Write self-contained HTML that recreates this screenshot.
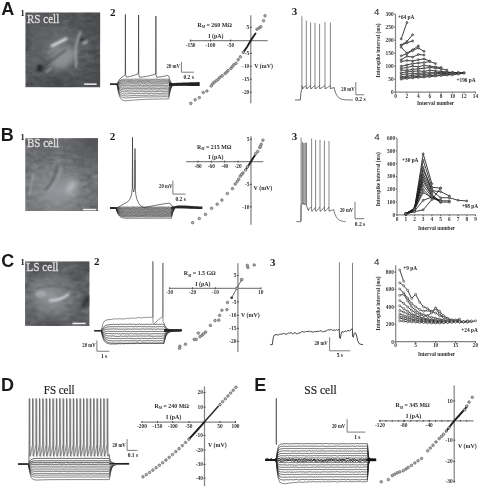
<!DOCTYPE html>
<html><head><meta charset="utf-8"><title>Figure</title>
<style>html,body{margin:0;padding:0;background:#fff;}body{width:480px;height:488px;overflow:hidden;}svg{display:block;filter:blur(0.3px);}</style>
</head><body>
<svg width="480" height="488" viewBox="0 0 480 488">
<defs>
<filter id="blur1" x="-20%" y="-20%" width="140%" height="140%"><feGaussianBlur stdDeviation="0.9"/></filter>
<filter id="blur2" x="-30%" y="-30%" width="160%" height="160%"><feGaussianBlur stdDeviation="2"/></filter>
<filter id="grain0" x="0" y="0" width="100%" height="100%" filterUnits="objectBoundingBox" color-interpolation-filters="sRGB"><feTurbulence type="fractalNoise" baseFrequency="0.13 0.22" numOctaves="4" seed="3"/><feColorMatrix type="matrix" values="0.33 0.33 0.33 0 0  0.33 0.33 0.33 0 0  0.33 0.33 0.33 0 0  0 0 0 0 1"/></filter>
<radialGradient id="rg0_0" cx="60" cy="50" r="30" gradientUnits="userSpaceOnUse"><stop offset="0" stop-color="#858585" stop-opacity="0.9"/><stop offset="1" stop-color="#858585" stop-opacity="0"/></radialGradient>
<radialGradient id="rg0_1" cx="40" cy="30" r="20" gradientUnits="userSpaceOnUse"><stop offset="0" stop-color="#6c6c6c" stop-opacity="0.6"/><stop offset="1" stop-color="#6c6c6c" stop-opacity="0"/></radialGradient>
<radialGradient id="rg0_2" cx="62" cy="96" r="26" gradientUnits="userSpaceOnUse"><stop offset="0" stop-color="#3c3c3c" stop-opacity="0.7"/><stop offset="1" stop-color="#3c3c3c" stop-opacity="0"/></radialGradient>
<radialGradient id="rg0_3" cx="102" cy="24" r="24" gradientUnits="userSpaceOnUse"><stop offset="0" stop-color="#474747" stop-opacity="0.7"/><stop offset="1" stop-color="#474747" stop-opacity="0"/></radialGradient>
<radialGradient id="rg0_4" cx="102" cy="78" r="22" gradientUnits="userSpaceOnUse"><stop offset="0" stop-color="#444" stop-opacity="0.6"/><stop offset="1" stop-color="#444" stop-opacity="0"/></radialGradient>
<radialGradient id="rg0_5" cx="32" cy="60" r="14" gradientUnits="userSpaceOnUse"><stop offset="0" stop-color="#777" stop-opacity="0.5"/><stop offset="1" stop-color="#777" stop-opacity="0"/></radialGradient>
<clipPath id="clip0"><rect x="25.5" y="12.5" width="74.6" height="74.7"/></clipPath>
<filter id="grain1" x="0" y="0" width="100%" height="100%" filterUnits="objectBoundingBox" color-interpolation-filters="sRGB"><feTurbulence type="fractalNoise" baseFrequency="0.13 0.22" numOctaves="4" seed="11"/><feColorMatrix type="matrix" values="0.33 0.33 0.33 0 0  0.33 0.33 0.33 0 0  0.33 0.33 0.33 0 0  0 0 0 0 1"/></filter>
<radialGradient id="rg1_0" cx="56" cy="192" r="36" gradientUnits="userSpaceOnUse"><stop offset="0" stop-color="#a4a4a4" stop-opacity="0.9"/><stop offset="1" stop-color="#a4a4a4" stop-opacity="0"/></radialGradient>
<radialGradient id="rg1_1" cx="70" cy="188" r="14" gradientUnits="userSpaceOnUse"><stop offset="0" stop-color="#b8b8b8" stop-opacity="0.6"/><stop offset="1" stop-color="#b8b8b8" stop-opacity="0"/></radialGradient>
<radialGradient id="rg1_2" cx="94" cy="140" r="36" gradientUnits="userSpaceOnUse"><stop offset="0" stop-color="#525252" stop-opacity="0.85"/><stop offset="1" stop-color="#525252" stop-opacity="0"/></radialGradient>
<radialGradient id="rg1_3" cx="40" cy="140" r="24" gradientUnits="userSpaceOnUse"><stop offset="0" stop-color="#5e5e5e" stop-opacity="0.6"/><stop offset="1" stop-color="#5e5e5e" stop-opacity="0"/></radialGradient>
<radialGradient id="rg1_4" cx="99" cy="212" r="16" gradientUnits="userSpaceOnUse"><stop offset="0" stop-color="#5c5c5c" stop-opacity="0.5"/><stop offset="1" stop-color="#5c5c5c" stop-opacity="0"/></radialGradient>
<clipPath id="clip1"><rect x="25.3" y="138.2" width="72.7" height="72.8"/></clipPath>
<filter id="grain2" x="0" y="0" width="100%" height="100%" filterUnits="objectBoundingBox" color-interpolation-filters="sRGB"><feTurbulence type="fractalNoise" baseFrequency="0.13 0.22" numOctaves="4" seed="21"/><feColorMatrix type="matrix" values="0.33 0.33 0.33 0 0  0.33 0.33 0.33 0 0  0.33 0.33 0.33 0 0  0 0 0 0 1"/></filter>
<radialGradient id="rg2_0" cx="52" cy="298" r="30" gradientUnits="userSpaceOnUse"><stop offset="0" stop-color="#a6a6a6" stop-opacity="0.9"/><stop offset="1" stop-color="#a6a6a6" stop-opacity="0"/></radialGradient>
<radialGradient id="rg2_1" cx="40" cy="290" r="14" gradientUnits="userSpaceOnUse"><stop offset="0" stop-color="#a0a0a0" stop-opacity="0.5"/><stop offset="1" stop-color="#a0a0a0" stop-opacity="0"/></radialGradient>
<radialGradient id="rg2_2" cx="42" cy="262" r="18" gradientUnits="userSpaceOnUse"><stop offset="0" stop-color="#4c4c4c" stop-opacity="0.5"/><stop offset="1" stop-color="#4c4c4c" stop-opacity="0"/></radialGradient>
<radialGradient id="rg2_3" cx="82" cy="262" r="20" gradientUnits="userSpaceOnUse"><stop offset="0" stop-color="#4c4c4c" stop-opacity="0.6"/><stop offset="1" stop-color="#4c4c4c" stop-opacity="0"/></radialGradient>
<radialGradient id="rg2_4" cx="50" cy="330" r="20" gradientUnits="userSpaceOnUse"><stop offset="0" stop-color="#444" stop-opacity="0.7"/><stop offset="1" stop-color="#444" stop-opacity="0"/></radialGradient>
<radialGradient id="rg2_5" cx="87" cy="301" r="8" gradientUnits="userSpaceOnUse"><stop offset="0" stop-color="#3a3a3a" stop-opacity="0.7"/><stop offset="1" stop-color="#3a3a3a" stop-opacity="0"/></radialGradient>
<clipPath id="clip2"><rect x="25.1" y="261.5" width="64.3" height="64.4"/></clipPath>
</defs>
<rect width="480" height="488" fill="#fff"/>
<text x="1.2" y="15.3" font-family="Liberation Sans, sans-serif" font-size="18" font-weight="bold" fill="#1a1a1a" text-anchor="start" >A</text>
<text x="0.8" y="140.7" font-family="Liberation Sans, sans-serif" font-size="18" font-weight="bold" fill="#1a1a1a" text-anchor="start" >B</text>
<text x="1.2" y="266.8" font-family="Liberation Sans, sans-serif" font-size="18" font-weight="bold" fill="#1a1a1a" text-anchor="start" >C</text>
<text x="1" y="390.5" font-family="Liberation Sans, sans-serif" font-size="18" font-weight="bold" fill="#1a1a1a" text-anchor="start" >D</text>
<text x="254.2" y="390.9" font-family="Liberation Sans, sans-serif" font-size="18" font-weight="bold" fill="#1a1a1a" text-anchor="start" >E</text>
<text x="20.4" y="15.6" font-family="Liberation Serif, serif" font-size="8.4" font-weight="bold" fill="#1a1a1a" text-anchor="start" >1</text>
<text x="109.9" y="15.5" font-family="Liberation Serif, serif" font-size="11" font-weight="bold" fill="#1a1a1a" text-anchor="start" >2</text>
<text x="291.7" y="15.4" font-family="Liberation Serif, serif" font-size="11" font-weight="bold" fill="#1a1a1a" text-anchor="start" >3</text>
<text x="374" y="15.1" font-family="Liberation Sans, sans-serif" font-size="9.8" font-weight="normal" fill="#1a1a1a" text-anchor="start" >4</text>
<text x="20.4" y="140.1" font-family="Liberation Serif, serif" font-size="8.4" font-weight="bold" fill="#1a1a1a" text-anchor="start" >1</text>
<text x="109.8" y="140.1" font-family="Liberation Serif, serif" font-size="11" font-weight="bold" fill="#1a1a1a" text-anchor="start" >2</text>
<text x="291.7" y="140.1" font-family="Liberation Serif, serif" font-size="11" font-weight="bold" fill="#1a1a1a" text-anchor="start" >3</text>
<text x="374.2" y="140.3" font-family="Liberation Sans, sans-serif" font-size="9.8" font-weight="normal" fill="#1a1a1a" text-anchor="start" >4</text>
<text x="20.4" y="265.1" font-family="Liberation Serif, serif" font-size="8.4" font-weight="bold" fill="#1a1a1a" text-anchor="start" >1</text>
<text x="93.9" y="265" font-family="Liberation Serif, serif" font-size="11" font-weight="bold" fill="#1a1a1a" text-anchor="start" >2</text>
<text x="269.9" y="266.3" font-family="Liberation Serif, serif" font-size="11" font-weight="bold" fill="#1a1a1a" text-anchor="start" >3</text>
<text x="374" y="264.6" font-family="Liberation Sans, sans-serif" font-size="9.8" font-weight="normal" fill="#1a1a1a" text-anchor="start" >4</text>
<g>
<rect x="25.5" y="12.5" width="74.6" height="74.7" fill="#595959"/>
<rect x="25.5" y="12.5" width="74.6" height="74.7" filter="url(#grain0)" opacity="0.45" style="mix-blend-mode:overlay"/>
<rect x="25.5" y="12.5" width="74.6" height="74.7" fill="url(#rg0_0)"/>
<rect x="25.5" y="12.5" width="74.6" height="74.7" fill="url(#rg0_1)"/>
<rect x="25.5" y="12.5" width="74.6" height="74.7" fill="url(#rg0_2)"/>
<rect x="25.5" y="12.5" width="74.6" height="74.7" fill="url(#rg0_3)"/>
<rect x="25.5" y="12.5" width="74.6" height="74.7" fill="url(#rg0_4)"/>
<rect x="25.5" y="12.5" width="74.6" height="74.7" fill="url(#rg0_5)"/>
<g clip-path="url(#clip0)"><g filter="url(#blur1)">
<ellipse cx="63" cy="58" rx="13" ry="9" transform="rotate(-35 63 58)" fill="#a0a0a0" opacity="0.8" filter="url(#blur2)"/>
<path d="M41,69 C48,63 56,57 66,50" stroke="#3c3c3c" stroke-width="2.4" fill="none" opacity="0.55"/>
<path d="M52,45.8 L66,38.8" stroke="#f2f2f2" stroke-width="2.6" stroke-linecap="round"/>
<path d="M80.5,32 C77,39 75,46 75.6,55 C76.2,60 76.5,63 75.8,67" stroke="#b8b8b8" stroke-width="1.7" fill="none" stroke-linecap="round"/>
<path d="M83.5,43.5 L87,41.4" stroke="#d8d8d8" stroke-width="1.8" stroke-linecap="round"/>
<ellipse cx="39.8" cy="68" rx="2.8" ry="3.6" fill="#2a2a2a"/>
<ellipse cx="82" cy="39.6" rx="2.6" ry="1.9" fill="#303030"/>
<path d="M46,72 L51,68.5" stroke="#a8a8a8" stroke-width="1.6" stroke-linecap="round"/>
<path d="M48,53 L58,47" stroke="#999" stroke-width="1.6" stroke-linecap="round"/>
</g></g>
<rect x="25.5" y="12.5" width="74.6" height="74.7" fill="#eef1f8" style="mix-blend-mode:multiply"/>
<rect x="84.2" y="83.4" width="12.4" height="1.5" fill="#f0f0f0"/>
<text x="27" y="22.6" font-family="Liberation Serif, serif" font-size="11.8" font-weight="normal" fill="#dcdcdc" text-anchor="start" textLength="32.2" lengthAdjust="spacingAndGlyphs" stroke="#dcdcdc" stroke-width="0.35">RS cell</text>
</g>
<g>
<rect x="25.3" y="138.2" width="72.7" height="72.8" fill="#777777"/>
<rect x="25.3" y="138.2" width="72.7" height="72.8" filter="url(#grain1)" opacity="0.4" style="mix-blend-mode:overlay"/>
<rect x="25.3" y="138.2" width="72.7" height="72.8" fill="url(#rg1_0)"/>
<rect x="25.3" y="138.2" width="72.7" height="72.8" fill="url(#rg1_1)"/>
<rect x="25.3" y="138.2" width="72.7" height="72.8" fill="url(#rg1_2)"/>
<rect x="25.3" y="138.2" width="72.7" height="72.8" fill="url(#rg1_3)"/>
<rect x="25.3" y="138.2" width="72.7" height="72.8" fill="url(#rg1_4)"/>
<g clip-path="url(#clip1)"><g filter="url(#blur1)">
<path d="M33.5,174 C31.5,181 30.6,188 29.8,196" stroke="#b0b0b0" stroke-width="1.4" fill="none"/>
<path d="M58,163 C57,170 55,177 51,183 C49,186 47,188 45,190" stroke="#5a5a5a" stroke-width="2.2" fill="none" opacity="0.75"/>
<path d="M61,167 C60,174 58,180 54,186 C52,189 50,191 48,193" stroke="#a8a8a8" stroke-width="2.6" fill="none" opacity="0.6"/>
<path d="M75,181 C72,186 70,189 67.5,192.5" stroke="#d0d0d0" stroke-width="4" fill="none" opacity="0.85" filter="url(#blur2)"/>
</g></g>
<rect x="25.3" y="138.2" width="72.7" height="72.8" fill="#eef1f8" style="mix-blend-mode:multiply"/>
<rect x="82.9" y="208.8" width="13.4" height="1.5" fill="#f0f0f0"/>
<text x="26.9" y="146.8" font-family="Liberation Serif, serif" font-size="11.8" font-weight="normal" fill="#dcdcdc" text-anchor="start" textLength="32.2" lengthAdjust="spacingAndGlyphs" stroke="#dcdcdc" stroke-width="0.35">BS cell</text>
</g>
<g>
<rect x="25.1" y="261.5" width="64.3" height="64.4" fill="#646464"/>
<rect x="25.1" y="261.5" width="64.3" height="64.4" filter="url(#grain2)" opacity="0.45" style="mix-blend-mode:overlay"/>
<rect x="25.1" y="261.5" width="64.3" height="64.4" fill="url(#rg2_0)"/>
<rect x="25.1" y="261.5" width="64.3" height="64.4" fill="url(#rg2_1)"/>
<rect x="25.1" y="261.5" width="64.3" height="64.4" fill="url(#rg2_2)"/>
<rect x="25.1" y="261.5" width="64.3" height="64.4" fill="url(#rg2_3)"/>
<rect x="25.1" y="261.5" width="64.3" height="64.4" fill="url(#rg2_4)"/>
<rect x="25.1" y="261.5" width="64.3" height="64.4" fill="url(#rg2_5)"/>
<g clip-path="url(#clip2)"><g filter="url(#blur1)">
<path d="M36,289.5 C45,285 58,285 70,289" stroke="#555" stroke-width="1.6" fill="none" opacity="0.6"/>
<path d="M49.5,300.5 C56,301 63,298.5 68.5,294.3" stroke="#f5f5f5" stroke-width="1.7" fill="none" stroke-linecap="round"/>
<ellipse cx="41" cy="294" rx="6" ry="3.4" fill="#b8b8b8" opacity="0.8"/>
<path d="M83,307 L88.5,296" stroke="#363636" stroke-width="2.4" />
<path d="M63,270 L78,265" stroke="#7a7a7a" stroke-width="2.2" />
</g></g>
<rect x="25.1" y="261.5" width="64.3" height="64.4" fill="#eef1f8" style="mix-blend-mode:multiply"/>
<rect x="72.5" y="322.7" width="13.1" height="1.5" fill="#f0f0f0"/>
<text x="26.3" y="271.2" font-family="Liberation Serif, serif" font-size="11.8" font-weight="normal" fill="#dcdcdc" text-anchor="start" textLength="32.2" lengthAdjust="spacingAndGlyphs" stroke="#dcdcdc" stroke-width="0.35">LS cell</text>
</g>
<path d="M110,84.4 L110.7,84.4 L111.4,84.4 L112.1,84.4 L112.8,84.4 L113.5,84.4 L114.2,84.4 L114.9,84.4 L115.6,84.4 L116.3,84.4 L117,84.4 L117.7,83.17 L118.4,81.9 L119.1,81.28 L119.8,80.43 L120.5,80.21 L121.2,79.84 L121.9,79.5 L122.6,79.55 L123.3,79.24 L124,79.34 L124.7,79.13 L125.4,79.11 L126.1,79.23 L126.8,79.39 L127.5,79.06 L128.2,79.1 L128.9,79.27 L129.6,79.41 L130.3,79.24 L131,79.16 L131.7,79.41 L132.4,79 L133.1,79.36 L133.8,79.11 L134.5,79.04 L135.2,79.03 L135.9,79.12 L136.6,79.34 L137.3,79.06 L138,79.24 L138.7,79.26 L139.4,79.14 L140.1,79.22 L140.8,79.01 L141.5,79.01 L142.2,79.07 L142.9,79.28 L143.6,79.17 L144.3,79.12 L145,79.24 L145.7,79.18 L146.4,79.11 L147.1,79.33 L147.8,79.29 L148.5,79.09 L149.2,79.23 L149.9,79.21 L150.6,79.37 L151.3,79.3 L152,79.11 L152.7,79.41 L153.4,79.03 L154.1,79.16 L154.8,79.31 L155.5,79.05 L156.2,79.2 L156.9,79 L157.6,79.27 L158.3,79.32 L159,79.23 L159.7,79.37 L160.4,79.12 L161.1,79.29 L161.8,79.24 L162.5,79.24 L163.2,79.18 L163.9,79.35 L164.6,79.4 L165.3,79.19 L166,79.27 L166.7,79.01 L167.4,79.29 L168.1,79.26 L168.8,79.42 L169.5,80.91 L170.2,82.1 L170.9,82.94 L171.6,83.52 L172.3,83.93 L173,84.21 L173.7,84.4 L174.4,84.53 L175.1,84.62 L175.8,84.68 L176.5,84.72 L177.2,84.74 L177.9,84.76 L178.6,84.76 L179.3,84.76 L180,84.76 L180.7,84.76 L181.4,84.75 L182.1,84.75 L182.8,84.74 L183.5,84.73 L184.2,84.72 L184.9,84.71 L185.6,84.71 L186.3,84.7 L187,84.69 L187.7,84.68 L188.4,84.67 L189.1,84.67 L189.8,84.66 L190.5,84.65 L191.2,84.64 L191.9,84.64 L192.6,84.63 L193.3,84.63 L194,84.62 L194.7,84.61 L195.4,84.61 L196.1,84.6 L196.8,84.6 L197.5,84.59 L198.2,84.59 L198.9,84.58" fill="none" stroke="#2b2b2b" stroke-width="0.62" stroke-linejoin="round" />
<path d="M110,84.4 L110.7,84.4 L111.4,84.4 L112.1,84.4 L112.8,84.4 L113.5,84.4 L114.2,84.4 L114.9,84.4 L115.6,84.4 L116.3,84.4 L117,84.4 L117.7,83.66 L118.4,82.5 L119.1,81.9 L119.8,81.56 L120.5,80.96 L121.2,80.92 L121.9,80.64 L122.6,80.5 L123.3,80.4 L124,80.65 L124.7,80.33 L125.4,80.36 L126.1,80.4 L126.8,80.6 L127.5,80.24 L128.2,80.39 L128.9,80.43 L129.6,80.58 L130.3,80.55 L131,80.56 L131.7,80.31 L132.4,80.36 L133.1,80.34 L133.8,80.57 L134.5,80.6 L135.2,80.25 L135.9,80.26 L136.6,80.28 L137.3,80.28 L138,80.39 L138.7,80.44 L139.4,80.3 L140.1,80.18 L140.8,80.36 L141.5,80.34 L142.2,80.43 L142.9,80.6 L143.6,80.48 L144.3,80.41 L145,80.45 L145.7,80.48 L146.4,80.2 L147.1,80.58 L147.8,80.52 L148.5,80.56 L149.2,80.53 L149.9,80.35 L150.6,80.36 L151.3,80.23 L152,80.46 L152.7,80.21 L153.4,80.21 L154.1,80.27 L154.8,80.25 L155.5,80.33 L156.2,80.2 L156.9,80.18 L157.6,80.25 L158.3,80.22 L159,80.34 L159.7,80.19 L160.4,80.56 L161.1,80.45 L161.8,80.25 L162.5,80.29 L163.2,80.33 L163.9,80.34 L164.6,80.23 L165.3,80.55 L166,80.62 L166.7,80.39 L167.4,80.39 L168.1,80.22 L168.8,80.22 L169.5,81.75 L170.2,82.7 L170.9,83.36 L171.6,83.82 L172.3,84.14 L173,84.36 L173.7,84.51 L174.4,84.61 L175.1,84.67 L175.8,84.72 L176.5,84.75 L177.2,84.76 L177.9,84.77 L178.6,84.77 L179.3,84.77 L180,84.77 L180.7,84.76 L181.4,84.75 L182.1,84.75 L182.8,84.74 L183.5,84.73 L184.2,84.72 L184.9,84.71 L185.6,84.71 L186.3,84.7 L187,84.69 L187.7,84.68 L188.4,84.67 L189.1,84.67 L189.8,84.66 L190.5,84.65 L191.2,84.64 L191.9,84.64 L192.6,84.63 L193.3,84.63 L194,84.62 L194.7,84.61 L195.4,84.61 L196.1,84.6 L196.8,84.6 L197.5,84.59 L198.2,84.59 L198.9,84.58" fill="none" stroke="#2b2b2b" stroke-width="0.62" stroke-linejoin="round" />
<path d="M110,84.4 L110.7,84.4 L111.4,84.4 L112.1,84.4 L112.8,84.4 L113.5,84.4 L114.2,84.4 L114.9,84.4 L115.6,84.4 L116.3,84.4 L117,84.4 L117.7,83.71 L118.4,83.03 L119.1,82.83 L119.8,82.21 L120.5,81.93 L121.2,82.18 L121.9,81.88 L122.6,81.63 L123.3,81.75 L124,81.49 L124.7,81.68 L125.4,81.86 L126.1,81.79 L126.8,81.71 L127.5,81.51 L128.2,81.55 L128.9,81.46 L129.6,81.73 L130.3,81.62 L131,81.73 L131.7,81.53 L132.4,81.48 L133.1,81.74 L133.8,81.81 L134.5,81.76 L135.2,81.74 L135.9,81.74 L136.6,81.71 L137.3,81.48 L138,81.61 L138.7,81.54 L139.4,81.39 L140.1,81.39 L140.8,81.5 L141.5,81.49 L142.2,81.68 L142.9,81.8 L143.6,81.58 L144.3,81.79 L145,81.81 L145.7,81.8 L146.4,81.54 L147.1,81.48 L147.8,81.48 L148.5,81.47 L149.2,81.47 L149.9,81.65 L150.6,81.78 L151.3,81.75 L152,81.59 L152.7,81.67 L153.4,81.73 L154.1,81.42 L154.8,81.67 L155.5,81.78 L156.2,81.72 L156.9,81.71 L157.6,81.59 L158.3,81.46 L159,81.73 L159.7,81.53 L160.4,81.73 L161.1,81.81 L161.8,81.55 L162.5,81.56 L163.2,81.8 L163.9,81.7 L164.6,81.45 L165.3,81.44 L166,81.45 L166.7,81.78 L167.4,81.73 L168.1,81.44 L168.8,81.74 L169.5,82.6 L170.2,83.3 L170.9,83.78 L171.6,84.11 L172.3,84.34 L173,84.5 L173.7,84.61 L174.4,84.68 L175.1,84.73 L175.8,84.76 L176.5,84.77 L177.2,84.78 L177.9,84.78 L178.6,84.78 L179.3,84.78 L180,84.77 L180.7,84.76 L181.4,84.76 L182.1,84.75 L182.8,84.74 L183.5,84.73 L184.2,84.72 L184.9,84.71 L185.6,84.71 L186.3,84.7 L187,84.69 L187.7,84.68 L188.4,84.67 L189.1,84.67 L189.8,84.66 L190.5,84.65 L191.2,84.64 L191.9,84.64 L192.6,84.63 L193.3,84.63 L194,84.62 L194.7,84.61 L195.4,84.61 L196.1,84.6 L196.8,84.6 L197.5,84.59 L198.2,84.59 L198.9,84.58" fill="none" stroke="#2b2b2b" stroke-width="0.62" stroke-linejoin="round" />
<path d="M110,84.4 L110.7,84.4 L111.4,84.4 L112.1,84.4 L112.8,84.4 L113.5,84.4 L114.2,84.4 L114.9,84.4 L115.6,84.4 L116.3,84.4 L117,84.4 L117.7,84.26 L118.4,83.75 L119.1,83.35 L119.8,83.26 L120.5,82.94 L121.2,82.8 L121.9,83.16 L122.6,82.97 L123.3,82.89 L124,83.04 L124.7,82.81 L125.4,82.99 L126.1,82.96 L126.8,82.69 L127.5,82.7 L128.2,82.72 L128.9,82.69 L129.6,82.84 L130.3,82.7 L131,82.77 L131.7,82.64 L132.4,82.98 L133.1,82.74 L133.8,82.78 L134.5,82.84 L135.2,82.98 L135.9,82.77 L136.6,82.98 L137.3,82.8 L138,82.81 L138.7,82.81 L139.4,82.59 L140.1,82.77 L140.8,82.66 L141.5,82.58 L142.2,82.93 L142.9,82.66 L143.6,82.79 L144.3,82.9 L145,82.82 L145.7,82.72 L146.4,82.81 L147.1,82.82 L147.8,82.93 L148.5,82.63 L149.2,82.83 L149.9,82.69 L150.6,82.7 L151.3,82.92 L152,82.8 L152.7,82.83 L153.4,82.91 L154.1,82.98 L154.8,82.78 L155.5,82.85 L156.2,82.8 L156.9,82.81 L157.6,82.88 L158.3,82.78 L159,82.81 L159.7,82.79 L160.4,82.99 L161.1,82.89 L161.8,82.97 L162.5,82.99 L163.2,82.69 L163.9,82.83 L164.6,83 L165.3,82.95 L166,82.64 L166.7,82.63 L167.4,82.77 L168.1,82.61 L168.8,82.69 L169.5,83.44 L170.2,83.89 L170.9,84.2 L171.6,84.41 L172.3,84.55 L173,84.65 L173.7,84.71 L174.4,84.75 L175.1,84.78 L175.8,84.79 L176.5,84.8 L177.2,84.8 L177.9,84.8 L178.6,84.79 L179.3,84.78 L180,84.78 L180.7,84.77 L181.4,84.76 L182.1,84.75 L182.8,84.74 L183.5,84.73 L184.2,84.72 L184.9,84.71 L185.6,84.71 L186.3,84.7 L187,84.69 L187.7,84.68 L188.4,84.67 L189.1,84.67 L189.8,84.66 L190.5,84.65 L191.2,84.64 L191.9,84.64 L192.6,84.63 L193.3,84.63 L194,84.62 L194.7,84.61 L195.4,84.61 L196.1,84.6 L196.8,84.6 L197.5,84.59 L198.2,84.59 L198.9,84.58" fill="none" stroke="#2b2b2b" stroke-width="0.62" stroke-linejoin="round" />
<path d="M110,84.4 L110.7,84.4 L111.4,84.4 L112.1,84.4 L112.8,84.4 L113.5,84.4 L114.2,84.4 L114.9,84.4 L115.6,84.4 L116.3,84.4 L117,84.4 L117.7,84.12 L118.4,84.29 L119.1,84.28 L119.8,84.28 L120.5,83.92 L121.2,84.15 L121.9,84.11 L122.6,83.87 L123.3,84.19 L124,84.22 L124.7,83.89 L125.4,84.21 L126.1,83.96 L126.8,84 L127.5,84.22 L128.2,84.15 L128.9,83.85 L129.6,83.97 L130.3,84.01 L131,83.93 L131.7,83.87 L132.4,83.92 L133.1,84.1 L133.8,83.79 L134.5,84.02 L135.2,83.97 L135.9,83.79 L136.6,83.93 L137.3,84.05 L138,84.01 L138.7,83.81 L139.4,84.21 L140.1,84.13 L140.8,84.21 L141.5,83.83 L142.2,83.9 L142.9,83.8 L143.6,84.12 L144.3,83.9 L145,83.84 L145.7,83.97 L146.4,84.18 L147.1,84.14 L147.8,83.89 L148.5,83.85 L149.2,84.18 L149.9,84.03 L150.6,84.09 L151.3,83.82 L152,83.81 L152.7,84.08 L153.4,83.97 L154.1,83.81 L154.8,84.19 L155.5,84.06 L156.2,84.13 L156.9,83.82 L157.6,84.16 L158.3,83.81 L159,84.16 L159.7,83.98 L160.4,83.93 L161.1,84.02 L161.8,84.19 L162.5,83.9 L163.2,83.84 L163.9,84.01 L164.6,83.88 L165.3,83.83 L166,83.85 L166.7,83.8 L167.4,83.87 L168.1,83.92 L168.8,83.91 L169.5,84.29 L170.2,84.49 L170.9,84.62 L171.6,84.71 L172.3,84.76 L173,84.8 L173.7,84.82 L174.4,84.83 L175.1,84.83 L175.8,84.83 L176.5,84.82 L177.2,84.82 L177.9,84.81 L178.6,84.8 L179.3,84.79 L180,84.78 L180.7,84.77 L181.4,84.76 L182.1,84.75 L182.8,84.74 L183.5,84.73 L184.2,84.72 L184.9,84.71 L185.6,84.71 L186.3,84.7 L187,84.69 L187.7,84.68 L188.4,84.67 L189.1,84.67 L189.8,84.66 L190.5,84.65 L191.2,84.64 L191.9,84.64 L192.6,84.63 L193.3,84.63 L194,84.62 L194.7,84.61 L195.4,84.61 L196.1,84.6 L196.8,84.6 L197.5,84.59 L198.2,84.59 L198.9,84.58" fill="none" stroke="#2b2b2b" stroke-width="0.62" stroke-linejoin="round" />
<path d="M110,84.4 L110.7,84.4 L111.4,84.4 L112.1,84.4 L112.8,84.4 L113.5,84.4 L114.2,84.4 L114.9,84.4 L115.6,84.4 L116.3,84.4 L117,84.4 L117.7,84.78 L118.4,84.85 L119.1,85.13 L119.8,85.12 L120.5,85.29 L121.2,85.2 L121.9,85.35 L122.6,85.28 L123.3,85.61 L124,85.55 L124.7,85.4 L125.4,85.53 L126.1,85.73 L126.8,85.37 L127.5,85.69 L128.2,85.51 L128.9,85.54 L129.6,85.69 L130.3,85.5 L131,85.54 L131.7,85.62 L132.4,85.75 L133.1,85.47 L133.8,85.68 L134.5,85.63 L135.2,85.59 L135.9,85.49 L136.6,85.47 L137.3,85.34 L138,85.37 L138.7,85.34 L139.4,85.63 L140.1,85.42 L140.8,85.38 L141.5,85.34 L142.2,85.68 L142.9,85.69 L143.6,85.6 L144.3,85.43 L145,85.41 L145.7,85.43 L146.4,85.51 L147.1,85.37 L147.8,85.5 L148.5,85.42 L149.2,85.72 L149.9,85.73 L150.6,85.54 L151.3,85.41 L152,85.73 L152.7,85.44 L153.4,85.46 L154.1,85.3 L154.8,85.47 L155.5,85.51 L156.2,85.52 L156.9,85.39 L157.6,85.52 L158.3,85.3 L159,85.41 L159.7,85.34 L160.4,85.47 L161.1,85.32 L161.8,85.31 L162.5,85.43 L163.2,85.4 L163.9,85.56 L164.6,85.53 L165.3,85.63 L166,85.59 L166.7,85.61 L167.4,85.68 L168.1,85.47 L168.8,85.44 L169.5,85.36 L170.2,85.24 L170.9,85.15 L171.6,85.08 L172.3,85.03 L173,84.98 L173.7,84.95 L174.4,84.92 L175.1,84.89 L175.8,84.87 L176.5,84.86 L177.2,84.84 L177.9,84.82 L178.6,84.81 L179.3,84.8 L180,84.79 L180.7,84.77 L181.4,84.76 L182.1,84.75 L182.8,84.74 L183.5,84.73 L184.2,84.72 L184.9,84.72 L185.6,84.71 L186.3,84.7 L187,84.69 L187.7,84.68 L188.4,84.67 L189.1,84.67 L189.8,84.66 L190.5,84.65 L191.2,84.64 L191.9,84.64 L192.6,84.63 L193.3,84.63 L194,84.62 L194.7,84.61 L195.4,84.61 L196.1,84.6 L196.8,84.6 L197.5,84.59 L198.2,84.59 L198.9,84.58" fill="none" stroke="#2b2b2b" stroke-width="0.62" stroke-linejoin="round" />
<path d="M110,84.4 L110.7,84.4 L111.4,84.4 L112.1,84.4 L112.8,84.4 L113.5,84.4 L114.2,84.4 L114.9,84.4 L115.6,84.4 L116.3,84.4 L117,84.4 L117.7,85.23 L118.4,85.5 L119.1,86.19 L119.8,86.47 L120.5,86.42 L121.2,86.91 L121.9,87.04 L122.6,86.99 L123.3,87.08 L124,87.15 L124.7,86.87 L125.4,87.05 L126.1,87.05 L126.8,87.2 L127.5,87.18 L128.2,87.19 L128.9,87.08 L129.6,87.22 L130.3,87.12 L131,87.12 L131.7,86.91 L132.4,86.82 L133.1,86.86 L133.8,86.96 L134.5,86.85 L135.2,87.16 L135.9,87.04 L136.6,87.07 L137.3,87.06 L138,87.09 L138.7,87 L139.4,86.78 L140.1,87.13 L140.8,87.11 L141.5,87 L142.2,87.01 L142.9,87.06 L143.6,86.8 L144.3,87.09 L145,86.88 L145.7,86.8 L146.4,86.88 L147.1,87.09 L147.8,86.85 L148.5,87.09 L149.2,87.19 L149.9,86.98 L150.6,86.93 L151.3,86.97 L152,87.06 L152.7,87.09 L153.4,87.03 L154.1,87.04 L154.8,86.79 L155.5,86.82 L156.2,86.87 L156.9,87.08 L157.6,86.89 L158.3,87 L159,86.76 L159.7,86.78 L160.4,86.87 L161.1,87.05 L161.8,87.06 L162.5,87.05 L163.2,86.88 L163.9,86.98 L164.6,86.95 L165.3,86.95 L166,86.8 L166.7,87.14 L167.4,86.84 L168.1,87.18 L168.8,87.16 L169.5,86.38 L170.2,85.96 L170.9,85.66 L171.6,85.44 L172.3,85.28 L173,85.16 L173.7,85.07 L174.4,85.01 L175.1,84.96 L175.8,84.92 L176.5,84.89 L177.2,84.86 L177.9,84.84 L178.6,84.82 L179.3,84.81 L180,84.79 L180.7,84.78 L181.4,84.77 L182.1,84.76 L182.8,84.74 L183.5,84.73 L184.2,84.73 L184.9,84.72 L185.6,84.71 L186.3,84.7 L187,84.69 L187.7,84.68 L188.4,84.67 L189.1,84.67 L189.8,84.66 L190.5,84.65 L191.2,84.64 L191.9,84.64 L192.6,84.63 L193.3,84.63 L194,84.62 L194.7,84.61 L195.4,84.61 L196.1,84.6 L196.8,84.6 L197.5,84.59 L198.2,84.59 L198.9,84.58" fill="none" stroke="#2b2b2b" stroke-width="0.62" stroke-linejoin="round" />
<path d="M110,84.4 L110.7,84.4 L111.4,84.4 L112.1,84.4 L112.8,84.4 L113.5,84.4 L114.2,84.4 L114.9,84.4 L115.6,84.4 L116.3,84.4 L117,84.4 L117.7,85.16 L118.4,86.35 L119.1,87.2 L119.8,87.75 L120.5,87.85 L121.2,88 L121.9,88.13 L122.6,88.56 L123.3,88.3 L124,88.51 L124.7,88.34 L125.4,88.53 L126.1,88.73 L126.8,88.37 L127.5,88.67 L128.2,88.53 L128.9,88.69 L129.6,88.6 L130.3,88.39 L131,88.68 L131.7,88.49 L132.4,88.28 L133.1,88.26 L133.8,88.47 L134.5,88.45 L135.2,88.38 L135.9,88.3 L136.6,88.39 L137.3,88.37 L138,88.6 L138.7,88.22 L139.4,88.55 L140.1,88.58 L140.8,88.26 L141.5,88.61 L142.2,88.52 L142.9,88.6 L143.6,88.33 L144.3,88.36 L145,88.37 L145.7,88.63 L146.4,88.45 L147.1,88.34 L147.8,88.37 L148.5,88.3 L149.2,88.2 L149.9,88.22 L150.6,88.54 L151.3,88.3 L152,88.59 L152.7,88.28 L153.4,88.29 L154.1,88.39 L154.8,88.25 L155.5,88.33 L156.2,88.59 L156.9,88.55 L157.6,88.52 L158.3,88.44 L159,88.57 L159.7,88.58 L160.4,88.4 L161.1,88.48 L161.8,88.18 L162.5,88.48 L163.2,88.36 L163.9,88.49 L164.6,88.44 L165.3,88.28 L166,88.18 L166.7,88.56 L167.4,88.21 L168.1,88.36 L168.8,88.31 L169.5,87.37 L170.2,86.66 L170.9,86.15 L171.6,85.78 L172.3,85.52 L173,85.33 L173.7,85.19 L174.4,85.09 L175.1,85.02 L175.8,84.96 L176.5,84.92 L177.2,84.88 L177.9,84.85 L178.6,84.83 L179.3,84.81 L180,84.8 L180.7,84.78 L181.4,84.77 L182.1,84.76 L182.8,84.75 L183.5,84.74 L184.2,84.73 L184.9,84.72 L185.6,84.71 L186.3,84.7 L187,84.69 L187.7,84.68 L188.4,84.67 L189.1,84.67 L189.8,84.66 L190.5,84.65 L191.2,84.64 L191.9,84.64 L192.6,84.63 L193.3,84.63 L194,84.62 L194.7,84.61 L195.4,84.61 L196.1,84.6 L196.8,84.6 L197.5,84.59 L198.2,84.59 L198.9,84.58" fill="none" stroke="#2b2b2b" stroke-width="0.62" stroke-linejoin="round" />
<path d="M110,84.4 L110.7,84.4 L111.4,84.4 L112.1,84.4 L112.8,84.4 L113.5,84.4 L114.2,84.4 L114.9,84.4 L115.6,84.4 L116.3,84.4 L117,84.4 L117.7,85.68 L118.4,87.27 L119.1,88.35 L119.8,88.71 L120.5,89.34 L121.2,89.5 L121.9,89.83 L122.6,89.9 L123.3,89.89 L124,89.95 L124.7,90.01 L125.4,90.33 L126.1,90.16 L126.8,90.04 L127.5,90.34 L128.2,90.37 L128.9,90.12 L129.6,89.98 L130.3,89.99 L131,89.93 L131.7,90.03 L132.4,89.91 L133.1,89.97 L133.8,89.97 L134.5,90.09 L135.2,90.22 L135.9,90.16 L136.6,90 L137.3,89.99 L138,90.03 L138.7,89.96 L139.4,89.94 L140.1,89.81 L140.8,89.9 L141.5,90.2 L142.2,89.82 L142.9,89.98 L143.6,90.03 L144.3,90.13 L145,89.84 L145.7,89.86 L146.4,89.85 L147.1,89.91 L147.8,89.93 L148.5,90.15 L149.2,90.1 L149.9,90.11 L150.6,89.73 L151.3,89.73 L152,90.03 L152.7,90.11 L153.4,89.92 L154.1,89.97 L154.8,89.71 L155.5,89.88 L156.2,90.11 L156.9,90.07 L157.6,90.08 L158.3,90.13 L159,89.81 L159.7,89.75 L160.4,89.77 L161.1,89.93 L161.8,90 L162.5,90.11 L163.2,90.01 L163.9,89.98 L164.6,90.03 L165.3,89.89 L166,89.93 L166.7,89.71 L167.4,90.03 L168.1,89.79 L168.8,90.09 L169.5,88.02 L170.2,86.71 L170.9,85.79 L171.6,85.15 L172.3,84.71 L173,84.41 L173.7,84.2 L174.4,84.06 L175.1,83.97 L175.8,83.91 L176.5,83.87 L177.2,83.85 L177.9,83.84 L178.6,83.84 L179.3,83.84 L180,83.85 L180.7,83.86 L181.4,83.87 L182.1,83.88 L182.8,83.89 L183.5,83.9 L184.2,83.92 L184.9,83.93 L185.6,83.94 L186.3,83.95 L187,83.97 L187.7,83.98 L188.4,83.99 L189.1,84 L189.8,84.01 L190.5,84.02 L191.2,84.03 L191.9,84.04 L192.6,84.05 L193.3,84.06 L194,84.07 L194.7,84.08 L195.4,84.09 L196.1,84.1 L196.8,84.11 L197.5,84.11 L198.2,84.12 L198.9,84.13" fill="none" stroke="#2b2b2b" stroke-width="0.62" stroke-linejoin="round" />
<path d="M110,84.4 L110.7,84.4 L111.4,84.4 L112.1,84.4 L112.8,84.4 L113.5,84.4 L114.2,84.4 L114.9,84.4 L115.6,84.4 L116.3,84.4 L117,84.4 L117.7,86.27 L118.4,87.97 L119.1,89.17 L119.8,90.1 L120.5,90.88 L121.2,91.32 L121.9,91.33 L122.6,91.5 L123.3,91.82 L124,91.92 L124.7,91.87 L125.4,91.82 L126.1,92 L126.8,91.73 L127.5,91.85 L128.2,91.91 L128.9,92.11 L129.6,91.96 L130.3,92.05 L131,91.85 L131.7,91.73 L132.4,91.72 L133.1,92.02 L133.8,91.89 L134.5,91.7 L135.2,91.56 L135.9,91.76 L136.6,91.82 L137.3,91.7 L138,91.61 L138.7,91.78 L139.4,91.89 L140.1,91.57 L140.8,91.48 L141.5,91.6 L142.2,91.63 L142.9,91.74 L143.6,91.52 L144.3,91.77 L145,91.74 L145.7,91.63 L146.4,91.5 L147.1,91.83 L147.8,91.53 L148.5,91.75 L149.2,91.49 L149.9,91.48 L150.6,91.71 L151.3,91.5 L152,91.79 L152.7,91.59 L153.4,91.45 L154.1,91.46 L154.8,91.54 L155.5,91.65 L156.2,91.77 L156.9,91.42 L157.6,91.52 L158.3,91.44 L159,91.77 L159.7,91.41 L160.4,91.36 L161.1,91.37 L161.8,91.51 L162.5,91.73 L163.2,91.72 L163.9,91.66 L164.6,91.77 L165.3,91.74 L166,91.47 L166.7,91.41 L167.4,91.74 L168.1,91.66 L168.8,91.34 L169.5,89.18 L170.2,87.52 L170.9,86.36 L171.6,85.56 L172.3,85 L173,84.61 L173.7,84.34 L174.4,84.16 L175.1,84.04 L175.8,83.96 L176.5,83.9 L177.2,83.87 L177.9,83.86 L178.6,83.85 L179.3,83.85 L180,83.85 L180.7,83.86 L181.4,83.87 L182.1,83.88 L182.8,83.89 L183.5,83.91 L184.2,83.92 L184.9,83.93 L185.6,83.94 L186.3,83.95 L187,83.97 L187.7,83.98 L188.4,83.99 L189.1,84 L189.8,84.01 L190.5,84.02 L191.2,84.03 L191.9,84.04 L192.6,84.05 L193.3,84.06 L194,84.07 L194.7,84.08 L195.4,84.09 L196.1,84.1 L196.8,84.11 L197.5,84.11 L198.2,84.12 L198.9,84.13" fill="none" stroke="#2b2b2b" stroke-width="0.62" stroke-linejoin="round" />
<path d="M110,84.4 L110.7,84.4 L111.4,84.4 L112.1,84.4 L112.8,84.4 L113.5,84.4 L114.2,84.4 L114.9,84.4 L115.6,84.4 L116.3,84.4 L117,84.4 L117.7,86.76 L118.4,88.97 L119.1,90.58 L119.8,91.67 L120.5,92.36 L121.2,92.79 L121.9,93.26 L122.6,93.51 L123.3,93.92 L124,93.64 L124.7,94.06 L125.4,93.74 L126.1,93.81 L126.8,94.01 L127.5,93.99 L128.2,93.8 L128.9,93.61 L129.6,93.77 L130.3,93.7 L131,93.92 L131.7,93.57 L132.4,93.62 L133.1,93.83 L133.8,93.43 L134.5,93.57 L135.2,93.73 L135.9,93.69 L136.6,93.35 L137.3,93.33 L138,93.33 L138.7,93.69 L139.4,93.39 L140.1,93.59 L140.8,93.64 L141.5,93.38 L142.2,93.34 L142.9,93.63 L143.6,93.47 L144.3,93.31 L145,93.5 L145.7,93.31 L146.4,93.29 L147.1,93.16 L147.8,93.48 L148.5,93.55 L149.2,93.42 L149.9,93.55 L150.6,93.14 L151.3,93.22 L152,93.32 L152.7,93.53 L153.4,93.52 L154.1,93.27 L154.8,93.21 L155.5,93.28 L156.2,93.31 L156.9,93.49 L157.6,93.16 L158.3,93.43 L159,93.4 L159.7,93.44 L160.4,93.41 L161.1,93.34 L161.8,93.21 L162.5,93.21 L163.2,93.22 L163.9,93.4 L164.6,93.09 L165.3,93.14 L166,93.39 L166.7,93.16 L167.4,93.08 L168.1,93.07 L168.8,93.29 L169.5,90.39 L170.2,88.38 L170.9,86.97 L171.6,85.98 L172.3,85.29 L173,84.82 L173.7,84.49 L174.4,84.26 L175.1,84.11 L175.8,84.01 L176.5,83.94 L177.2,83.9 L177.9,83.87 L178.6,83.86 L179.3,83.86 L180,83.86 L180.7,83.87 L181.4,83.87 L182.1,83.88 L182.8,83.89 L183.5,83.91 L184.2,83.92 L184.9,83.93 L185.6,83.94 L186.3,83.95 L187,83.97 L187.7,83.98 L188.4,83.99 L189.1,84 L189.8,84.01 L190.5,84.02 L191.2,84.03 L191.9,84.04 L192.6,84.05 L193.3,84.06 L194,84.07 L194.7,84.08 L195.4,84.09 L196.1,84.1 L196.8,84.11 L197.5,84.11 L198.2,84.12 L198.9,84.13" fill="none" stroke="#2b2b2b" stroke-width="0.62" stroke-linejoin="round" />
<path d="M110,84.4 L110.7,84.4 L111.4,84.4 L112.1,84.4 L112.8,84.4 L113.5,84.4 L114.2,84.4 L114.9,84.4 L115.6,84.4 L116.3,84.4 L117,84.4 L117.7,87.14 L118.4,90.29 L119.1,92.22 L119.8,93.62 L120.5,94.22 L121.2,94.75 L121.9,95.16 L122.6,95.6 L123.3,95.86 L124,95.84 L124.7,95.8 L125.4,95.89 L126.1,95.98 L126.8,95.98 L127.5,95.99 L128.2,96 L128.9,95.89 L129.6,95.61 L130.3,95.89 L131,95.61 L131.7,95.7 L132.4,95.58 L133.1,95.71 L133.8,95.44 L134.5,95.43 L135.2,95.4 L135.9,95.33 L136.6,95.63 L137.3,95.47 L138,95.33 L138.7,95.34 L139.4,95.59 L140.1,95.35 L140.8,95.21 L141.5,95.45 L142.2,95.37 L142.9,95.5 L143.6,95.09 L144.3,95.24 L145,95.38 L145.7,95.38 L146.4,95.4 L147.1,95.01 L147.8,95.11 L148.5,95.02 L149.2,95.04 L149.9,95.38 L150.6,95.2 L151.3,95.34 L152,95.09 L152.7,95.3 L153.4,95.11 L154.1,95.02 L154.8,95.24 L155.5,95.31 L156.2,94.94 L156.9,95.15 L157.6,95.16 L158.3,94.97 L159,95.04 L159.7,94.93 L160.4,94.96 L161.1,94.98 L161.8,95.12 L162.5,95.14 L163.2,94.94 L163.9,94.86 L164.6,94.99 L165.3,95.15 L166,94.93 L166.7,94.98 L167.4,94.93 L168.1,95.19 L168.8,95.08 L169.5,91.65 L170.2,89.26 L170.9,87.59 L171.6,86.42 L172.3,85.61 L173,85.04 L173.7,84.64 L174.4,84.37 L175.1,84.19 L175.8,84.06 L176.5,83.98 L177.2,83.93 L177.9,83.89 L178.6,83.88 L179.3,83.87 L180,83.87 L180.7,83.87 L181.4,83.88 L182.1,83.89 L182.8,83.9 L183.5,83.91 L184.2,83.92 L184.9,83.93 L185.6,83.94 L186.3,83.95 L187,83.97 L187.7,83.98 L188.4,83.99 L189.1,84 L189.8,84.01 L190.5,84.02 L191.2,84.03 L191.9,84.04 L192.6,84.05 L193.3,84.06 L194,84.07 L194.7,84.08 L195.4,84.09 L196.1,84.1 L196.8,84.11 L197.5,84.11 L198.2,84.12 L198.9,84.13" fill="none" stroke="#2b2b2b" stroke-width="0.62" stroke-linejoin="round" />
<path d="M110,84.4 L110.7,84.4 L111.4,84.4 L112.1,84.4 L112.8,84.4 L113.5,84.4 L114.2,84.4 L114.9,84.4 L115.6,84.4 L116.3,84.4 L117,84.4 L117.7,87.54 L118.4,90.96 L119.1,93.42 L119.8,95.07 L120.5,96.18 L121.2,96.65 L121.9,97.15 L122.6,97.69 L123.3,97.74 L124,97.79 L124.7,97.85 L125.4,98.14 L126.1,97.84 L126.8,97.92 L127.5,97.79 L128.2,97.77 L128.9,97.92 L129.6,97.93 L130.3,97.6 L131,97.48 L131.7,97.66 L132.4,97.39 L133.1,97.25 L133.8,97.61 L134.5,97.36 L135.2,97.49 L135.9,97.27 L136.6,97.45 L137.3,97.23 L138,97.07 L138.7,96.98 L139.4,97.18 L140.1,97.2 L140.8,97.29 L141.5,96.91 L142.2,97.12 L142.9,96.99 L143.6,97.03 L144.3,96.85 L145,96.9 L145.7,96.99 L146.4,97.15 L147.1,96.77 L147.8,96.93 L148.5,97.05 L149.2,97.11 L149.9,96.76 L150.6,96.72 L151.3,97.07 L152,97.08 L152.7,96.85 L153.4,96.65 L154.1,97.03 L154.8,96.78 L155.5,97 L156.2,96.87 L156.9,96.96 L157.6,96.66 L158.3,96.93 L159,96.67 L159.7,96.75 L160.4,96.94 L161.1,96.93 L161.8,96.64 L162.5,96.65 L163.2,96.73 L163.9,96.77 L164.6,96.71 L165.3,96.59 L166,96.65 L166.7,96.85 L167.4,96.93 L168.1,96.55 L168.8,96.77 L169.5,92.84 L170.2,90.1 L170.9,88.18 L171.6,86.84 L172.3,85.9 L173,85.24 L173.7,84.79 L174.4,84.48 L175.1,84.26 L175.8,84.11 L176.5,84.02 L177.2,83.95 L177.9,83.91 L178.6,83.89 L179.3,83.88 L180,83.87 L180.7,83.87 L181.4,83.88 L182.1,83.89 L182.8,83.9 L183.5,83.91 L184.2,83.92 L184.9,83.93 L185.6,83.94 L186.3,83.96 L187,83.97 L187.7,83.98 L188.4,83.99 L189.1,84 L189.8,84.01 L190.5,84.02 L191.2,84.03 L191.9,84.04 L192.6,84.05 L193.3,84.06 L194,84.07 L194.7,84.08 L195.4,84.09 L196.1,84.1 L196.8,84.11 L197.5,84.11 L198.2,84.12 L198.9,84.13" fill="none" stroke="#2b2b2b" stroke-width="0.62" stroke-linejoin="round" />
<path d="M110,84.4 L110.5,84.4 L111,84.4 L111.5,84.4 L112,84.4 L112.5,84.4 L113,84.4 L113.5,84.4 L114,84.4 L114.5,84.4 L115,84.4 L115.5,84.4 L116,84.4 L116.5,84.4 L117,84.4 L117.5,86.75 L118,89.97 L118.5,92.49 L119,94.46 L119.5,96 L120,97.19 L120.5,98.11 L121,98.82 L121.5,99.36 L122,99.76 L122.5,100.07 L123,100.29 L123.5,100.45 L124,100.56 L124.5,100.64 L125,100.68 L125.5,100.7 L126,100.7 L126.5,100.68 L127,100.66 L127.5,100.63 L128,100.59 L128.5,100.55 L129,100.51 L129.5,100.46 L130,100.41 L130.5,100.37 L131,100.32 L131.5,100.27 L132,100.23 L132.5,100.18 L133,100.13 L133.5,100.09 L134,100.05 L134.5,100.01 L135,99.97 L135.5,99.93 L136,99.89 L136.5,99.85 L137,99.82 L137.5,99.78 L138,99.75 L138.5,99.72 L139,99.69 L139.5,99.66 L140,99.63 L140.5,99.6 L141,99.57 L141.5,99.55 L142,99.52 L142.5,99.5 L143,99.47 L143.5,99.45 L144,99.43 L144.5,99.41 L145,99.39 L145.5,99.37 L146,99.35 L146.5,99.33 L147,99.31 L147.5,99.3 L148,99.28 L148.5,99.27 L149,99.25 L149.5,99.24 L150,99.22 L150.5,99.21 L151,99.19 L151.5,99.18 L152,99.17 L152.5,99.16 L153,99.15 L153.5,99.13 L154,99.12 L154.5,99.11 L155,99.1 L155.5,99.09 L156,99.08 L156.5,99.08 L157,99.07 L157.5,99.06 L158,99.05 L158.5,99.04 L159,99.04 L159.5,99.03 L160,99.02 L160.5,99.01 L161,99.01 L161.5,99 L162,99 L162.5,98.99 L163,98.98 L163.5,98.98 L164,98.97 L164.5,98.97 L165,98.96 L165.5,98.96 L166,98.95 L166.5,98.95 L167,98.95 L167.5,98.94 L168,98.94 L168.5,98.93 L169,97.44 L169.5,94.3 L170,91.86 L170.5,89.97 L171,88.5 L171.5,87.37 L172,86.49 L172.5,85.81 L173,85.29 L173.5,84.89 L174,84.58 L174.5,84.34 L175,84.16 L175.5,84.02 L176,83.92 L176.5,83.85 L177,83.79 L177.5,83.75 L178,83.72 L178.5,83.71 L179,83.7 L179.5,83.69 L180,83.69 L180.5,83.69 L181,83.7 L181.5,83.7 L182,83.71 L182.5,83.72 L183,83.73 L183.5,83.74 L184,83.75 L184.5,83.77 L185,83.78 L185.5,83.79 L186,83.8 L186.5,83.81 L187,83.82 L187.5,83.83 L188,83.84 L188.5,83.86 L189,83.87 L189.5,83.88 L190,83.89 L190.5,83.9 L191,83.91 L191.5,83.92 L192,83.93 L192.5,83.94 L193,83.94 L193.5,83.95 L194,83.96 L194.5,83.97 L195,83.98 L195.5,83.99 L196,84 L196.5,84 L197,84.01 L197.5,84.02 L198,84.03 L198.5,84.03 L199,84.04 L199.5,84.05" fill="none" stroke="#2b2b2b" stroke-width="0.6" stroke-linejoin="round" />
<path d="M110,84.4 L117.2,84.4 L118,82.2 L119,80 L120.5,78.3 L122,77.2 L123.5,76.3 L124.6,75.2 L125.25,73.8 L125.4,14.4 L125.55,74.5 L126.2,77 L127.73,76.88 L129.25,76.63 L130.78,76.29 L132.3,75.88 L133.83,75.4 L135.35,74.85 L136.88,74.25 L138.4,73.6 L138.6,15 L138.75,74.8 L139.4,77.2 L141.44,77.09 L143.47,76.85 L145.51,76.53 L147.55,76.14 L149.59,75.69 L151.62,75.18 L153.66,74.62 L155.7,74 L155.9,16 L156.05,75.2 L156.7,77.2 L158.52,77.1 L160.33,76.89 L162.15,76.61 L163.97,76.26 L165.78,75.86 L167.6,75.4 L168.8,76.2 L169.8,79.5 L171,82.5 L173,84 L180,84.5 L199.5,84.4" fill="none" stroke="#2b2b2b" stroke-width="0.65" stroke-linejoin="round" />
<path d="M169,82.6 C170.5,83.2 171.5,83.5 173,83.2 C178,82.6 188,82.4 199.6,82.0 L199.6,86.0 C188,85.8 178,85.6 173,85.4 C171.5,85.3 170.5,85.6 169,86.4 Z" fill="#222"/>
<path d="M110,84.4 L117.5,84.4" fill="none" stroke="#2b2b2b" stroke-width="1.1" stroke-linejoin="round" />
<path d="M181.4,61.8 V72.2 H193.9" fill="none" stroke="#444" stroke-width="0.7"/>
<text x="179.9" y="68.2" font-family="Liberation Serif, serif" font-size="5.5" font-weight="bold" fill="#262626" text-anchor="end" textLength="13.3" lengthAdjust="spacingAndGlyphs">20 mV</text>
<text x="188.6" y="78.6" font-family="Liberation Serif, serif" font-size="5.5" font-weight="bold" fill="#262626" text-anchor="middle" >0.2 s</text>
<path d="M189.7,40.5 H267.7 M250.8,15.2 V103.2" stroke="#858585" stroke-width="1.25" fill="none"/>
<text x="190.6" y="46.7" font-family="Liberation Serif, serif" font-size="5.4" font-weight="bold" fill="#333" text-anchor="middle" >-150</text>
<text x="210.5" y="46.7" font-family="Liberation Serif, serif" font-size="5.4" font-weight="bold" fill="#333" text-anchor="middle" >-100</text>
<text x="230.6" y="46.7" font-family="Liberation Serif, serif" font-size="5.4" font-weight="bold" fill="#333" text-anchor="middle" >-50</text>
<text x="249.3" y="29.2" font-family="Liberation Serif, serif" font-size="5.4" font-weight="bold" fill="#333" text-anchor="end" >5</text>
<text x="249.3" y="55.2" font-family="Liberation Serif, serif" font-size="5.4" font-weight="bold" fill="#333" text-anchor="end" >-5</text>
<text x="249.3" y="68.1" font-family="Liberation Serif, serif" font-size="5.4" font-weight="bold" fill="#333" text-anchor="end" >-10</text>
<text x="249.3" y="81" font-family="Liberation Serif, serif" font-size="5.4" font-weight="bold" fill="#333" text-anchor="end" >-15</text>
<text x="249.3" y="94" font-family="Liberation Serif, serif" font-size="5.4" font-weight="bold" fill="#333" text-anchor="end" >-20</text>
<path d="M190.6,39.5 V41.5 M210.5,39.5 V41.5 M230.6,39.5 V41.5 M249.8,27.4 H251.8 M249.8,53.4 H251.8 M249.8,66.3 H251.8 M249.8,79.2 H251.8 M249.8,92.2 H251.8" stroke="#444" stroke-width="0.9" fill="none"/>
<text x="197.5" y="26.8" font-family="Liberation Serif, serif" font-size="5.9" font-weight="bold" fill="#2a2a2a">R<tspan font-size="3.66" font-style="italic" dy="1.3">M</tspan><tspan dy="-1.3"> = 260 M&#937;</tspan></text>
<text x="208.3" y="37.9" font-family="Liberation Serif, serif" font-size="5.9" font-weight="bold" fill="#2a2a2a" text-anchor="start" >I (pA)</text>
<text x="254.2" y="67.7" font-family="Liberation Serif, serif" font-size="5.9" font-weight="bold" fill="#2a2a2a" text-anchor="start" >V (mV)</text>
<path d="M243.3,52.4 L247,47 L250.8,40.5 L253.5,36.2 L255.5,33.5" fill="none" stroke="#1e1e1e" stroke-width="1.9" stroke-linejoin="round" stroke-linecap="round"/>
<g fill="#b0b0b0" stroke="#505050" stroke-width="0.6"><circle cx="190.8" cy="103.4" r="1.3"/><circle cx="195.2" cy="99.8" r="1.3"/><circle cx="199.3" cy="97.6" r="1.3"/><circle cx="203.2" cy="92.5" r="1.3"/><circle cx="206.9" cy="91" r="1.3"/><circle cx="211.2" cy="85.9" r="1.3"/><circle cx="212.7" cy="83.7" r="1.3"/><circle cx="214.2" cy="82.3" r="1.3"/><circle cx="216.3" cy="80.8" r="1.3"/><circle cx="218.2" cy="79.3" r="1.3"/><circle cx="220" cy="77.2" r="1.3"/><circle cx="222.2" cy="75.7" r="1.3"/><circle cx="225.1" cy="73.5" r="1.3"/><circle cx="226.6" cy="72.2" r="1.3"/><circle cx="228" cy="70.6" r="1.3"/><circle cx="230.9" cy="68.4" r="1.3"/><circle cx="232.4" cy="66.5" r="1.3"/><circle cx="233.8" cy="64.8" r="1.3"/><circle cx="236" cy="63.3" r="1.3"/><circle cx="238.2" cy="59.7" r="1.3"/><circle cx="240.4" cy="56.8" r="1.3"/><circle cx="243.3" cy="52.4" r="1.3"/><circle cx="257" cy="29.2" r="1.3"/><circle cx="259.2" cy="27.9" r="1.3"/><circle cx="260.8" cy="26.7" r="1.3"/><circle cx="263.5" cy="20.7" r="1.3"/><circle cx="265" cy="15.8" r="1.3"/></g>
<path d="M295,100 L300.3,100 L300.8,94.1 L301.3,90.94 L301.8,89.25 L302.3,88.34 L302.8,87.86 L301.85,85.5 L301.98,88.5 L302.4,89 L302.7,88.2 L303.2,88.02 L303.7,87.74 L304.2,87.38 L304.7,86.93 L305.2,86.4 L305.7,85.77 L306.25,85.5 L306.38,88.5 L306.8,89 L307.1,88.2 L307.6,88.01 L308.1,87.72 L308.6,87.34 L309.1,86.87 L309.6,86.3 L310.1,85.64 L310.55,85.5 L310.68,88.5 L311.1,89 L311.4,88.2 L311.9,88.02 L312.4,87.74 L312.9,87.38 L313.4,86.93 L313.9,86.4 L314.4,85.77 L314.95,85.5 L315.08,88.5 L315.5,89 L315.8,88.2 L316.3,88.03 L316.8,87.78 L317.3,87.45 L317.8,87.05 L318.3,86.57 L318.8,86 L319.55,85.5 L319.68,88.5 L320.1,89 L320.4,88.2 L320.9,88.07 L321.4,87.88 L321.9,87.65 L322.4,87.36 L322.9,87.03 L323.4,86.64 L323.9,86.2 L324.4,85.71 L324.95,85.5 L325.08,88.5 L325.5,89 L325.8,88.2 L326.3,88.07 L326.8,87.88 L327.3,87.65 L327.8,87.36 L328.3,87.03 L328.8,86.64 L329.3,86.2 L329.8,85.71 L330.35,85.5 L330.48,88.5 L330.9,89 L331.2,88.2 L331.7,88.12 L332.2,88.05 L332.7,87.97 L333.2,87.9 L333.7,87.83 L334,87.3 L334.5,89.38 L335,91.11 L335.5,92.57 L336,93.78 L336.5,94.8 L337,95.65 L337.5,96.36 L338,96.96 L338.5,97.45 L339,97.87 L339.5,98.22 L340,98.51 L340.5,98.75 L341,98.96 L341.5,99.13 L342,99.27 L342.5,99.39 L343,99.49 L343.5,99.57 L344,99.64 L344.5,99.7 L345,99.75 L345.5,99.79 L346,99.83 L346.5,99.85 L347,99.88 L347.5,99.9 L348,99.91 L348.5,99.93 L349,99.94 L349.5,99.95 L350,99.96 L350.5,99.96 L351,99.97 L351.5,99.98 L352,99.98 L352.5,99.98 L353,99.99" fill="none" stroke="#2e2e2e" stroke-width="0.72" stroke-linejoin="round" />
<path d="M301.9,85.5 V16.3 M306.3,85.5 V20.6 M310.6,85.5 V22.5 M315,85.5 V22.8 M319.6,85.5 V23.8 M325,85.5 V21.9 M330.4,85.5 V22.5" stroke="#5e5e5e" stroke-width="0.75" fill="none"/>
<path d="M355.8,82.1 V94.75 H364.2" fill="none" stroke="#444" stroke-width="0.7"/>
<text x="354.6" y="90.9" font-family="Liberation Serif, serif" font-size="5.5" font-weight="bold" fill="#262626" text-anchor="end" textLength="13.3" lengthAdjust="spacingAndGlyphs">20 mV</text>
<text x="360.4" y="101.3" font-family="Liberation Serif, serif" font-size="5.5" font-weight="bold" fill="#262626" text-anchor="middle" >0.2 s</text>
<path d="M395.5,14.2 V92.2 M395.5,92.2 H476" stroke="#858585" stroke-width="1.2" fill="none"/>
<text x="395.5" y="97.8" font-family="Liberation Serif, serif" font-size="5.3" font-weight="bold" fill="#333" text-anchor="middle" >0</text>
<text x="406.92" y="97.8" font-family="Liberation Serif, serif" font-size="5.3" font-weight="bold" fill="#333" text-anchor="middle" >2</text>
<text x="418.34" y="97.8" font-family="Liberation Serif, serif" font-size="5.3" font-weight="bold" fill="#333" text-anchor="middle" >4</text>
<text x="429.76" y="97.8" font-family="Liberation Serif, serif" font-size="5.3" font-weight="bold" fill="#333" text-anchor="middle" >6</text>
<text x="441.18" y="97.8" font-family="Liberation Serif, serif" font-size="5.3" font-weight="bold" fill="#333" text-anchor="middle" >8</text>
<text x="452.6" y="97.8" font-family="Liberation Serif, serif" font-size="5.3" font-weight="bold" fill="#333" text-anchor="middle" >10</text>
<text x="464.02" y="97.8" font-family="Liberation Serif, serif" font-size="5.3" font-weight="bold" fill="#333" text-anchor="middle" >12</text>
<text x="475.44" y="97.8" font-family="Liberation Serif, serif" font-size="5.3" font-weight="bold" fill="#333" text-anchor="middle" >14</text>
<text x="393.7" y="94" font-family="Liberation Serif, serif" font-size="5.4" font-weight="bold" fill="#333" text-anchor="end" >0</text>
<text x="393.7" y="81" font-family="Liberation Serif, serif" font-size="5.4" font-weight="bold" fill="#333" text-anchor="end" >50</text>
<text x="393.7" y="68" font-family="Liberation Serif, serif" font-size="5.4" font-weight="bold" fill="#333" text-anchor="end" >100</text>
<text x="393.7" y="55" font-family="Liberation Serif, serif" font-size="5.4" font-weight="bold" fill="#333" text-anchor="end" >150</text>
<text x="393.7" y="42" font-family="Liberation Serif, serif" font-size="5.4" font-weight="bold" fill="#333" text-anchor="end" >200</text>
<text x="393.7" y="29" font-family="Liberation Serif, serif" font-size="5.4" font-weight="bold" fill="#333" text-anchor="end" >250</text>
<text x="393.7" y="16" font-family="Liberation Serif, serif" font-size="5.4" font-weight="bold" fill="#333" text-anchor="end" >300</text>
<path d="M395.5,92.2 V93.5 M406.92,92.2 V93.5 M418.34,92.2 V93.5 M429.76,92.2 V93.5 M441.18,92.2 V93.5 M452.6,92.2 V93.5 M464.02,92.2 V93.5 M475.44,92.2 V93.5 M394.2,92.2 H395.5 M394.2,79.2 H395.5 M394.2,66.2 H395.5 M394.2,53.2 H395.5 M394.2,40.2 H395.5 M394.2,27.2 H395.5 M394.2,14.2 H395.5" stroke="#444" stroke-width="0.8" fill="none"/>
<path d="M401.21,38.9 L406.92,22.52" fill="none" stroke="#1c1c1c" stroke-width="0.85" stroke-linejoin="round" />
<path d="M401.21,45.14 L406.92,41.5 L412.63,34.74" fill="none" stroke="#1c1c1c" stroke-width="0.85" stroke-linejoin="round" />
<path d="M401.21,45.14 L406.92,42.8 L412.63,40.98" fill="none" stroke="#1c1c1c" stroke-width="0.85" stroke-linejoin="round" />
<path d="M401.21,47.22 L406.92,53.2 L412.63,49.82 L418.34,45.92" fill="none" stroke="#1c1c1c" stroke-width="0.85" stroke-linejoin="round" />
<path d="M401.21,55.8 L406.92,53.72 L412.63,50.6 L418.34,48 L424.05,51.38" fill="none" stroke="#1c1c1c" stroke-width="0.85" stroke-linejoin="round" />
<path d="M401.21,59.7 L406.92,56.32 L412.63,57.1 L418.34,54.5 L424.05,55.02" fill="none" stroke="#1c1c1c" stroke-width="0.85" stroke-linejoin="round" />
<path d="M401.21,61.52 L406.92,60.48 L412.63,61 L418.34,59.7 L424.05,58.92 L429.76,61" fill="none" stroke="#1c1c1c" stroke-width="0.85" stroke-linejoin="round" />
<path d="M401.21,66.2 L406.92,64.9 L412.63,63.6 L418.34,63.08 L424.05,62.56 L429.76,61.52 L435.47,63.6" fill="none" stroke="#1c1c1c" stroke-width="0.85" stroke-linejoin="round" />
<path d="M401.21,68.28 L406.92,67.5 L412.63,66.2 L418.34,66.72 L424.05,65.42 L429.76,66.2 L435.47,66.98 L441.18,67.5" fill="none" stroke="#1c1c1c" stroke-width="0.85" stroke-linejoin="round" />
<path d="M401.21,70.1 L406.92,70.36 L412.63,69.32 L418.34,68.8 L424.05,68.28 L429.76,67.5 L435.47,68.02 L441.18,68.8 L446.89,70.1" fill="none" stroke="#1c1c1c" stroke-width="0.85" stroke-linejoin="round" />
<path d="M401.21,72.7 L406.92,71.92 L412.63,71.4 L418.34,70.88 L424.05,71.4 L429.76,70.36 L435.47,70.88 L441.18,71.4 L446.89,71.92 L452.6,72.44" fill="none" stroke="#1c1c1c" stroke-width="0.85" stroke-linejoin="round" />
<path d="M401.21,74.52 L406.92,74 L412.63,73.48 L418.34,73.22 L424.05,72.96 L429.76,72.7 L435.47,72.7 L441.18,72.44 L446.89,72.7 L452.6,72.44 L458.31,72.7" fill="none" stroke="#1c1c1c" stroke-width="0.85" stroke-linejoin="round" />
<path d="M401.21,76.6 L406.92,76.08 L412.63,75.3 L418.34,74.78 L424.05,74.52 L429.76,74 L435.47,73.74 L441.18,73.48 L446.89,73.48 L452.6,72.96 L458.31,72.44 L464.02,72.7" fill="none" stroke="#1c1c1c" stroke-width="0.85" stroke-linejoin="round" />
<path d="M401.21,77.9 L406.92,77.38 L412.63,76.86 L418.34,76.34 L424.05,76.08 L429.76,75.56 L435.47,75.3 L441.18,74.78 L446.89,74.52 L452.6,74 L458.31,73.48 L464.02,72.96" fill="none" stroke="#1c1c1c" stroke-width="0.85" stroke-linejoin="round" />
<path d="M401.21,79.2 L406.92,78.42 L412.63,77.9 L418.34,77.38 L424.05,77.12 L429.76,76.6 L435.47,76.08 L441.18,75.56 L446.89,75.04 L452.6,74.78 L458.31,74 L464.02,73.22" fill="none" stroke="#1c1c1c" stroke-width="0.85" stroke-linejoin="round" />
<g fill="#8a8a8a" stroke="#222" stroke-width="0.45"><circle cx="401.21" cy="38.9" r="1.05"/><circle cx="406.92" cy="22.52" r="1.05"/><circle cx="401.21" cy="45.14" r="1.05"/><circle cx="406.92" cy="41.5" r="1.05"/><circle cx="412.63" cy="34.74" r="1.05"/><circle cx="401.21" cy="45.14" r="1.05"/><circle cx="406.92" cy="42.8" r="1.05"/><circle cx="412.63" cy="40.98" r="1.05"/><circle cx="401.21" cy="47.22" r="1.05"/><circle cx="406.92" cy="53.2" r="1.05"/><circle cx="412.63" cy="49.82" r="1.05"/><circle cx="418.34" cy="45.92" r="1.05"/><circle cx="401.21" cy="55.8" r="1.05"/><circle cx="406.92" cy="53.72" r="1.05"/><circle cx="412.63" cy="50.6" r="1.05"/><circle cx="418.34" cy="48" r="1.05"/><circle cx="424.05" cy="51.38" r="1.05"/><circle cx="401.21" cy="59.7" r="1.05"/><circle cx="406.92" cy="56.32" r="1.05"/><circle cx="412.63" cy="57.1" r="1.05"/><circle cx="418.34" cy="54.5" r="1.05"/><circle cx="424.05" cy="55.02" r="1.05"/><circle cx="401.21" cy="61.52" r="1.05"/><circle cx="406.92" cy="60.48" r="1.05"/><circle cx="412.63" cy="61" r="1.05"/><circle cx="418.34" cy="59.7" r="1.05"/><circle cx="424.05" cy="58.92" r="1.05"/><circle cx="429.76" cy="61" r="1.05"/><circle cx="401.21" cy="66.2" r="1.05"/><circle cx="406.92" cy="64.9" r="1.05"/><circle cx="412.63" cy="63.6" r="1.05"/><circle cx="418.34" cy="63.08" r="1.05"/><circle cx="424.05" cy="62.56" r="1.05"/><circle cx="429.76" cy="61.52" r="1.05"/><circle cx="435.47" cy="63.6" r="1.05"/><circle cx="401.21" cy="68.28" r="1.05"/><circle cx="406.92" cy="67.5" r="1.05"/><circle cx="412.63" cy="66.2" r="1.05"/><circle cx="418.34" cy="66.72" r="1.05"/><circle cx="424.05" cy="65.42" r="1.05"/><circle cx="429.76" cy="66.2" r="1.05"/><circle cx="435.47" cy="66.98" r="1.05"/><circle cx="441.18" cy="67.5" r="1.05"/><circle cx="401.21" cy="70.1" r="1.05"/><circle cx="406.92" cy="70.36" r="1.05"/><circle cx="412.63" cy="69.32" r="1.05"/><circle cx="418.34" cy="68.8" r="1.05"/><circle cx="424.05" cy="68.28" r="1.05"/><circle cx="429.76" cy="67.5" r="1.05"/><circle cx="435.47" cy="68.02" r="1.05"/><circle cx="441.18" cy="68.8" r="1.05"/><circle cx="446.89" cy="70.1" r="1.05"/><circle cx="401.21" cy="72.7" r="1.05"/><circle cx="406.92" cy="71.92" r="1.05"/><circle cx="412.63" cy="71.4" r="1.05"/><circle cx="418.34" cy="70.88" r="1.05"/><circle cx="424.05" cy="71.4" r="1.05"/><circle cx="429.76" cy="70.36" r="1.05"/><circle cx="435.47" cy="70.88" r="1.05"/><circle cx="441.18" cy="71.4" r="1.05"/><circle cx="446.89" cy="71.92" r="1.05"/><circle cx="452.6" cy="72.44" r="1.05"/><circle cx="401.21" cy="74.52" r="1.05"/><circle cx="406.92" cy="74" r="1.05"/><circle cx="412.63" cy="73.48" r="1.05"/><circle cx="418.34" cy="73.22" r="1.05"/><circle cx="424.05" cy="72.96" r="1.05"/><circle cx="429.76" cy="72.7" r="1.05"/><circle cx="435.47" cy="72.7" r="1.05"/><circle cx="441.18" cy="72.44" r="1.05"/><circle cx="446.89" cy="72.7" r="1.05"/><circle cx="452.6" cy="72.44" r="1.05"/><circle cx="458.31" cy="72.7" r="1.05"/><circle cx="401.21" cy="76.6" r="1.05"/><circle cx="406.92" cy="76.08" r="1.05"/><circle cx="412.63" cy="75.3" r="1.05"/><circle cx="418.34" cy="74.78" r="1.05"/><circle cx="424.05" cy="74.52" r="1.05"/><circle cx="429.76" cy="74" r="1.05"/><circle cx="435.47" cy="73.74" r="1.05"/><circle cx="441.18" cy="73.48" r="1.05"/><circle cx="446.89" cy="73.48" r="1.05"/><circle cx="452.6" cy="72.96" r="1.05"/><circle cx="458.31" cy="72.44" r="1.05"/><circle cx="464.02" cy="72.7" r="1.05"/><circle cx="401.21" cy="77.9" r="1.05"/><circle cx="406.92" cy="77.38" r="1.05"/><circle cx="412.63" cy="76.86" r="1.05"/><circle cx="418.34" cy="76.34" r="1.05"/><circle cx="424.05" cy="76.08" r="1.05"/><circle cx="429.76" cy="75.56" r="1.05"/><circle cx="435.47" cy="75.3" r="1.05"/><circle cx="441.18" cy="74.78" r="1.05"/><circle cx="446.89" cy="74.52" r="1.05"/><circle cx="452.6" cy="74" r="1.05"/><circle cx="458.31" cy="73.48" r="1.05"/><circle cx="464.02" cy="72.96" r="1.05"/><circle cx="401.21" cy="79.2" r="1.05"/><circle cx="406.92" cy="78.42" r="1.05"/><circle cx="412.63" cy="77.9" r="1.05"/><circle cx="418.34" cy="77.38" r="1.05"/><circle cx="424.05" cy="77.12" r="1.05"/><circle cx="429.76" cy="76.6" r="1.05"/><circle cx="435.47" cy="76.08" r="1.05"/><circle cx="441.18" cy="75.56" r="1.05"/><circle cx="446.89" cy="75.04" r="1.05"/><circle cx="452.6" cy="74.78" r="1.05"/><circle cx="458.31" cy="74" r="1.05"/><circle cx="464.02" cy="73.22" r="1.05"/></g>
<text x="397.9" y="19" font-family="Liberation Serif, serif" font-size="5.3" font-weight="bold" fill="#222" text-anchor="start" >+64 pA</text>
<text x="456.5" y="82" font-family="Liberation Serif, serif" font-size="5.3" font-weight="bold" fill="#222" text-anchor="start" >+196 pA</text>
<text x="380.4" y="50.4" font-family="Liberation Serif, serif" font-size="5.35" font-weight="bold" fill="#333" text-anchor="middle" transform="rotate(-90 380.4 50.4)">Interspike interval (ms)</text>
<text x="435.6" y="105.2" font-family="Liberation Serif, serif" font-size="5.25" font-weight="bold" fill="#2a2a2a" text-anchor="middle" >Interval number</text>
<path d="M110,208 L110.7,208 L111.4,208 L112.1,208 L112.8,208 L113.5,208 L114.2,208 L114.9,208 L115.6,208 L116.3,207.98 L117,207.45 L117.7,207.6 L118.4,207.19 L119.1,207.29 L119.8,207.21 L120.5,207.19 L121.2,207.03 L121.9,207.05 L122.6,207.1 L123.3,207.03 L124,207.11 L124.7,207.02 L125.4,207.02 L126.1,206.85 L126.8,207.08 L127.5,207.03 L128.2,206.93 L128.9,207.14 L129.6,207.15 L130.3,207.02 L131,206.91 L131.7,207.03 L132.4,206.88 L133.1,206.89 L133.8,207.01 L134.5,206.88 L135.2,207.02 L135.9,207.04 L136.6,206.86 L137.3,207.1 L138,206.87 L138.7,207.14 L139.4,207.15 L140.1,207.05 L140.8,206.87 L141.5,207.05 L142.2,207 L142.9,207.23 L143.6,206.9 L144.3,207.19 L145,207.24 L145.7,207.14 L146.4,207.17 L147.1,206.92 L147.8,207.24 L148.5,207.04 L149.2,207.23 L149.9,207.21 L150.6,206.91 L151.3,207.16 L152,207.22 L152.7,206.87 L153.4,206.99 L154.1,207.15 L154.8,206.91 L155.5,207.21 L156.2,206.96 L156.9,207.17 L157.6,206.91 L158.3,207.05 L159,207.22 L159.7,206.93 L160.4,206.95 L161.1,207.05 L161.8,206.98 L162.5,206.86 L163.2,206.92 L163.9,206.91 L164.6,207.22 L165.3,207.12 L166,207.21 L166.7,206.92 L167.4,207.16 L168.1,206.9 L168.8,207.06 L169.5,207.1 L170.2,206.99 L170.9,207.2 L171.6,207.06 L172.3,207.12 L173,207.17 L173.7,207.22 L174.4,207.25" fill="none" stroke="#2b2b2b" stroke-width="0.6" stroke-linejoin="round" />
<path d="M110,208 L110.7,208 L111.4,208 L112.1,208 L112.8,208 L113.5,208 L114.2,208 L114.9,208 L115.6,208 L116.3,208 L117,207.96 L117.7,208.05 L118.4,207.71 L119.1,208.05 L119.8,207.89 L120.5,207.79 L121.2,207.94 L121.9,207.72 L122.6,208.01 L123.3,207.84 L124,207.75 L124.7,207.91 L125.4,207.79 L126.1,207.68 L126.8,207.9 L127.5,207.63 L128.2,207.94 L128.9,207.71 L129.6,207.86 L130.3,208 L131,207.84 L131.7,207.87 L132.4,207.73 L133.1,207.61 L133.8,207.62 L134.5,207.67 L135.2,207.85 L135.9,207.78 L136.6,207.81 L137.3,207.97 L138,207.66 L138.7,207.7 L139.4,207.87 L140.1,207.62 L140.8,207.61 L141.5,207.75 L142.2,207.65 L142.9,207.75 L143.6,207.7 L144.3,207.84 L145,207.84 L145.7,207.69 L146.4,207.86 L147.1,207.8 L147.8,207.66 L148.5,207.98 L149.2,207.71 L149.9,207.67 L150.6,207.65 L151.3,207.86 L152,207.96 L152.7,207.92 L153.4,207.77 L154.1,207.72 L154.8,207.61 L155.5,207.87 L156.2,207.83 L156.9,207.75 L157.6,207.87 L158.3,207.79 L159,207.98 L159.7,207.9 L160.4,207.71 L161.1,207.97 L161.8,207.63 L162.5,207.82 L163.2,207.77 L163.9,207.7 L164.6,207.63 L165.3,207.92 L166,207.61 L166.7,207.83 L167.4,207.99 L168.1,207.67 L168.8,207.69 L169.5,207.85 L170.2,207.81 L170.9,207.87 L171.6,207.78 L172.3,207.62 L173,207.53 L173.7,207.48 L174.4,207.45" fill="none" stroke="#2b2b2b" stroke-width="0.6" stroke-linejoin="round" />
<path d="M110,208 L110.7,208 L111.4,208 L112.1,208 L112.8,208 L113.5,208 L114.2,208 L114.9,208 L115.6,208 L116.3,208.2 L117,208.09 L117.7,208.24 L118.4,208.31 L119.1,208.27 L119.8,208.64 L120.5,208.63 L121.2,208.62 L121.9,208.35 L122.6,208.7 L123.3,208.66 L124,208.56 L124.7,208.67 L125.4,208.56 L126.1,208.47 L126.8,208.42 L127.5,208.47 L128.2,208.39 L128.9,208.51 L129.6,208.68 L130.3,208.66 L131,208.72 L131.7,208.66 L132.4,208.48 L133.1,208.6 L133.8,208.55 L134.5,208.69 L135.2,208.59 L135.9,208.48 L136.6,208.63 L137.3,208.76 L138,208.46 L138.7,208.73 L139.4,208.38 L140.1,208.48 L140.8,208.47 L141.5,208.67 L142.2,208.75 L142.9,208.67 L143.6,208.5 L144.3,208.72 L145,208.5 L145.7,208.47 L146.4,208.74 L147.1,208.62 L147.8,208.65 L148.5,208.64 L149.2,208.76 L149.9,208.56 L150.6,208.71 L151.3,208.65 L152,208.71 L152.7,208.55 L153.4,208.66 L154.1,208.6 L154.8,208.49 L155.5,208.46 L156.2,208.62 L156.9,208.4 L157.6,208.74 L158.3,208.43 L159,208.38 L159.7,208.41 L160.4,208.74 L161.1,208.51 L161.8,208.43 L162.5,208.38 L163.2,208.39 L163.9,208.65 L164.6,208.62 L165.3,208.65 L166,208.67 L166.7,208.4 L167.4,208.61 L168.1,208.52 L168.8,208.7 L169.5,208.7 L170.2,208.73 L170.9,208.4 L171.6,208.5 L172.3,208.11 L173,207.88 L173.7,207.74 L174.4,207.66" fill="none" stroke="#2b2b2b" stroke-width="0.6" stroke-linejoin="round" />
<path d="M110,208 L110.7,208 L111.4,208 L112.1,208 L112.8,208 L113.5,208 L114.2,208 L114.9,208 L115.6,208 L116.3,208.33 L117,208.68 L117.7,208.93 L118.4,208.76 L119.1,208.93 L119.8,208.98 L120.5,209.01 L121.2,209.39 L121.9,209.4 L122.6,209.36 L123.3,209.45 L124,209.38 L124.7,209.25 L125.4,209.18 L126.1,209.19 L126.8,209.45 L127.5,209.23 L128.2,209.28 L128.9,209.32 L129.6,209.16 L130.3,209.25 L131,209.26 L131.7,209.43 L132.4,209.29 L133.1,209.27 L133.8,209.53 L134.5,209.35 L135.2,209.48 L135.9,209.39 L136.6,209.15 L137.3,209.31 L138,209.32 L138.7,209.45 L139.4,209.28 L140.1,209.42 L140.8,209.35 L141.5,209.22 L142.2,209.48 L142.9,209.17 L143.6,209.46 L144.3,209.2 L145,209.14 L145.7,209.22 L146.4,209.44 L147.1,209.53 L147.8,209.14 L148.5,209.33 L149.2,209.33 L149.9,209.45 L150.6,209.21 L151.3,209.33 L152,209.27 L152.7,209.47 L153.4,209.24 L154.1,209.51 L154.8,209.25 L155.5,209.22 L156.2,209.41 L156.9,209.33 L157.6,209.18 L158.3,209.39 L159,209.16 L159.7,209.45 L160.4,209.41 L161.1,209.45 L161.8,209.38 L162.5,209.27 L163.2,209.29 L163.9,209.29 L164.6,209.49 L165.3,209.17 L166,209.49 L166.7,209.14 L167.4,209.21 L168.1,209.24 L168.8,209.49 L169.5,209.33 L170.2,209.28 L170.9,209.48 L171.6,209.22 L172.3,208.6 L173,208.23 L173.7,208 L174.4,207.86" fill="none" stroke="#2b2b2b" stroke-width="0.6" stroke-linejoin="round" />
<path d="M110,208 L110.7,208 L111.4,208 L112.1,208 L112.8,208 L113.5,208 L114.2,208 L114.9,208 L115.6,208 L116.3,208.17 L117,208.78 L117.7,209.19 L118.4,209.55 L119.1,209.74 L119.8,209.84 L120.5,209.82 L121.2,209.89 L121.9,209.87 L122.6,210.18 L123.3,210.14 L124,210.19 L124.7,209.97 L125.4,210.09 L126.1,210.23 L126.8,210.15 L127.5,209.97 L128.2,210.11 L128.9,210.28 L129.6,210.02 L130.3,210 L131,210.04 L131.7,210.2 L132.4,210.25 L133.1,209.98 L133.8,209.98 L134.5,210.01 L135.2,210.04 L135.9,210.12 L136.6,209.97 L137.3,210.04 L138,209.98 L138.7,210.3 L139.4,210.2 L140.1,209.95 L140.8,210.29 L141.5,209.94 L142.2,210.06 L142.9,210.3 L143.6,210.22 L144.3,210.19 L145,210.07 L145.7,209.98 L146.4,210.15 L147.1,209.94 L147.8,209.98 L148.5,210.05 L149.2,209.91 L149.9,210.06 L150.6,210.21 L151.3,210.17 L152,210.1 L152.7,210.15 L153.4,210.08 L154.1,209.95 L154.8,210.14 L155.5,210.06 L156.2,210.19 L156.9,210.26 L157.6,210.07 L158.3,210.12 L159,210.19 L159.7,210.06 L160.4,209.98 L161.1,210.18 L161.8,210.24 L162.5,210.2 L163.2,210.17 L163.9,210.23 L164.6,210.16 L165.3,210.15 L166,210.07 L166.7,210.02 L167.4,210.14 L168.1,209.93 L168.8,210.06 L169.5,210.2 L170.2,210.18 L170.9,210.14 L171.6,209.94 L172.3,209.1 L173,208.58 L173.7,208.26 L174.4,208.06" fill="none" stroke="#2b2b2b" stroke-width="0.6" stroke-linejoin="round" />
<path d="M110,208 L110.7,208 L111.4,208 L112.1,208 L112.8,208 L113.5,208 L114.2,208 L114.9,208 L115.6,208 L116.3,208.28 L117,209.06 L117.7,209.59 L118.4,210.02 L119.1,210.2 L119.8,210.5 L120.5,210.74 L121.2,210.54 L121.9,210.8 L122.6,210.9 L123.3,210.78 L124,210.85 L124.7,211.06 L125.4,210.69 L126.1,210.9 L126.8,210.75 L127.5,211 L128.2,211.07 L128.9,210.9 L129.6,210.73 L130.3,210.92 L131,210.91 L131.7,210.98 L132.4,210.89 L133.1,210.94 L133.8,211.01 L134.5,210.89 L135.2,210.84 L135.9,211.06 L136.6,210.76 L137.3,210.95 L138,210.83 L138.7,210.98 L139.4,210.72 L140.1,211.06 L140.8,210.81 L141.5,210.69 L142.2,210.78 L142.9,210.83 L143.6,210.67 L144.3,210.83 L145,210.83 L145.7,210.94 L146.4,210.8 L147.1,210.77 L147.8,210.75 L148.5,210.96 L149.2,211.04 L149.9,210.87 L150.6,210.75 L151.3,210.98 L152,210.81 L152.7,210.74 L153.4,210.71 L154.1,210.97 L154.8,210.98 L155.5,210.91 L156.2,210.84 L156.9,210.88 L157.6,210.75 L158.3,211.04 L159,210.8 L159.7,210.91 L160.4,210.98 L161.1,210.98 L161.8,210.84 L162.5,210.77 L163.2,210.87 L163.9,210.7 L164.6,210.99 L165.3,210.79 L166,210.99 L166.7,210.76 L167.4,210.8 L168.1,210.75 L168.8,210.82 L169.5,210.73 L170.2,210.65 L170.9,210.94 L171.6,210.65 L172.3,209.59 L173,208.93 L173.7,208.52 L174.4,208.26" fill="none" stroke="#2b2b2b" stroke-width="0.6" stroke-linejoin="round" />
<path d="M110,208 L110.7,208 L111.4,208 L112.1,208 L112.8,208 L113.5,208 L114.2,208 L114.9,208 L115.6,208 L116.3,208.4 L117,209.28 L117.7,209.95 L118.4,210.49 L119.1,210.81 L119.8,211.14 L120.5,211.32 L121.2,211.33 L121.9,211.64 L122.6,211.68 L123.3,211.4 L124,211.74 L124.7,211.79 L125.4,211.76 L126.1,211.51 L126.8,211.79 L127.5,211.72 L128.2,211.47 L128.9,211.47 L129.6,211.84 L130.3,211.72 L131,211.56 L131.7,211.5 L132.4,211.51 L133.1,211.55 L133.8,211.76 L134.5,211.59 L135.2,211.51 L135.9,211.81 L136.6,211.76 L137.3,211.51 L138,211.8 L138.7,211.68 L139.4,211.75 L140.1,211.7 L140.8,211.79 L141.5,211.75 L142.2,211.77 L142.9,211.51 L143.6,211.71 L144.3,211.64 L145,211.72 L145.7,211.6 L146.4,211.78 L147.1,211.65 L147.8,211.53 L148.5,211.52 L149.2,211.48 L149.9,211.62 L150.6,211.44 L151.3,211.61 L152,211.48 L152.7,211.62 L153.4,211.62 L154.1,211.63 L154.8,211.76 L155.5,211.42 L156.2,211.75 L156.9,211.6 L157.6,211.64 L158.3,211.68 L159,211.75 L159.7,211.56 L160.4,211.58 L161.1,211.8 L161.8,211.44 L162.5,211.67 L163.2,211.67 L163.9,211.42 L164.6,211.66 L165.3,211.69 L166,211.79 L166.7,211.54 L167.4,211.81 L168.1,211.62 L168.8,211.61 L169.5,211.77 L170.2,211.43 L170.9,211.7 L171.6,211.37 L172.3,210.09 L173,209.28 L173.7,208.78 L174.4,208.46" fill="none" stroke="#2b2b2b" stroke-width="0.6" stroke-linejoin="round" />
<path d="M110,208 L110.7,208 L111.4,208 L112.1,208 L112.8,208 L113.5,208 L114.2,208 L114.9,208 L115.6,208 L116.3,208.64 L117,209.61 L117.7,210.6 L118.4,210.97 L119.1,211.43 L119.8,211.74 L120.5,212.05 L121.2,211.98 L121.9,212.18 L122.6,212.25 L123.3,212.35 L124,212.5 L124.7,212.31 L125.4,212.54 L126.1,212.39 L126.8,212.43 L127.5,212.34 L128.2,212.44 L128.9,212.63 L129.6,212.5 L130.3,212.55 L131,212.36 L131.7,212.36 L132.4,212.35 L133.1,212.46 L133.8,212.47 L134.5,212.53 L135.2,212.23 L135.9,212.5 L136.6,212.57 L137.3,212.43 L138,212.23 L138.7,212.32 L139.4,212.21 L140.1,212.28 L140.8,212.57 L141.5,212.44 L142.2,212.46 L142.9,212.51 L143.6,212.56 L144.3,212.44 L145,212.44 L145.7,212.44 L146.4,212.47 L147.1,212.43 L147.8,212.46 L148.5,212.27 L149.2,212.45 L149.9,212.37 L150.6,212.49 L151.3,212.22 L152,212.25 L152.7,212.2 L153.4,212.49 L154.1,212.55 L154.8,212.44 L155.5,212.33 L156.2,212.51 L156.9,212.49 L157.6,212.4 L158.3,212.28 L159,212.3 L159.7,212.34 L160.4,212.3 L161.1,212.35 L161.8,212.43 L162.5,212.55 L163.2,212.2 L163.9,212.4 L164.6,212.19 L165.3,212.22 L166,212.5 L166.7,212.4 L167.4,212.54 L168.1,212.35 L168.8,212.18 L169.5,212.33 L170.2,212.41 L170.9,212.55 L171.6,212.09 L172.3,210.58 L173,209.63 L173.7,209.04 L174.4,208.66" fill="none" stroke="#2b2b2b" stroke-width="0.6" stroke-linejoin="round" />
<path d="M110,208 L110.7,208 L111.4,208 L112.1,208 L112.8,208 L113.5,208 L114.2,208 L114.9,208 L115.6,208 L116.3,208.88 L117,209.95 L117.7,210.85 L118.4,211.39 L119.1,212.09 L119.8,212.26 L120.5,212.49 L121.2,212.61 L121.9,212.73 L122.6,213.1 L123.3,212.93 L124,213.32 L124.7,213 L125.4,213.33 L126.1,213.04 L126.8,213.01 L127.5,213.29 L128.2,213.1 L128.9,213.3 L129.6,213.08 L130.3,213.02 L131,213.31 L131.7,213.28 L132.4,213.34 L133.1,213.28 L133.8,213.02 L134.5,213.24 L135.2,213.27 L135.9,213.17 L136.6,213.35 L137.3,213.08 L138,213.36 L138.7,213.26 L139.4,212.97 L140.1,212.97 L140.8,213.22 L141.5,213.29 L142.2,212.99 L142.9,213.08 L143.6,213.25 L144.3,213.02 L145,213.3 L145.7,213.15 L146.4,212.98 L147.1,213.1 L147.8,213.18 L148.5,213.12 L149.2,213.22 L149.9,213 L150.6,213.26 L151.3,213.09 L152,213.2 L152.7,213.19 L153.4,213.11 L154.1,213.1 L154.8,213.26 L155.5,213.32 L156.2,213.25 L156.9,213.17 L157.6,213.06 L158.3,212.96 L159,213.33 L159.7,213.22 L160.4,213.27 L161.1,213.07 L161.8,213.18 L162.5,213.33 L163.2,213.27 L163.9,213.18 L164.6,213.06 L165.3,213.11 L166,213.29 L166.7,213.08 L167.4,213.21 L168.1,213.17 L168.8,213.29 L169.5,213.26 L170.2,213.05 L170.9,212.93 L171.6,212.81 L172.3,211.08 L173,209.98 L173.7,209.3 L174.4,208.86" fill="none" stroke="#2b2b2b" stroke-width="0.6" stroke-linejoin="round" />
<path d="M110,208 L110.7,208 L111.4,208 L112.1,208 L112.8,208 L113.5,208 L114.2,208 L114.9,208 L115.6,208 L116.3,208.69 L117,210.22 L117.7,211.35 L118.4,212.21 L119.1,212.79 L119.8,212.85 L120.5,213.45 L121.2,213.64 L121.9,213.81 L122.6,213.8 L123.3,213.75 L124,214.03 L124.7,214.05 L125.4,214.02 L126.1,214.13 L126.8,213.91 L127.5,213.81 L128.2,214 L128.9,214.1 L129.6,213.86 L130.3,214.08 L131,214.14 L131.7,213.86 L132.4,214.01 L133.1,214.03 L133.8,213.94 L134.5,213.84 L135.2,213.85 L135.9,214.05 L136.6,214.06 L137.3,213.93 L138,213.77 L138.7,214.06 L139.4,214.04 L140.1,213.82 L140.8,213.96 L141.5,214.09 L142.2,214.08 L142.9,213.93 L143.6,213.91 L144.3,213.96 L145,213.79 L145.7,213.79 L146.4,213.79 L147.1,213.99 L147.8,213.86 L148.5,213.94 L149.2,213.87 L149.9,213.92 L150.6,213.77 L151.3,213.72 L152,214.1 L152.7,213.85 L153.4,213.75 L154.1,213.96 L154.8,214.02 L155.5,213.76 L156.2,213.94 L156.9,213.84 L157.6,213.91 L158.3,213.71 L159,213.71 L159.7,214.09 L160.4,214.04 L161.1,213.89 L161.8,213.92 L162.5,213.8 L163.2,214.01 L163.9,213.87 L164.6,214.07 L165.3,214 L166,214.02 L166.7,214.08 L167.4,213.8 L168.1,213.71 L168.8,213.77 L169.5,213.77 L170.2,213.73 L170.9,213.71 L171.6,213.53 L172.3,211.57 L173,210.33 L173.7,209.56 L174.4,209.07" fill="none" stroke="#2b2b2b" stroke-width="0.6" stroke-linejoin="round" />
<path d="M110,208 L110.7,208 L111.4,208 L112.1,208 L112.8,208 L113.5,208 L114.2,208 L114.9,208 L115.6,208 L116.3,208.91 L117,210.69 L117.7,211.73 L118.4,212.79 L119.1,213.39 L119.8,213.5 L120.5,214.04 L121.2,214.19 L121.9,214.24 L122.6,214.69 L123.3,214.5 L124,214.68 L124.7,214.75 L125.4,214.9 L126.1,214.8 L126.8,214.7 L127.5,214.73 L128.2,214.61 L128.9,214.94 L129.6,214.95 L130.3,214.63 L131,214.56 L131.7,214.64 L132.4,214.68 L133.1,214.89 L133.8,214.89 L134.5,214.86 L135.2,214.54 L135.9,214.83 L136.6,214.8 L137.3,214.77 L138,214.9 L138.7,214.52 L139.4,214.56 L140.1,214.8 L140.8,214.87 L141.5,214.76 L142.2,214.61 L142.9,214.72 L143.6,214.79 L144.3,214.53 L145,214.61 L145.7,214.58 L146.4,214.53 L147.1,214.67 L147.8,214.54 L148.5,214.57 L149.2,214.53 L149.9,214.74 L150.6,214.47 L151.3,214.76 L152,214.55 L152.7,214.48 L153.4,214.84 L154.1,214.55 L154.8,214.84 L155.5,214.81 L156.2,214.82 L156.9,214.52 L157.6,214.64 L158.3,214.5 L159,214.83 L159.7,214.8 L160.4,214.71 L161.1,214.64 L161.8,214.59 L162.5,214.79 L163.2,214.65 L163.9,214.71 L164.6,214.51 L165.3,214.54 L166,214.48 L166.7,214.74 L167.4,214.68 L168.1,214.51 L168.8,214.8 L169.5,214.56 L170.2,214.62 L170.9,214.52 L171.6,214.25 L172.3,212.06 L173,210.69 L173.7,209.82 L174.4,209.27" fill="none" stroke="#2b2b2b" stroke-width="0.6" stroke-linejoin="round" />
<path d="M110,208 L110.7,208 L111.4,208 L112.1,208 L112.8,208 L113.5,208 L114.2,208 L114.9,208 L115.6,208 L116.3,208.9 L117,210.97 L117.7,212.1 L118.4,213 L119.1,213.82 L119.8,214.25 L120.5,214.85 L121.2,214.79 L121.9,215.32 L122.6,215.08 L123.3,215.5 L124,215.48 L124.7,215.34 L125.4,215.47 L126.1,215.42 L126.8,215.42 L127.5,215.4 L128.2,215.47 L128.9,215.72 L129.6,215.72 L130.3,215.69 L131,215.35 L131.7,215.43 L132.4,215.66 L133.1,215.32 L133.8,215.59 L134.5,215.41 L135.2,215.68 L135.9,215.29 L136.6,215.6 L137.3,215.41 L138,215.33 L138.7,215.27 L139.4,215.6 L140.1,215.47 L140.8,215.33 L141.5,215.43 L142.2,215.62 L142.9,215.34 L143.6,215.48 L144.3,215.3 L145,215.32 L145.7,215.55 L146.4,215.53 L147.1,215.32 L147.8,215.27 L148.5,215.27 L149.2,215.48 L149.9,215.43 L150.6,215.34 L151.3,215.31 L152,215.47 L152.7,215.51 L153.4,215.55 L154.1,215.46 L154.8,215.31 L155.5,215.25 L156.2,215.52 L156.9,215.39 L157.6,215.51 L158.3,215.24 L159,215.55 L159.7,215.35 L160.4,215.56 L161.1,215.56 L161.8,215.42 L162.5,215.22 L163.2,215.58 L163.9,215.41 L164.6,215.57 L165.3,215.32 L166,215.29 L166.7,215.55 L167.4,215.36 L168.1,215.28 L168.8,215.36 L169.5,215.45 L170.2,215.22 L170.9,215.42 L171.6,214.97 L172.3,212.56 L173,211.04 L173.7,210.08 L174.4,209.47" fill="none" stroke="#2b2b2b" stroke-width="0.6" stroke-linejoin="round" />
<path d="M110,208 L110.7,208 L111.4,208 L112.1,208 L112.8,208 L113.5,208 L114.2,208 L114.9,208 L115.6,208 L116.3,209.07 L117,211.13 L117.7,212.45 L118.4,213.75 L119.1,214.55 L119.8,215.12 L120.5,215.3 L121.2,215.74 L121.9,215.81 L122.6,216.1 L123.3,215.92 L124,216.32 L124.7,216.4 L125.4,216.25 L126.1,216.28 L126.8,216.3 L127.5,216.31 L128.2,216.1 L128.9,216.48 L129.6,216.18 L130.3,216.16 L131,216.13 L131.7,216.18 L132.4,216.4 L133.1,216.08 L133.8,216.1 L134.5,216.34 L135.2,216.13 L135.9,216.06 L136.6,216.29 L137.3,216.27 L138,216.25 L138.7,216.32 L139.4,216.07 L140.1,216.38 L140.8,216.31 L141.5,216.04 L142.2,216.07 L142.9,216.21 L143.6,216.21 L144.3,216.12 L145,216.06 L145.7,216.17 L146.4,216.06 L147.1,216.24 L147.8,216.34 L148.5,216.06 L149.2,216.23 L149.9,216.29 L150.6,216.06 L151.3,216.32 L152,216.37 L152.7,216.15 L153.4,216.16 L154.1,216.32 L154.8,216.2 L155.5,216.14 L156.2,216.36 L156.9,216.29 L157.6,216.12 L158.3,216.08 L159,216.12 L159.7,216.16 L160.4,216.37 L161.1,216.3 L161.8,216.34 L162.5,216.3 L163.2,216.32 L163.9,216 L164.6,216.18 L165.3,216.36 L166,216.35 L166.7,216.08 L167.4,216.14 L168.1,216.23 L168.8,216.12 L169.5,216.19 L170.2,216 L170.9,216.15 L171.6,215.69 L172.3,213.05 L173,211.39 L173.7,210.34 L174.4,209.67" fill="none" stroke="#2b2b2b" stroke-width="0.6" stroke-linejoin="round" />
<path d="M110,208 L110.7,208 L111.4,208 L112.1,208 L112.8,208 L113.5,208 L114.2,208 L114.9,208 L115.6,208 L116.3,209.2 L117,211.23 L117.7,212.88 L118.4,214.37 L119.1,215.13 L119.8,215.8 L120.5,216.11 L121.2,216.49 L121.9,216.74 L122.6,216.9 L123.3,216.67 L124,216.99 L124.7,216.89 L125.4,217.09 L126.1,216.95 L126.8,217.07 L127.5,217.23 L128.2,217.11 L128.9,216.96 L129.6,217.07 L130.3,217.03 L131,217.24 L131.7,216.96 L132.4,216.97 L133.1,217.1 L133.8,216.88 L134.5,217.07 L135.2,217.21 L135.9,217.02 L136.6,216.92 L137.3,217 L138,217.02 L138.7,216.86 L139.4,216.85 L140.1,216.85 L140.8,216.91 L141.5,216.95 L142.2,216.9 L142.9,216.88 L143.6,216.81 L144.3,216.99 L145,217.11 L145.7,217.01 L146.4,217 L147.1,217.03 L147.8,216.84 L148.5,217.05 L149.2,216.94 L149.9,216.98 L150.6,217 L151.3,216.94 L152,216.88 L152.7,216.85 L153.4,216.84 L154.1,216.95 L154.8,216.9 L155.5,216.98 L156.2,216.75 L156.9,216.89 L157.6,217.09 L158.3,216.84 L159,216.97 L159.7,216.94 L160.4,216.86 L161.1,217.14 L161.8,216.86 L162.5,217.05 L163.2,216.8 L163.9,216.77 L164.6,217.09 L165.3,216.91 L166,216.76 L166.7,216.89 L167.4,216.91 L168.1,217.03 L168.8,216.78 L169.5,216.83 L170.2,217.12 L170.9,217.03 L171.6,216.41 L172.3,213.55 L173,211.74 L173.7,210.6 L174.4,209.87" fill="none" stroke="#2b2b2b" stroke-width="0.6" stroke-linejoin="round" />
<path d="M110,208 L110.5,208 L111,208 L111.5,208 L112,208 L112.5,208 L113,208 L113.5,208 L114,208 L114.5,208 L115,208 L115.5,208 L116,208 L116.5,209.99 L117,211.6 L117.5,212.91 L118,213.97 L118.5,214.82 L119,215.51 L119.5,216.07 L120,216.52 L120.5,216.89 L121,217.19 L121.5,217.42 L122,217.62 L122.5,217.77 L123,217.89 L123.5,217.99 L124,218.07 L124.5,218.14 L125,218.19 L125.5,218.23 L126,218.26 L126.5,218.28 L127,218.3 L127.5,218.32 L128,218.33 L128.5,218.34 L129,218.34 L129.5,218.35 L130,218.35 L130.5,218.35 L131,218.35 L131.5,218.35 L132,218.35 L132.5,218.35 L133,218.35 L133.5,218.35 L134,218.35 L134.5,218.35 L135,218.34 L135.5,218.34 L136,218.34 L136.5,218.34 L137,218.34 L137.5,218.33 L138,218.33 L138.5,218.33 L139,218.33 L139.5,218.33 L140,218.32 L140.5,218.32 L141,218.32 L141.5,218.32 L142,218.32 L142.5,218.32 L143,218.32 L143.5,218.31 L144,218.31 L144.5,218.31 L145,218.31 L145.5,218.31 L146,218.31 L146.5,218.31 L147,218.31 L147.5,218.31 L148,218.3 L148.5,218.3 L149,218.3 L149.5,218.3 L150,218.3 L150.5,218.3 L151,218.3 L151.5,218.3 L152,218.3 L152.5,218.3 L153,218.3 L153.5,218.3 L154,218.3 L154.5,218.29 L155,218.29 L155.5,218.29 L156,218.29 L156.5,218.29 L157,218.29 L157.5,218.29 L158,218.29 L158.5,218.29 L159,218.29 L159.5,218.29 L160,218.29 L160.5,218.29 L161,218.29 L161.5,218.29 L162,218.29 L162.5,218.29 L163,218.29 L163.5,218.29 L164,218.29 L164.5,218.29 L165,218.29 L165.5,218.29 L166,218.29 L166.5,218.29 L167,218.29 L167.5,218.29 L168,218.29 L168.5,218.29 L169,218.29 L169.5,218.29 L170,218.29 L170.5,218.29 L171,218.29 L171.5,218.29 L172,215.09 L172.5,212.81 L173,211.19 L173.5,210.03 L174,209.21 L174.5,208.63 L175,208.21" fill="none" stroke="#2b2b2b" stroke-width="0.6" stroke-linejoin="round" />
<path d="M110,208 L116,208 L118,207.3 L121,205.6 L124,203.9 L127,202.2 L129,200.5 L130.5,198 L131.6,194.5 L132.3,188 L132.5,137.3 L132.8,188 L133.6,192 L134.7,188 L135,148.5 L135.3,189 L135.9,195 L137,199.5 L138.5,203 L140.5,205.8 L143.3,207.3 L146,207.2 L150,206.4 L155,205.4 L160,204.5 L165,203.7 L169,203.1 L170.5,203.8 L172,206 L174,207.6 L180,207.9 L202,208" fill="none" stroke="#2b2b2b" stroke-width="0.65" stroke-linejoin="round" />
<path d="M132.5,150 L132.5,188" fill="none" stroke="#555" stroke-width="0.9" stroke-linejoin="round" />
<path d="M135,160 L135,188" fill="none" stroke="#555" stroke-width="0.8" stroke-linejoin="round" />
<path d="M171,207.2 C174,206.2 177,205.6 181,205.6 C186,205.7 190,206.0 195,206.3 C198,206.4 200,206.5 202.4,206.6 L202.4,208.9 C199,208.9 196,208.8 191,208.7 C186,208.6 181,208.3 177,208.3 C175,208.4 173,208.7 171,209.2 Z" fill="#262626"/>
<path d="M110,208 L116.5,208" fill="none" stroke="#2b2b2b" stroke-width="0.7" stroke-linejoin="round" />
<path d="M172.9,180.6 V194.1 H185.6" fill="none" stroke="#444" stroke-width="0.7"/>
<text x="172.4" y="187.9" font-family="Liberation Serif, serif" font-size="5.5" font-weight="bold" fill="#262626" text-anchor="end" textLength="13.3" lengthAdjust="spacingAndGlyphs">20 mV</text>
<text x="180.6" y="201.1" font-family="Liberation Serif, serif" font-size="5.5" font-weight="bold" fill="#262626" text-anchor="middle" >0.2 s</text>
<path d="M186,161.6 H263.3 M251,136.3 V224.7" stroke="#858585" stroke-width="1.25" fill="none"/>
<text x="198" y="167.8" font-family="Liberation Serif, serif" font-size="5.4" font-weight="bold" fill="#333" text-anchor="middle" >-80</text>
<text x="211.3" y="167.8" font-family="Liberation Serif, serif" font-size="5.4" font-weight="bold" fill="#333" text-anchor="middle" >-60</text>
<text x="224.7" y="167.8" font-family="Liberation Serif, serif" font-size="5.4" font-weight="bold" fill="#333" text-anchor="middle" >-40</text>
<text x="238" y="167.8" font-family="Liberation Serif, serif" font-size="5.4" font-weight="bold" fill="#333" text-anchor="middle" >-20</text>
<text x="249.5" y="141" font-family="Liberation Serif, serif" font-size="5.4" font-weight="bold" fill="#333" text-anchor="end" >5</text>
<text x="249.5" y="186.1" font-family="Liberation Serif, serif" font-size="5.4" font-weight="bold" fill="#333" text-anchor="end" >-5</text>
<text x="249.5" y="208.6" font-family="Liberation Serif, serif" font-size="5.4" font-weight="bold" fill="#333" text-anchor="end" >-10</text>
<path d="M198,160.6 V162.6 M211.3,160.6 V162.6 M224.7,160.6 V162.6 M238,160.6 V162.6 M250,139.2 H252 M250,184.3 H252 M250,206.8 H252" stroke="#444" stroke-width="0.9" fill="none"/>
<text x="197" y="148.7" font-family="Liberation Serif, serif" font-size="5.9" font-weight="bold" fill="#2a2a2a">R<tspan font-size="3.66" font-style="italic" dy="1.3">M</tspan><tspan dy="-1.3"> = 215 M&#937;</tspan></text>
<text x="208.3" y="158.9" font-family="Liberation Serif, serif" font-size="5.9" font-weight="bold" fill="#2a2a2a" text-anchor="start" >I (pA)</text>
<text x="253.6" y="189.8" font-family="Liberation Serif, serif" font-size="5.9" font-weight="bold" fill="#2a2a2a" text-anchor="start" >V (mV)</text>
<path d="M246.5,168.5 L249,164.8 L251,161.6 L253,158.2 L254.8,155.5" fill="none" stroke="#1e1e1e" stroke-width="1.9" stroke-linejoin="round" stroke-linecap="round"/>
<g fill="#b0b0b0" stroke="#505050" stroke-width="0.6"><circle cx="192.6" cy="222.6" r="1.3"/><circle cx="199.3" cy="218.5" r="1.3"/><circle cx="205.5" cy="214.4" r="1.3"/><circle cx="211.6" cy="208.3" r="1.3"/><circle cx="217.2" cy="204.2" r="1.3"/><circle cx="221.9" cy="200.1" r="1.3"/><circle cx="227.4" cy="193.5" r="1.3"/><circle cx="232.5" cy="188.6" r="1.3"/><circle cx="235.2" cy="184.1" r="1.3"/><circle cx="237.2" cy="181.5" r="1.3"/><circle cx="238.7" cy="179.2" r="1.3"/><circle cx="240.3" cy="176.1" r="1.3"/><circle cx="241.6" cy="174.5" r="1.3"/><circle cx="243" cy="173" r="1.3"/><circle cx="245.5" cy="170" r="1.3"/><circle cx="247.5" cy="166.9" r="1.3"/><circle cx="255.7" cy="153.6" r="1.3"/><circle cx="257.7" cy="151.5" r="1.3"/><circle cx="259.8" cy="147.4" r="1.3"/><circle cx="261.2" cy="144.3" r="1.3"/><circle cx="262.9" cy="140.2" r="1.3"/><circle cx="260.5" cy="146.5" r="1.3"/></g>
<rect x="301.3" y="143" width="5.4" height="61" fill="#a0a0a0" opacity="0.35"/>
<path d="M296.3,221.7 L300.8,221.7 L301.1,205 L302.2,203.5 L302.4,204 L303.6,203.8 L303.8,204.3 L305,204.2 L305.2,204.6 L306.3,204.8 L306.5,205.5 L307.6,209 L308.5,210.6 L308.8,208.78 L309.3,208.48 L309.8,208.15 L310.3,207.79 L310.8,207.42 L311.55,207.1 L311.68,210.9 L312.1,211.4 L312.4,210.6 L312.9,210.34 L313.4,209.92 L313.9,209.35 L314.4,208.61 L314.9,207.71 L315.55,207.1 L315.68,210.9 L316.1,211.4 L316.4,210.6 L316.9,210.38 L317.4,210.04 L317.9,209.58 L318.4,209 L318.9,208.29 L319.4,207.47 L319.95,207.1 L320.08,210.9 L320.5,211.4 L320.8,210.6 L321.3,210.38 L321.8,210.04 L322.3,209.58 L322.8,209 L323.3,208.29 L323.8,207.47 L324.35,207.1 L324.48,210.9 L324.9,211.4 L325.2,210.6 L325.7,210.4 L326.2,210.09 L326.7,209.67 L327.2,209.15 L327.7,208.51 L328.2,207.77 L328.95,207.1 L329.08,210.9 L329.5,211.4 L329.8,210.6 L330.3,210.52 L330.8,210.43 L331.3,210.35 L331.8,210.27 L332.3,210.18 L332.8,210.1 L333.3,210.02 L333.7,209.6 L334.2,211.58 L334.7,213.23 L335.2,214.62 L335.7,215.78 L336.2,216.75 L336.7,217.56 L337.2,218.23 L337.7,218.8 L338.2,219.27 L338.7,219.67 L339.2,220 L339.7,220.28 L340.2,220.51 L340.7,220.71 L341.2,220.87 L341.7,221.01 L342.2,221.12 L342.7,221.21 L343.2,221.29 L343.7,221.36 L344.2,221.42 L344.7,221.46 L345.2,221.5 L345.7,221.53" fill="none" stroke="#333" stroke-width="0.68" stroke-linejoin="round" />
<path d="M311.6,207.1 V138.5 M315.6,207.1 V139.8 M320,207.1 V139.8 M324.4,207.1 V140.6 M329,207.1 V141 M301.1,221 V137.5 M302.4,204 V141.9 M303.8,204 V143 M305.2,204 V142.5 M306.5,205 V142.8" stroke="#5e5e5e" stroke-width="0.75" fill="none"/>
<path d="M355.0,201.7 V218.7 H364.2" fill="none" stroke="#444" stroke-width="0.7"/>
<text x="353.3" y="212.2" font-family="Liberation Serif, serif" font-size="5.5" font-weight="bold" fill="#262626" text-anchor="end" textLength="13.3" lengthAdjust="spacingAndGlyphs">20 mV</text>
<text x="360" y="226" font-family="Liberation Serif, serif" font-size="5.5" font-weight="bold" fill="#262626" text-anchor="middle" >0.2 s</text>
<path d="M397,138.3 V214.9 M397,214.9 H476" stroke="#858585" stroke-width="1.2" fill="none"/>
<text x="397" y="220.5" font-family="Liberation Serif, serif" font-size="5.3" font-weight="bold" fill="#333" text-anchor="middle" >0</text>
<text x="405.73" y="220.5" font-family="Liberation Serif, serif" font-size="5.3" font-weight="bold" fill="#333" text-anchor="middle" >1</text>
<text x="414.46" y="220.5" font-family="Liberation Serif, serif" font-size="5.3" font-weight="bold" fill="#333" text-anchor="middle" >2</text>
<text x="423.19" y="220.5" font-family="Liberation Serif, serif" font-size="5.3" font-weight="bold" fill="#333" text-anchor="middle" >3</text>
<text x="431.92" y="220.5" font-family="Liberation Serif, serif" font-size="5.3" font-weight="bold" fill="#333" text-anchor="middle" >4</text>
<text x="440.65" y="220.5" font-family="Liberation Serif, serif" font-size="5.3" font-weight="bold" fill="#333" text-anchor="middle" >5</text>
<text x="449.38" y="220.5" font-family="Liberation Serif, serif" font-size="5.3" font-weight="bold" fill="#333" text-anchor="middle" >6</text>
<text x="458.11" y="220.5" font-family="Liberation Serif, serif" font-size="5.3" font-weight="bold" fill="#333" text-anchor="middle" >7</text>
<text x="466.84" y="220.5" font-family="Liberation Serif, serif" font-size="5.3" font-weight="bold" fill="#333" text-anchor="middle" >8</text>
<text x="475.57" y="220.5" font-family="Liberation Serif, serif" font-size="5.3" font-weight="bold" fill="#333" text-anchor="middle" >9</text>
<text x="395.2" y="216.7" font-family="Liberation Serif, serif" font-size="5.4" font-weight="bold" fill="#333" text-anchor="end" >0</text>
<text x="395.2" y="203.9" font-family="Liberation Serif, serif" font-size="5.4" font-weight="bold" fill="#333" text-anchor="end" >100</text>
<text x="395.2" y="191.1" font-family="Liberation Serif, serif" font-size="5.4" font-weight="bold" fill="#333" text-anchor="end" >200</text>
<text x="395.2" y="178.3" font-family="Liberation Serif, serif" font-size="5.4" font-weight="bold" fill="#333" text-anchor="end" >300</text>
<text x="395.2" y="165.5" font-family="Liberation Serif, serif" font-size="5.4" font-weight="bold" fill="#333" text-anchor="end" >400</text>
<text x="395.2" y="152.7" font-family="Liberation Serif, serif" font-size="5.4" font-weight="bold" fill="#333" text-anchor="end" >500</text>
<text x="395.2" y="139.9" font-family="Liberation Serif, serif" font-size="5.4" font-weight="bold" fill="#333" text-anchor="end" >600</text>
<path d="M397,214.9 V216.2 M405.73,214.9 V216.2 M414.46,214.9 V216.2 M423.19,214.9 V216.2 M431.92,214.9 V216.2 M440.65,214.9 V216.2 M449.38,214.9 V216.2 M458.11,214.9 V216.2 M466.84,214.9 V216.2 M475.57,214.9 V216.2 M395.7,214.9 H397 M395.7,202.1 H397 M395.7,189.3 H397 M395.7,176.5 H397 M395.7,163.7 H397 M395.7,150.9 H397 M395.7,138.1 H397" stroke="#444" stroke-width="0.8" fill="none"/>
<path d="M405.73,214.26 L414.46,209.14 L423.19,153.84 L431.92,183.8" fill="none" stroke="#1c1c1c" stroke-width="0.85" stroke-linejoin="round" />
<path d="M405.73,214.26 L414.46,209.14 L423.19,160.37 L431.92,187.25 L440.65,188.15" fill="none" stroke="#1c1c1c" stroke-width="0.85" stroke-linejoin="round" />
<path d="M405.73,213.88 L414.46,208.5 L423.19,167.16 L431.92,190.71 L440.65,191.6 L449.38,195.96" fill="none" stroke="#1c1c1c" stroke-width="0.85" stroke-linejoin="round" />
<path d="M405.73,213.88 L414.46,209.14 L423.19,169.84 L431.92,189.3" fill="none" stroke="#1c1c1c" stroke-width="0.85" stroke-linejoin="round" />
<path d="M405.73,213.62 L414.46,208.5 L423.19,173.94 L431.92,190.58 L440.65,197.75 L449.38,197.75 L458.11,200.31 L466.84,200.95" fill="none" stroke="#1c1c1c" stroke-width="0.85" stroke-linejoin="round" />
<path d="M405.73,213.62 L414.46,209.14 L423.19,176.5 L431.92,193.14" fill="none" stroke="#1c1c1c" stroke-width="0.85" stroke-linejoin="round" />
<path d="M405.73,213.88 L414.46,209.78 L423.19,179.06 L431.92,195.06 L440.65,202.1 L449.38,202.1" fill="none" stroke="#1c1c1c" stroke-width="0.85" stroke-linejoin="round" />
<path d="M405.73,214.26 L414.46,208.5 L423.19,181.62 L431.92,195.7 L440.65,200.82 L449.38,200.82" fill="none" stroke="#1c1c1c" stroke-width="0.85" stroke-linejoin="round" />
<path d="M405.73,213.62 L414.46,208.5 L423.19,185.46 L431.92,196.98 L440.65,202.1" fill="none" stroke="#1c1c1c" stroke-width="0.85" stroke-linejoin="round" />
<path d="M405.73,213.88 L414.46,209.78 L423.19,189.3 L431.92,198.64 L440.65,200.18" fill="none" stroke="#1c1c1c" stroke-width="0.85" stroke-linejoin="round" />
<path d="M405.73,214.26 L414.46,209.78 L423.19,192.5 L431.92,197.62" fill="none" stroke="#1c1c1c" stroke-width="0.85" stroke-linejoin="round" />
<path d="M405.73,214.26 L414.46,211.06 L423.19,200.31 L431.92,196.98 L440.65,202.1" fill="none" stroke="#1c1c1c" stroke-width="0.85" stroke-linejoin="round" />
<path d="M405.73,213.88 L414.46,211.7 L423.19,209.78 L431.92,199.54 L440.65,188.15" fill="none" stroke="#1c1c1c" stroke-width="0.85" stroke-linejoin="round" />
<g fill="#8a8a8a" stroke="#222" stroke-width="0.45"><circle cx="405.73" cy="214.26" r="1.05"/><circle cx="414.46" cy="209.14" r="1.05"/><circle cx="423.19" cy="153.84" r="1.05"/><circle cx="431.92" cy="183.8" r="1.05"/><circle cx="405.73" cy="214.26" r="1.05"/><circle cx="414.46" cy="209.14" r="1.05"/><circle cx="423.19" cy="160.37" r="1.05"/><circle cx="431.92" cy="187.25" r="1.05"/><circle cx="440.65" cy="188.15" r="1.05"/><circle cx="405.73" cy="213.88" r="1.05"/><circle cx="414.46" cy="208.5" r="1.05"/><circle cx="423.19" cy="167.16" r="1.05"/><circle cx="431.92" cy="190.71" r="1.05"/><circle cx="440.65" cy="191.6" r="1.05"/><circle cx="449.38" cy="195.96" r="1.05"/><circle cx="405.73" cy="213.88" r="1.05"/><circle cx="414.46" cy="209.14" r="1.05"/><circle cx="423.19" cy="169.84" r="1.05"/><circle cx="431.92" cy="189.3" r="1.05"/><circle cx="405.73" cy="213.62" r="1.05"/><circle cx="414.46" cy="208.5" r="1.05"/><circle cx="423.19" cy="173.94" r="1.05"/><circle cx="431.92" cy="190.58" r="1.05"/><circle cx="440.65" cy="197.75" r="1.05"/><circle cx="449.38" cy="197.75" r="1.05"/><circle cx="458.11" cy="200.31" r="1.05"/><circle cx="466.84" cy="200.95" r="1.05"/><circle cx="405.73" cy="213.62" r="1.05"/><circle cx="414.46" cy="209.14" r="1.05"/><circle cx="423.19" cy="176.5" r="1.05"/><circle cx="431.92" cy="193.14" r="1.05"/><circle cx="405.73" cy="213.88" r="1.05"/><circle cx="414.46" cy="209.78" r="1.05"/><circle cx="423.19" cy="179.06" r="1.05"/><circle cx="431.92" cy="195.06" r="1.05"/><circle cx="440.65" cy="202.1" r="1.05"/><circle cx="449.38" cy="202.1" r="1.05"/><circle cx="405.73" cy="214.26" r="1.05"/><circle cx="414.46" cy="208.5" r="1.05"/><circle cx="423.19" cy="181.62" r="1.05"/><circle cx="431.92" cy="195.7" r="1.05"/><circle cx="440.65" cy="200.82" r="1.05"/><circle cx="449.38" cy="200.82" r="1.05"/><circle cx="405.73" cy="213.62" r="1.05"/><circle cx="414.46" cy="208.5" r="1.05"/><circle cx="423.19" cy="185.46" r="1.05"/><circle cx="431.92" cy="196.98" r="1.05"/><circle cx="440.65" cy="202.1" r="1.05"/><circle cx="405.73" cy="213.88" r="1.05"/><circle cx="414.46" cy="209.78" r="1.05"/><circle cx="423.19" cy="189.3" r="1.05"/><circle cx="431.92" cy="198.64" r="1.05"/><circle cx="440.65" cy="200.18" r="1.05"/><circle cx="405.73" cy="214.26" r="1.05"/><circle cx="414.46" cy="209.78" r="1.05"/><circle cx="423.19" cy="192.5" r="1.05"/><circle cx="431.92" cy="197.62" r="1.05"/><circle cx="405.73" cy="214.26" r="1.05"/><circle cx="414.46" cy="211.06" r="1.05"/><circle cx="423.19" cy="200.31" r="1.05"/><circle cx="431.92" cy="196.98" r="1.05"/><circle cx="440.65" cy="202.1" r="1.05"/><circle cx="405.73" cy="213.88" r="1.05"/><circle cx="414.46" cy="211.7" r="1.05"/><circle cx="423.19" cy="209.78" r="1.05"/><circle cx="431.92" cy="199.54" r="1.05"/><circle cx="440.65" cy="188.15" r="1.05"/></g>
<text x="402" y="162.2" font-family="Liberation Serif, serif" font-size="5.3" font-weight="bold" fill="#222" text-anchor="start" >+30 pA</text>
<text x="461.7" y="208.1" font-family="Liberation Serif, serif" font-size="5.3" font-weight="bold" fill="#222" text-anchor="start" >+98 pA</text>
<text x="380.4" y="179.2" font-family="Liberation Serif, serif" font-size="5.35" font-weight="bold" fill="#333" text-anchor="middle" transform="rotate(-90 380.4 179.2)">Interspike interval (ms)</text>
<text x="436.5" y="230" font-family="Liberation Serif, serif" font-size="5.25" font-weight="bold" fill="#2a2a2a" text-anchor="middle" >Interval number</text>
<path d="M94.5,330.6 L95.2,330.6 L95.9,330.6 L96.6,330.6 L97.3,330.6 L98,330.6 L98.7,330.6 L99.4,330.6 L100.1,330.6 L100.8,330.6 L101.5,329.96 L102.2,328.68 L102.9,327.63 L103.6,326.99 L104.3,326.35 L105,325.99 L105.7,325.62 L106.4,325.19 L107.1,325.1 L107.8,324.94 L108.5,324.82 L109.2,324.59 L109.9,324.67 L110.6,324.58 L111.3,324.64 L112,324.22 L112.7,324.56 L113.4,324.11 L114.1,324.48 L114.8,324.38 L115.5,324.33 L116.2,324.55 L116.9,324.35 L117.6,324.27 L118.3,324.45 L119,324.49 L119.7,324.36 L120.4,324.24 L121.1,324.28 L121.8,324.28 L122.5,324.41 L123.2,324.2 L123.9,324.25 L124.6,324.33 L125.3,324.24 L126,324.21 L126.7,324.44 L127.4,324.48 L128.1,324.3 L128.8,324.27 L129.5,324.14 L130.2,324.2 L130.9,324.12 L131.6,324.34 L132.3,324.34 L133,324.09 L133.7,324.51 L134.4,324.21 L135.1,324.47 L135.8,324.47 L136.5,324.53 L137.2,324.15 L137.9,324.26 L138.6,324.51 L139.3,324.06 L140,324.07 L140.7,324.33 L141.4,324.3 L142.1,324.51 L142.8,324.44 L143.5,324.32 L144.2,324.55 L144.9,324.31 L145.6,324.31 L146.3,324.39 L147,324.24 L147.7,324.23 L148.4,324.35 L149.1,324.23 L149.8,324.52 L150.5,324.39 L151.2,324.31 L151.9,324.1 L152.6,324.24 L153.3,324.25 L154,324.33 L154.7,324.34 L155.4,324.49 L156.1,324.53 L156.8,324.29 L157.5,324.27 L158.2,324.36 L158.9,324.55 L159.6,324.22 L160.3,324.32 L161,324.46 L161.7,324.14 L162.4,324.21 L163.1,324.54 L163.8,324.46 L164.5,325.42 L165.2,326.63 L165.9,327.51 L166.6,328.17 L167.3,328.65 L168,329.01 L168.7,329.27 L169.4,329.47 L170.1,329.62 L170.8,329.73 L171.5,329.82 L172.2,329.89 L172.9,329.94 L173.6,329.98 L174.3,330.02 L175,330.05 L175.7,330.07 L176.4,330.09 L177.1,330.11 L177.8,330.13 L178.5,330.14 L179.2,330.16 L179.9,330.17 L180.6,330.19 L181.3,330.2" fill="none" stroke="#2b2b2b" stroke-width="0.72" stroke-linejoin="round" />
<path d="M94.5,330.6 L95.2,330.6 L95.9,330.6 L96.6,330.6 L97.3,330.6 L98,330.6 L98.7,330.6 L99.4,330.6 L100.1,330.6 L100.8,330.6 L101.5,330.32 L102.2,329.26 L102.9,329 L103.6,328.41 L104.3,328.09 L105,327.88 L105.7,327.61 L106.4,327.21 L107.1,326.95 L107.8,326.92 L108.5,326.95 L109.2,326.89 L109.9,326.69 L110.6,326.65 L111.3,326.85 L112,326.82 L112.7,326.68 L113.4,326.98 L114.1,326.8 L114.8,326.49 L115.5,326.67 L116.2,326.86 L116.9,326.61 L117.6,326.8 L118.3,326.46 L119,326.61 L119.7,326.87 L120.4,326.75 L121.1,326.79 L121.8,326.55 L122.5,326.7 L123.2,326.73 L123.9,326.58 L124.6,326.77 L125.3,326.72 L126,326.95 L126.7,326.74 L127.4,326.66 L128.1,326.51 L128.8,326.53 L129.5,326.83 L130.2,326.5 L130.9,326.5 L131.6,326.54 L132.3,326.71 L133,326.86 L133.7,326.76 L134.4,326.85 L135.1,326.48 L135.8,326.46 L136.5,326.84 L137.2,326.61 L137.9,326.81 L138.6,326.63 L139.3,326.53 L140,326.58 L140.7,326.5 L141.4,326.9 L142.1,326.74 L142.8,326.62 L143.5,326.67 L144.2,326.64 L144.9,326.48 L145.6,326.9 L146.3,326.74 L147,326.93 L147.7,326.67 L148.4,326.76 L149.1,326.57 L149.8,326.47 L150.5,326.92 L151.2,326.88 L151.9,326.61 L152.6,326.9 L153.3,326.86 L154,326.6 L154.7,326.75 L155.4,326.93 L156.1,326.7 L156.8,326.92 L157.5,326.57 L158.2,326.64 L158.9,326.81 L159.6,326.56 L160.3,326.6 L161,326.89 L161.7,326.69 L162.4,326.85 L163.1,326.57 L163.8,326.54 L164.5,327.37 L165.2,328.1 L165.9,328.63 L166.6,329.03 L167.3,329.32 L168,329.54 L168.7,329.7 L169.4,329.82 L170.1,329.92 L170.8,329.99 L171.5,330.04 L172.2,330.08 L172.9,330.12 L173.6,330.15 L174.3,330.17 L175,330.19 L175.7,330.21 L176.4,330.22 L177.1,330.24 L177.8,330.25 L178.5,330.26 L179.2,330.27 L179.9,330.28 L180.6,330.29 L181.3,330.3" fill="none" stroke="#2b2b2b" stroke-width="0.72" stroke-linejoin="round" />
<path d="M94.5,330.6 L95.2,330.6 L95.9,330.6 L96.6,330.6 L97.3,330.6 L98,330.6 L98.7,330.6 L99.4,330.6 L100.1,330.6 L100.8,330.6 L101.5,330.42 L102.2,330 L102.9,330.15 L103.6,329.61 L104.3,329.6 L105,329.27 L105.7,329.39 L106.4,329.25 L107.1,329.21 L107.8,329.01 L108.5,329.01 L109.2,329.33 L109.9,329.08 L110.6,329.01 L111.3,328.98 L112,329.02 L112.7,328.99 L113.4,328.88 L114.1,329.19 L114.8,329.03 L115.5,328.93 L116.2,329.21 L116.9,328.9 L117.6,328.99 L118.3,329.27 L119,328.92 L119.7,329.07 L120.4,329.27 L121.1,329.25 L121.8,328.93 L122.5,329.03 L123.2,329.21 L123.9,329.04 L124.6,329.33 L125.3,328.95 L126,329.33 L126.7,329.1 L127.4,328.96 L128.1,329.08 L128.8,328.92 L129.5,329.2 L130.2,328.98 L130.9,329.3 L131.6,329.14 L132.3,329.03 L133,328.97 L133.7,329.15 L134.4,328.96 L135.1,329.29 L135.8,328.91 L136.5,329.11 L137.2,329.12 L137.9,328.99 L138.6,329.24 L139.3,329.04 L140,329.18 L140.7,329.13 L141.4,329.01 L142.1,329.04 L142.8,328.89 L143.5,328.94 L144.2,329.28 L144.9,329.01 L145.6,329.18 L146.3,328.9 L147,329.13 L147.7,329.03 L148.4,329.1 L149.1,329 L149.8,328.88 L150.5,329.01 L151.2,328.96 L151.9,328.91 L152.6,329.21 L153.3,328.99 L154,329.05 L154.7,329.3 L155.4,329.24 L156.1,329.29 L156.8,329.28 L157.5,328.92 L158.2,328.99 L158.9,328.86 L159.6,329.19 L160.3,329.18 L161,329.03 L161.7,329.06 L162.4,329.18 L163.1,329.2 L163.8,328.97 L164.5,329.33 L165.2,329.57 L165.9,329.75 L166.6,329.89 L167.3,329.99 L168,330.07 L168.7,330.13 L169.4,330.18 L170.1,330.21 L170.8,330.24 L171.5,330.26 L172.2,330.28 L172.9,330.3 L173.6,330.31 L174.3,330.32 L175,330.33 L175.7,330.34 L176.4,330.35 L177.1,330.36 L177.8,330.37 L178.5,330.37 L179.2,330.38 L179.9,330.39 L180.6,330.39 L181.3,330.4" fill="none" stroke="#2b2b2b" stroke-width="0.72" stroke-linejoin="round" />
<path d="M94.5,330.6 L95.2,330.6 L95.9,330.6 L96.6,330.6 L97.3,330.6 L98,330.6 L98.7,330.6 L99.4,330.6 L100.1,330.6 L100.8,330.6 L101.5,330.84 L102.2,330.79 L102.9,331.08 L103.6,330.97 L104.3,331.02 L105,331.48 L105.7,331.44 L106.4,331.47 L107.1,331.16 L107.8,331.19 L108.5,331.26 L109.2,331.29 L109.9,331.36 L110.6,331.4 L111.3,331.24 L112,331.38 L112.7,331.54 L113.4,331.31 L114.1,331.65 L114.8,331.51 L115.5,331.59 L116.2,331.36 L116.9,331.45 L117.6,331.57 L118.3,331.4 L119,331.23 L119.7,331.65 L120.4,331.62 L121.1,331.37 L121.8,331.25 L122.5,331.65 L123.2,331.53 L123.9,331.25 L124.6,331.35 L125.3,331.28 L126,331.62 L126.7,331.33 L127.4,331.68 L128.1,331.6 L128.8,331.27 L129.5,331.57 L130.2,331.42 L130.9,331.6 L131.6,331.64 L132.3,331.37 L133,331.27 L133.7,331.7 L134.4,331.44 L135.1,331.69 L135.8,331.57 L136.5,331.59 L137.2,331.64 L137.9,331.54 L138.6,331.45 L139.3,331.25 L140,331.57 L140.7,331.44 L141.4,331.48 L142.1,331.69 L142.8,331.29 L143.5,331.6 L144.2,331.25 L144.9,331.58 L145.6,331.63 L146.3,331.35 L147,331.5 L147.7,331.71 L148.4,331.54 L149.1,331.5 L149.8,331.35 L150.5,331.25 L151.2,331.4 L151.9,331.43 L152.6,331.32 L153.3,331.38 L154,331.29 L154.7,331.58 L155.4,331.56 L156.1,331.34 L156.8,331.34 L157.5,331.48 L158.2,331.45 L158.9,331.69 L159.6,331.4 L160.3,331.37 L161,331.67 L161.7,331.29 L162.4,331.5 L163.1,331.39 L163.8,331.63 L164.5,331.26 L165.2,331.03 L165.9,330.86 L166.6,330.74 L167.3,330.66 L168,330.6 L168.7,330.56 L169.4,330.53 L170.1,330.51 L170.8,330.49 L171.5,330.49 L172.2,330.48 L172.9,330.48 L173.6,330.48 L174.3,330.48 L175,330.48 L175.7,330.48 L176.4,330.48 L177.1,330.48 L177.8,330.49 L178.5,330.49 L179.2,330.49 L179.9,330.49 L180.6,330.5 L181.3,330.5" fill="none" stroke="#2b2b2b" stroke-width="0.72" stroke-linejoin="round" />
<path d="M94.5,330.6 L95.2,330.6 L95.9,330.6 L96.6,330.6 L97.3,330.6 L98,330.6 L98.7,330.6 L99.4,330.6 L100.1,330.6 L100.8,330.6 L101.5,330.87 L102.2,331.69 L102.9,331.95 L103.6,332.61 L104.3,332.89 L105,333.07 L105.7,333.4 L106.4,333.57 L107.1,333.32 L107.8,333.49 L108.5,333.58 L109.2,333.55 L109.9,333.51 L110.6,333.65 L111.3,333.62 L112,333.89 L112.7,333.77 L113.4,333.61 L114.1,333.72 L114.8,333.8 L115.5,333.75 L116.2,333.65 L116.9,333.61 L117.6,333.58 L118.3,334.07 L119,333.95 L119.7,333.61 L120.4,333.93 L121.1,334.06 L121.8,333.85 L122.5,333.62 L123.2,333.81 L123.9,333.78 L124.6,333.66 L125.3,333.84 L126,333.57 L126.7,334.02 L127.4,333.88 L128.1,333.88 L128.8,334.03 L129.5,333.89 L130.2,333.69 L130.9,333.68 L131.6,333.63 L132.3,333.57 L133,333.95 L133.7,333.98 L134.4,333.71 L135.1,333.65 L135.8,333.88 L136.5,333.98 L137.2,334.02 L137.9,333.64 L138.6,333.95 L139.3,333.97 L140,333.93 L140.7,333.72 L141.4,333.65 L142.1,333.97 L142.8,333.71 L143.5,333.74 L144.2,333.83 L144.9,333.74 L145.6,333.97 L146.3,333.67 L147,333.57 L147.7,333.84 L148.4,333.87 L149.1,333.96 L149.8,333.91 L150.5,334.01 L151.2,334.03 L151.9,333.8 L152.6,333.8 L153.3,333.63 L154,333.7 L154.7,333.84 L155.4,333.59 L156.1,333.9 L156.8,333.63 L157.5,333.77 L158.2,334.04 L158.9,333.6 L159.6,333.57 L160.3,333.77 L161,333.65 L161.7,333.91 L162.4,333.55 L163.1,333.97 L163.8,333.98 L164.5,333.15 L165.2,332.46 L165.9,331.95 L166.6,331.58 L167.3,331.31 L168,331.12 L168.7,330.98 L169.4,330.88 L170.1,330.8 L170.8,330.75 L171.5,330.71 L172.2,330.68 L172.9,330.66 L173.6,330.64 L174.3,330.63 L175,330.62 L175.7,330.62 L176.4,330.61 L177.1,330.61 L177.8,330.61 L178.5,330.6 L179.2,330.6 L179.9,330.6 L180.6,330.6 L181.3,330.6" fill="none" stroke="#2b2b2b" stroke-width="0.72" stroke-linejoin="round" />
<path d="M94.5,330.6 L95.2,330.6 L95.9,330.6 L96.6,330.6 L97.3,330.6 L98,330.6 L98.7,330.6 L99.4,330.6 L100.1,330.6 L100.8,330.6 L101.5,331.17 L102.2,332.23 L102.9,333.1 L103.6,334.01 L104.3,334.48 L105,334.85 L105.7,335.13 L106.4,335.42 L107.1,335.71 L107.8,335.93 L108.5,336.07 L109.2,335.78 L109.9,335.9 L110.6,336.02 L111.3,336.12 L112,336.03 L112.7,335.97 L113.4,335.93 L114.1,336.06 L114.8,336.13 L115.5,336.39 L116.2,336.36 L116.9,336.34 L117.6,336.4 L118.3,336.39 L119,336.22 L119.7,336.32 L120.4,335.94 L121.1,336.25 L121.8,336.21 L122.5,336.06 L123.2,336.19 L123.9,336.38 L124.6,336.14 L125.3,336.23 L126,336.05 L126.7,336.07 L127.4,336.34 L128.1,335.91 L128.8,335.99 L129.5,336.23 L130.2,336.12 L130.9,335.94 L131.6,336.22 L132.3,336.08 L133,336.18 L133.7,336.1 L134.4,336.15 L135.1,336.17 L135.8,336.09 L136.5,335.95 L137.2,335.98 L137.9,336.33 L138.6,336.16 L139.3,335.94 L140,336.32 L140.7,336.01 L141.4,335.93 L142.1,336.15 L142.8,336.01 L143.5,336.13 L144.2,336.16 L144.9,336 L145.6,336.17 L146.3,335.94 L147,336.14 L147.7,336.18 L148.4,335.92 L149.1,336.09 L149.8,335.92 L150.5,336.1 L151.2,336.31 L151.9,336.16 L152.6,336.24 L153.3,336.26 L154,335.94 L154.7,336.38 L155.4,336.24 L156.1,335.93 L156.8,336.3 L157.5,336.08 L158.2,335.97 L158.9,336.36 L159.6,336.16 L160.3,336.27 L161,335.95 L161.7,336.27 L162.4,335.91 L163.1,336 L163.8,336.07 L164.5,335.05 L165.2,333.89 L165.9,333.04 L166.6,332.42 L167.3,331.97 L168,331.64 L168.7,331.4 L169.4,331.22 L170.1,331.09 L170.8,331 L171.5,330.93 L172.2,330.87 L172.9,330.83 L173.6,330.8 L174.3,330.78 L175,330.77 L175.7,330.75 L176.4,330.74 L177.1,330.73 L177.8,330.73 L178.5,330.72 L179.2,330.71 L179.9,330.71 L180.6,330.71 L181.3,330.7" fill="none" stroke="#2b2b2b" stroke-width="0.72" stroke-linejoin="round" />
<path d="M94.5,330.6 L95.2,330.6 L95.9,330.6 L96.6,330.6 L97.3,330.6 L98,330.6 L98.7,330.6 L99.4,330.6 L100.1,330.6 L100.8,330.6 L101.5,330.96 L102.2,333.01 L102.9,334.17 L103.6,335.23 L104.3,336.21 L105,336.66 L105.7,337.34 L106.4,337.55 L107.1,337.93 L107.8,337.97 L108.5,338.3 L109.2,338.39 L109.9,338.12 L110.6,338.47 L111.3,338.31 L112,338.56 L112.7,338.54 L113.4,338.63 L114.1,338.29 L114.8,338.43 L115.5,338.62 L116.2,338.73 L116.9,338.61 L117.6,338.28 L118.3,338.56 L119,338.3 L119.7,338.53 L120.4,338.65 L121.1,338.31 L121.8,338.71 L122.5,338.58 L123.2,338.37 L123.9,338.34 L124.6,338.46 L125.3,338.66 L126,338.53 L126.7,338.29 L127.4,338.24 L128.1,338.29 L128.8,338.63 L129.5,338.32 L130.2,338.51 L130.9,338.37 L131.6,338.57 L132.3,338.42 L133,338.3 L133.7,338.66 L134.4,338.49 L135.1,338.57 L135.8,338.62 L136.5,338.69 L137.2,338.23 L137.9,338.39 L138.6,338.29 L139.3,338.47 L140,338.65 L140.7,338.62 L141.4,338.23 L142.1,338.31 L142.8,338.62 L143.5,338.55 L144.2,338.41 L144.9,338.45 L145.6,338.29 L146.3,338.64 L147,338.41 L147.7,338.65 L148.4,338.52 L149.1,338.25 L149.8,338.38 L150.5,338.32 L151.2,338.66 L151.9,338.51 L152.6,338.23 L153.3,338.3 L154,338.39 L154.7,338.44 L155.4,338.5 L156.1,338.4 L156.8,338.39 L157.5,338.21 L158.2,338.5 L158.9,338.38 L159.6,338.22 L160.3,338.44 L161,338.7 L161.7,338.23 L162.4,338.28 L163.1,338.54 L163.8,338.34 L164.5,336.94 L165.2,335.31 L165.9,334.13 L166.6,333.26 L167.3,332.63 L168,332.16 L168.7,331.82 L169.4,331.57 L170.1,331.38 L170.8,331.25 L171.5,331.15 L172.2,331.07 L172.9,331.01 L173.6,330.97 L174.3,330.94 L175,330.91 L175.7,330.89 L176.4,330.87 L177.1,330.86 L177.8,330.84 L178.5,330.83 L179.2,330.83 L179.9,330.82 L180.6,330.81 L181.3,330.8" fill="none" stroke="#2b2b2b" stroke-width="0.72" stroke-linejoin="round" />
<path d="M94.5,330.6 L95.2,330.6 L95.9,330.6 L96.6,330.6 L97.3,330.6 L98,330.6 L98.7,330.6 L99.4,330.6 L100.1,330.6 L100.8,330.6 L101.5,331.26 L102.2,333.67 L102.9,335.29 L103.6,336.77 L104.3,337.75 L105,338.73 L105.7,339.33 L106.4,339.3 L107.1,339.89 L107.8,340.25 L108.5,340.49 L109.2,340.59 L109.9,340.63 L110.6,340.71 L111.3,340.63 L112,340.64 L112.7,340.93 L113.4,340.99 L114.1,341.04 L114.8,340.92 L115.5,340.74 L116.2,340.97 L116.9,340.97 L117.6,340.85 L118.3,340.91 L119,340.77 L119.7,340.87 L120.4,340.8 L121.1,340.62 L121.8,340.76 L122.5,340.75 L123.2,341.08 L123.9,340.82 L124.6,340.76 L125.3,340.7 L126,340.69 L126.7,340.75 L127.4,340.64 L128.1,340.57 L128.8,341 L129.5,340.79 L130.2,340.79 L130.9,340.85 L131.6,340.71 L132.3,340.64 L133,340.59 L133.7,340.71 L134.4,340.71 L135.1,340.92 L135.8,340.83 L136.5,341.02 L137.2,340.72 L137.9,341.01 L138.6,340.84 L139.3,340.59 L140,340.64 L140.7,340.84 L141.4,341.04 L142.1,340.72 L142.8,340.93 L143.5,340.76 L144.2,340.98 L144.9,340.58 L145.6,340.79 L146.3,340.99 L147,340.68 L147.7,340.67 L148.4,340.55 L149.1,340.62 L149.8,340.67 L150.5,340.89 L151.2,340.65 L151.9,340.74 L152.6,340.64 L153.3,340.84 L154,340.97 L154.7,340.86 L155.4,340.64 L156.1,340.91 L156.8,341.02 L157.5,340.84 L158.2,340.58 L158.9,340.94 L159.6,340.98 L160.3,340.71 L161,340.61 L161.7,340.63 L162.4,340.81 L163.1,340.97 L163.8,340.86 L164.5,338.84 L165.2,336.74 L165.9,335.22 L166.6,334.1 L167.3,333.28 L168,332.68 L168.7,332.24 L169.4,331.92 L170.1,331.68 L170.8,331.5 L171.5,331.37 L172.2,331.27 L172.9,331.19 L173.6,331.13 L174.3,331.09 L175,331.05 L175.7,331.02 L176.4,331 L177.1,330.98 L177.8,330.96 L178.5,330.95 L179.2,330.94 L179.9,330.92 L180.6,330.91 L181.3,330.9" fill="none" stroke="#2b2b2b" stroke-width="0.72" stroke-linejoin="round" />
<path d="M94.5,330.6 L95.2,330.6 L95.9,330.6 L96.6,330.6 L97.3,330.6 L98,330.6 L98.7,330.6 L99.4,330.6 L100.1,330.6 L100.8,330.6 L101.5,331.77 L102.2,334.22 L102.9,336.42 L103.6,338.26 L104.3,339.45 L105,340.27 L105.7,341.12 L106.4,341.49 L107.1,341.76 L107.8,342.25 L108.5,342.3 L109.2,342.77 L109.9,342.75 L110.6,342.93 L111.3,343.06 L112,342.94 L112.7,343.09 L113.4,342.89 L114.1,343.37 L114.8,343.2 L115.5,343.42 L116.2,342.96 L116.9,343.24 L117.6,343.3 L118.3,343.1 L119,342.98 L119.7,343.01 L120.4,343 L121.1,343.31 L121.8,342.97 L122.5,343.33 L123.2,343.13 L123.9,343.19 L124.6,343.21 L125.3,343.19 L126,343.24 L126.7,343.21 L127.4,343.07 L128.1,343.27 L128.8,343.03 L129.5,343.26 L130.2,343.28 L130.9,343.28 L131.6,343.05 L132.3,343.28 L133,343.38 L133.7,343.12 L134.4,343.03 L135.1,343.15 L135.8,343.36 L136.5,342.95 L137.2,342.89 L137.9,343.12 L138.6,343.21 L139.3,343.27 L140,343.06 L140.7,343.37 L141.4,342.99 L142.1,343.25 L142.8,342.92 L143.5,342.89 L144.2,342.94 L144.9,342.9 L145.6,343.12 L146.3,343.15 L147,342.96 L147.7,343.34 L148.4,343.05 L149.1,342.94 L149.8,342.96 L150.5,343.24 L151.2,343.33 L151.9,342.95 L152.6,342.88 L153.3,343.26 L154,342.99 L154.7,343.36 L155.4,343.12 L156.1,343.19 L156.8,343.04 L157.5,343.27 L158.2,343.1 L158.9,343.03 L159.6,343.32 L160.3,342.92 L161,343.23 L161.7,342.9 L162.4,343.19 L163.1,343.07 L163.8,343.3 L164.5,340.73 L165.2,338.17 L165.9,336.31 L166.6,334.94 L167.3,333.94 L168,333.2 L168.7,332.66 L169.4,332.26 L170.1,331.97 L170.8,331.75 L171.5,331.59 L172.2,331.46 L172.9,331.37 L173.6,331.3 L174.3,331.24 L175,331.2 L175.7,331.16 L176.4,331.13 L177.1,331.1 L177.8,331.08 L178.5,331.06 L179.2,331.05 L179.9,331.03 L180.6,331.02 L181.3,331.01" fill="none" stroke="#2b2b2b" stroke-width="0.72" stroke-linejoin="round" />
<path d="M94.5,330.6 L95.2,330.6 L95.9,330.6 L96.6,330.6 L97.3,330.6 L98,330.6 L98.7,330.6 L99.4,330.6 L100.1,330.6 L100.8,330.6 L101.5,331.58 L102.2,335.26 L102.9,337.69 L103.6,339.77 L104.3,341.11 L105,341.91 L105.7,342.39 L106.4,342.89 L107.1,343.24 L107.8,343.56 L108.5,343.62 L109.2,343.71 L109.9,344.05 L110.6,344.03 L111.3,343.87 L112,344.21 L112.7,343.81 L113.4,343.97 L114.1,343.74 L114.8,344.07 L115.5,344.04 L116.2,343.71 L116.9,343.93 L117.6,343.94 L118.3,343.64 L119,343.64 L119.7,343.69 L120.4,343.87 L121.1,343.49 L121.8,343.73 L122.5,343.67 L123.2,343.58 L123.9,343.62 L124.6,343.76 L125.3,343.41 L126,343.73 L126.7,343.46 L127.4,343.66 L128.1,343.69 L128.8,343.33 L129.5,343.67 L130.2,343.72 L130.9,343.37 L131.6,343.22 L132.3,343.26 L133,343.68 L133.7,343.19 L134.4,343.64 L135.1,343.25 L135.8,343.54 L136.5,343.22 L137.2,343.25 L137.9,343.5 L138.6,343.2 L139.3,343.32 L140,343.61 L140.7,343.5 L141.4,343.58 L142.1,343.63 L142.8,343.15 L143.5,343.25 L144.2,343.53 L144.9,343.47 L145.6,343.15 L146.3,343.38 L147,343.24 L147.7,343.34 L148.4,343.17 L149.1,343.13 L149.8,343.61 L150.5,343.27 L151.2,343.55 L151.9,343.17 L152.6,343.36 L153.3,343.18 L154,343.33 L154.7,343.2 L155.4,343.45 L156.1,343.18 L156.8,343.48 L157.5,343.36 L158.2,343.16 L158.9,343.28 L159.6,343.35 L160.3,343.57 L161,343.28 L161.7,343.21 L162.4,343.59 L163.1,343.55 L163.8,343.47 L164.5,340.56 L165.2,337.59 L165.9,335.44 L166.6,333.89 L167.3,332.77 L168,331.96 L168.7,331.38 L169.4,330.96 L170.1,330.66 L170.8,330.45 L171.5,330.31 L172.2,330.2 L172.9,330.14 L173.6,330.09 L174.3,330.06 L175,330.05 L175.7,330.04 L176.4,330.04 L177.1,330.04 L177.8,330.05 L178.5,330.06 L179.2,330.07 L179.9,330.08 L180.6,330.09 L181.3,330.1" fill="none" stroke="#2b2b2b" stroke-width="0.72" stroke-linejoin="round" />
<path d="M94.5,330.6 L101.3,330.6 L102,327.5 L103,323.5 L104.5,321 L107,319.8 L112,319.3 L112,319.14 L112.8,319.03 L113.6,319.05 L114.4,318.87 L115.2,318.8 L116,319.09 L116.8,318.97 L117.6,319.03 L118.4,318.85 L119.2,318.56 L120,318.99 L120.8,318.92 L121.6,318.8 L122.4,318.76 L123.2,318.82 L124,318.98 L124.8,318.86 L125.6,318.7 L126.4,318.44 L127.2,318.34 L128,318.36 L128.8,318.71 L129.6,318.25 L130.4,318.21 L131.2,318.18 L132,317.95 L132.8,318.5 L133.6,317.77 L134.4,318.14 L135.2,318.32 L136,317.81 L136.8,318.01 L137.6,317.81 L138.4,317.67 L139.2,317.59 L140,317.49 L140.8,317.96 L141.6,317.87 L142.4,317.91 L143.2,317.27 L144,317.68 L144.8,317.37 L145.6,317.55 L146.4,317.44 L147.2,317.23 L148,317.65 L148.8,316.93 L149.6,317.4 L150.4,317.44 L151.2,317.15 L152,317.16 L152.8,317 L152.9,261.3 L153,322.5 L154,323.6 L155,323 L156.5,321.5 L158.5,319.5 L160.5,318.2 L162.8,316.9 L162.9,262.9 L163,322 L164,323 L165,326 L166.5,329.5 L169,330.6 L181.7,330.6" fill="none" stroke="#555" stroke-width="0.65" stroke-linejoin="round" />
<path d="M164,328.9 C170,329.1 176,329.2 181.9,329.3 L181.9,331.1 C176,331.1 170,331.3 164,331.9 Z" fill="#222"/>
<path d="M94.5,330.6 L101.6,330.6" fill="none" stroke="#2b2b2b" stroke-width="1.1" stroke-linejoin="round" />
<path d="M96.9,340.3 V351.25 H109.4" fill="none" stroke="#444" stroke-width="0.7"/>
<text x="95.6" y="347" font-family="Liberation Serif, serif" font-size="5.5" font-weight="bold" fill="#262626" text-anchor="end" textLength="13.3" lengthAdjust="spacingAndGlyphs">20 mV</text>
<text x="104.1" y="358" font-family="Liberation Serif, serif" font-size="5.5" font-weight="bold" fill="#262626" text-anchor="middle" >1 s</text>
<path d="M169.6,288.3 H261.3 M237.9,263.3 V351.9" stroke="#858585" stroke-width="1.25" fill="none"/>
<text x="169.6" y="294.3" font-family="Liberation Serif, serif" font-size="5.4" font-weight="bold" fill="#333" text-anchor="middle" >-30</text>
<text x="192.5" y="294.3" font-family="Liberation Serif, serif" font-size="5.4" font-weight="bold" fill="#333" text-anchor="middle" >-20</text>
<text x="215.4" y="294.3" font-family="Liberation Serif, serif" font-size="5.4" font-weight="bold" fill="#333" text-anchor="middle" >-10</text>
<text x="260.8" y="294.3" font-family="Liberation Serif, serif" font-size="5.4" font-weight="bold" fill="#333" text-anchor="middle" >10</text>
<text x="236.4" y="277.2" font-family="Liberation Serif, serif" font-size="5.4" font-weight="bold" fill="#333" text-anchor="end" >5</text>
<text x="236.4" y="303.7" font-family="Liberation Serif, serif" font-size="5.4" font-weight="bold" fill="#333" text-anchor="end" >-5</text>
<text x="236.4" y="317.2" font-family="Liberation Serif, serif" font-size="5.4" font-weight="bold" fill="#333" text-anchor="end" >-10</text>
<text x="236.4" y="330.1" font-family="Liberation Serif, serif" font-size="5.4" font-weight="bold" fill="#333" text-anchor="end" >-15</text>
<text x="236.4" y="343.3" font-family="Liberation Serif, serif" font-size="5.4" font-weight="bold" fill="#333" text-anchor="end" >-20</text>
<path d="M169.6,287.3 V289.3 M192.5,287.3 V289.3 M215.4,287.3 V289.3 M260.8,287.3 V289.3 M236.9,275.4 H238.9 M236.9,301.9 H238.9 M236.9,315.4 H238.9 M236.9,328.3 H238.9 M236.9,341.5 H238.9" stroke="#444" stroke-width="0.9" fill="none"/>
<text x="183.8" y="275.3" font-family="Liberation Serif, serif" font-size="5.9" font-weight="bold" fill="#2a2a2a">R<tspan font-size="3.66" font-style="italic" dy="1.3">M</tspan><tspan dy="-1.3"> = 1.5 G&#937;</tspan></text>
<text x="195.2" y="285.7" font-family="Liberation Serif, serif" font-size="5.9" font-weight="bold" fill="#2a2a2a" text-anchor="start" >I (pA)</text>
<text x="241" y="317.4" font-family="Liberation Serif, serif" font-size="5.9" font-weight="bold" fill="#2a2a2a" text-anchor="start" >V (mV)</text>
<g fill="#b0b0b0" stroke="#505050" stroke-width="0.6"><circle cx="179.6" cy="348.3" r="1.3"/><circle cx="179.9" cy="346.2" r="1.3"/><circle cx="185.4" cy="344.2" r="1.3"/><circle cx="194.2" cy="339.4" r="1.3"/><circle cx="196.3" cy="339.4" r="1.3"/><circle cx="198.3" cy="333.1" r="1.3"/><circle cx="200" cy="336.7" r="1.3"/><circle cx="202.1" cy="335.2" r="1.3"/><circle cx="203.5" cy="333.8" r="1.3"/><circle cx="205.6" cy="332.1" r="1.3"/><circle cx="210.4" cy="325.4" r="1.3"/><circle cx="215" cy="320.6" r="1.3"/><circle cx="218.8" cy="320.2" r="1.3"/><circle cx="219.6" cy="315.4" r="1.3"/><circle cx="221.9" cy="310.2" r="1.3"/><circle cx="226.9" cy="309.6" r="1.3"/><circle cx="227.5" cy="302.5" r="1.3"/><circle cx="236.9" cy="288.3" r="1.3"/><circle cx="241.7" cy="279.6" r="1.3"/><circle cx="247.3" cy="265.4" r="1.3"/><circle cx="247.9" cy="267.5" r="1.3"/><circle cx="254.2" cy="265" r="1.3"/></g>
<path d="M231.7,297.7 L241.7,279.6" fill="none" stroke="#333" stroke-width="0.7" stroke-linejoin="round" />
<circle cx="231.7" cy="297.7" r="1.3" fill="#333"/>
<circle cx="236.9" cy="288.3" r="1.25" fill="#bbb" stroke="#555" stroke-width="0.5"/>
<circle cx="241.7" cy="279.6" r="1.25" fill="#bbb" stroke="#555" stroke-width="0.5"/>
<path d="M270.2,344.6 L272.3,344.6 L272.8,341 L273.3,337.5 L274,335.5 L275.5,335 L275.5,334.51 L276.8,334.6 L278.1,335.16 L279.4,334.23 L280.7,334.2 L282,334.24 L283.3,333.41 L284.6,333.9 L285.9,334.01 L287.2,334.2 L288.5,332.84 L289.8,333.11 L291.1,332.63 L292.4,333.82 L293.7,333.5 L295,332.23 L296.3,333.82 L297.6,333.68 L298.9,333.02 L300.2,332.85 L301.5,331.92 L302.8,331.56 L304.1,332.38 L305.4,331.43 L306.7,331.57 L308,331.56 L309.3,331.07 L310.6,331.75 L311.9,331.6 L313.2,332.22 L314.5,331.54 L315.8,331.65 L317.1,331.3 L318.4,331.49 L319.7,331.02 L321,330.59 L322.3,331.78 L323.6,331.67 L324.9,331.29 L326.2,330.95 L327.5,330.14 L328.8,329.88 L330.1,329.89 L331.4,329.39 L332.7,330.54 L334,329.78 L335.3,330.48 L336.6,329.55 L337.9,330.47 L339.3,329 L339.5,337.5 L340.3,338.6 L341,334.5 L342,331.5 L343.5,332.3 L345,330.8 L346.5,331.6 L348,330.2 L349.5,330.9 L351,329.6 L352.4,328.6 L352.6,336.5 L353.4,337.3 L354.2,333.5 L355,332.5 L356,334 L356.7,336 L357.6,340.5 L359,343.5 L361,344.4 L363,344.6" fill="none" stroke="#262626" stroke-width="0.85" stroke-linejoin="round" />
<path d="M339.4,330 L339.4,262.3" fill="none" stroke="#555" stroke-width="0.75" stroke-linejoin="round" />
<path d="M352.5,330 L352.5,262.8" fill="none" stroke="#555" stroke-width="0.75" stroke-linejoin="round" />
<path d="M329.6,337.3 V350.8 H350.4" fill="none" stroke="#444" stroke-width="0.7"/>
<text x="327.8" y="345.2" font-family="Liberation Serif, serif" font-size="5.5" font-weight="bold" fill="#262626" text-anchor="end" textLength="13.3" lengthAdjust="spacingAndGlyphs">20 mV</text>
<text x="339.8" y="357.4" font-family="Liberation Serif, serif" font-size="5.5" font-weight="bold" fill="#262626" text-anchor="middle" >5 s</text>
<path d="M395.7,265.3 V341.7 M395.7,341.7 H476" stroke="#858585" stroke-width="1.2" fill="none"/>
<text x="395.7" y="347.3" font-family="Liberation Serif, serif" font-size="5.3" font-weight="bold" fill="#333" text-anchor="middle" >0</text>
<text x="415.65" y="347.3" font-family="Liberation Serif, serif" font-size="5.3" font-weight="bold" fill="#333" text-anchor="middle" >5</text>
<text x="435.6" y="347.3" font-family="Liberation Serif, serif" font-size="5.3" font-weight="bold" fill="#333" text-anchor="middle" >10</text>
<text x="455.55" y="347.3" font-family="Liberation Serif, serif" font-size="5.3" font-weight="bold" fill="#333" text-anchor="middle" >15</text>
<text x="475.5" y="347.3" font-family="Liberation Serif, serif" font-size="5.3" font-weight="bold" fill="#333" text-anchor="middle" >20</text>
<text x="393.9" y="343.5" font-family="Liberation Serif, serif" font-size="5.4" font-weight="bold" fill="#333" text-anchor="end" >0</text>
<text x="393.9" y="326.1" font-family="Liberation Serif, serif" font-size="5.4" font-weight="bold" fill="#333" text-anchor="end" >200</text>
<text x="393.9" y="308.7" font-family="Liberation Serif, serif" font-size="5.4" font-weight="bold" fill="#333" text-anchor="end" >400</text>
<text x="393.9" y="291.3" font-family="Liberation Serif, serif" font-size="5.4" font-weight="bold" fill="#333" text-anchor="end" >600</text>
<text x="393.9" y="273.9" font-family="Liberation Serif, serif" font-size="5.4" font-weight="bold" fill="#333" text-anchor="end" >800</text>
<path d="M395.7,341.7 V343 M415.65,341.7 V343 M435.6,341.7 V343 M455.55,341.7 V343 M475.5,341.7 V343 M394.4,341.7 H395.7 M394.4,324.3 H395.7 M394.4,306.9 H395.7 M394.4,289.5 H395.7 M394.4,272.1 H395.7" stroke="#444" stroke-width="0.8" fill="none"/>
<path d="M399.69,269.84 L403.68,281.32" fill="none" stroke="#222" stroke-width="0.85" stroke-linejoin="round" />
<path d="M399.69,282.8 L403.68,285.76 L407.67,290.37 L411.66,298.46 L415.65,294.28 L419.64,302.12 L423.63,306.9 L427.62,308.64 L431.61,311.25 L435.6,312.99 L439.59,315.6 L443.58,317.34" fill="none" stroke="#222" stroke-width="0.85" stroke-linejoin="round" />
<path d="M399.69,288.98 L403.68,292.98 L407.67,298.2 L411.66,303.42 L415.65,306.9 L419.64,309.51 L423.63,311.25 L427.62,310.38 L431.61,312.12 L435.6,307.77 L439.59,311.25 L443.58,315.6 L447.57,318.21 L451.56,319.95 L455.55,320.38 L459.54,319.08" fill="none" stroke="#222" stroke-width="0.85" stroke-linejoin="round" />
<path d="M399.69,295.33 L403.68,294.28 L407.67,300.81 L411.66,306.9 L415.65,310.38 L419.64,312.99 L423.63,314.73 L427.62,315.6 L431.61,312.99 L435.6,308.64 L439.59,313.86 L443.58,317.34 L447.57,319.08 L451.56,319.95 L455.55,319.95 L459.54,320.82 L463.53,321.69 L467.52,320.82" fill="none" stroke="#222" stroke-width="0.85" stroke-linejoin="round" />
<path d="M399.69,300.55 L403.68,303.42 L407.67,306.9 L411.66,310.38 L415.65,312.99 L419.64,314.73 L423.63,315.6 L427.62,316.47 L431.61,317.34 L435.6,318.21 L439.59,319.08 L443.58,319.95 L447.57,320.38 L451.56,320.82 L455.55,321.25 L459.54,321.69 L463.53,321.69 L467.52,322.12 L471.51,321.69 L475.5,320.82" fill="none" stroke="#222" stroke-width="0.85" stroke-linejoin="round" />
<path d="M399.69,305.77 L403.68,308.64 L407.67,311.25 L411.66,313.86 L415.65,315.6 L419.64,317.34 L423.63,318.21 L427.62,319.08 L431.61,319.51 L435.6,319.95 L439.59,320.38 L443.58,320.82 L447.57,321.25 L451.56,321.69 L455.55,321.69 L459.54,322.12 L463.53,322.12 L467.52,321.69" fill="none" stroke="#222" stroke-width="0.85" stroke-linejoin="round" />
<path d="M399.69,310.38 L403.68,312.12 L407.67,313.86 L411.66,315.6 L415.65,316.47 L419.64,317.34 L423.63,319.08 L427.62,319.95 L431.61,320.38 L435.6,320.82 L439.59,321.25 L443.58,321.69 L447.57,321.86 L451.56,322.12" fill="none" stroke="#222" stroke-width="0.85" stroke-linejoin="round" />
<path d="M399.69,313.86 L403.68,315.6 L407.67,316.47 L411.66,317.34 L415.65,318.21 L419.64,319.08 L423.63,319.95 L427.62,320.38 L431.61,320.82 L435.6,321.25 L439.59,321.69 L443.58,321.86 L447.57,322.12" fill="none" stroke="#222" stroke-width="0.85" stroke-linejoin="round" />
<path d="M399.69,316.47 L403.68,317.34 L407.67,318.21 L411.66,319.08 L415.65,319.95 L419.64,320.38 L423.63,320.82 L427.62,321.25 L431.61,321.69 L435.6,321.86 L439.59,322.12 L443.58,322.39" fill="none" stroke="#222" stroke-width="0.85" stroke-linejoin="round" />
<path d="M399.69,318.21 L403.68,319.08 L407.67,319.95 L411.66,320.38 L415.65,320.82 L419.64,321.25 L423.63,321.69 L427.62,321.86 L431.61,322.12 L435.6,322.39 L439.59,322.56" fill="none" stroke="#222" stroke-width="0.85" stroke-linejoin="round" />
<path d="M399.69,320.82 L403.68,321.25 L407.67,321.69 L411.66,321.86 L415.65,322.12 L419.64,322.39 L423.63,322.56 L427.62,322.73 L431.61,323 L435.6,323 L439.59,323 L443.58,322.73 L447.57,322.56 L451.56,322.39 L455.55,322.12 L459.54,321.86 L463.53,321.69 L467.52,321.25 L471.51,320.82" fill="none" stroke="#222" stroke-width="0.85" stroke-linejoin="round" />
<g fill="#d8d8d8" stroke="#222" stroke-width="0.45"><circle cx="399.69" cy="269.84" r="1.05"/><circle cx="403.68" cy="281.32" r="1.05"/><circle cx="399.69" cy="282.8" r="1.05"/><circle cx="403.68" cy="285.76" r="1.05"/><circle cx="407.67" cy="290.37" r="1.05"/><circle cx="411.66" cy="298.46" r="1.05"/><circle cx="415.65" cy="294.28" r="1.05"/><circle cx="419.64" cy="302.12" r="1.05"/><circle cx="423.63" cy="306.9" r="1.05"/><circle cx="427.62" cy="308.64" r="1.05"/><circle cx="431.61" cy="311.25" r="1.05"/><circle cx="435.6" cy="312.99" r="1.05"/><circle cx="439.59" cy="315.6" r="1.05"/><circle cx="443.58" cy="317.34" r="1.05"/><circle cx="399.69" cy="288.98" r="1.05"/><circle cx="403.68" cy="292.98" r="1.05"/><circle cx="407.67" cy="298.2" r="1.05"/><circle cx="411.66" cy="303.42" r="1.05"/><circle cx="415.65" cy="306.9" r="1.05"/><circle cx="419.64" cy="309.51" r="1.05"/><circle cx="423.63" cy="311.25" r="1.05"/><circle cx="427.62" cy="310.38" r="1.05"/><circle cx="431.61" cy="312.12" r="1.05"/><circle cx="435.6" cy="307.77" r="1.05"/><circle cx="439.59" cy="311.25" r="1.05"/><circle cx="443.58" cy="315.6" r="1.05"/><circle cx="447.57" cy="318.21" r="1.05"/><circle cx="451.56" cy="319.95" r="1.05"/><circle cx="455.55" cy="320.38" r="1.05"/><circle cx="459.54" cy="319.08" r="1.05"/><circle cx="399.69" cy="295.33" r="1.05"/><circle cx="403.68" cy="294.28" r="1.05"/><circle cx="407.67" cy="300.81" r="1.05"/><circle cx="411.66" cy="306.9" r="1.05"/><circle cx="415.65" cy="310.38" r="1.05"/><circle cx="419.64" cy="312.99" r="1.05"/><circle cx="423.63" cy="314.73" r="1.05"/><circle cx="427.62" cy="315.6" r="1.05"/><circle cx="431.61" cy="312.99" r="1.05"/><circle cx="435.6" cy="308.64" r="1.05"/><circle cx="439.59" cy="313.86" r="1.05"/><circle cx="443.58" cy="317.34" r="1.05"/><circle cx="447.57" cy="319.08" r="1.05"/><circle cx="451.56" cy="319.95" r="1.05"/><circle cx="455.55" cy="319.95" r="1.05"/><circle cx="459.54" cy="320.82" r="1.05"/><circle cx="463.53" cy="321.69" r="1.05"/><circle cx="467.52" cy="320.82" r="1.05"/><circle cx="399.69" cy="300.55" r="1.05"/><circle cx="403.68" cy="303.42" r="1.05"/><circle cx="407.67" cy="306.9" r="1.05"/><circle cx="411.66" cy="310.38" r="1.05"/><circle cx="415.65" cy="312.99" r="1.05"/><circle cx="419.64" cy="314.73" r="1.05"/><circle cx="423.63" cy="315.6" r="1.05"/><circle cx="427.62" cy="316.47" r="1.05"/><circle cx="431.61" cy="317.34" r="1.05"/><circle cx="435.6" cy="318.21" r="1.05"/><circle cx="439.59" cy="319.08" r="1.05"/><circle cx="443.58" cy="319.95" r="1.05"/><circle cx="447.57" cy="320.38" r="1.05"/><circle cx="451.56" cy="320.82" r="1.05"/><circle cx="455.55" cy="321.25" r="1.05"/><circle cx="459.54" cy="321.69" r="1.05"/><circle cx="463.53" cy="321.69" r="1.05"/><circle cx="467.52" cy="322.12" r="1.05"/><circle cx="471.51" cy="321.69" r="1.05"/><circle cx="475.5" cy="320.82" r="1.05"/><circle cx="399.69" cy="305.77" r="1.05"/><circle cx="403.68" cy="308.64" r="1.05"/><circle cx="407.67" cy="311.25" r="1.05"/><circle cx="411.66" cy="313.86" r="1.05"/><circle cx="415.65" cy="315.6" r="1.05"/><circle cx="419.64" cy="317.34" r="1.05"/><circle cx="423.63" cy="318.21" r="1.05"/><circle cx="427.62" cy="319.08" r="1.05"/><circle cx="431.61" cy="319.51" r="1.05"/><circle cx="435.6" cy="319.95" r="1.05"/><circle cx="439.59" cy="320.38" r="1.05"/><circle cx="443.58" cy="320.82" r="1.05"/><circle cx="447.57" cy="321.25" r="1.05"/><circle cx="451.56" cy="321.69" r="1.05"/><circle cx="455.55" cy="321.69" r="1.05"/><circle cx="459.54" cy="322.12" r="1.05"/><circle cx="463.53" cy="322.12" r="1.05"/><circle cx="467.52" cy="321.69" r="1.05"/><circle cx="399.69" cy="310.38" r="1.05"/><circle cx="403.68" cy="312.12" r="1.05"/><circle cx="407.67" cy="313.86" r="1.05"/><circle cx="411.66" cy="315.6" r="1.05"/><circle cx="415.65" cy="316.47" r="1.05"/><circle cx="419.64" cy="317.34" r="1.05"/><circle cx="423.63" cy="319.08" r="1.05"/><circle cx="427.62" cy="319.95" r="1.05"/><circle cx="431.61" cy="320.38" r="1.05"/><circle cx="435.6" cy="320.82" r="1.05"/><circle cx="439.59" cy="321.25" r="1.05"/><circle cx="443.58" cy="321.69" r="1.05"/><circle cx="447.57" cy="321.86" r="1.05"/><circle cx="451.56" cy="322.12" r="1.05"/><circle cx="399.69" cy="313.86" r="1.05"/><circle cx="403.68" cy="315.6" r="1.05"/><circle cx="407.67" cy="316.47" r="1.05"/><circle cx="411.66" cy="317.34" r="1.05"/><circle cx="415.65" cy="318.21" r="1.05"/><circle cx="419.64" cy="319.08" r="1.05"/><circle cx="423.63" cy="319.95" r="1.05"/><circle cx="427.62" cy="320.38" r="1.05"/><circle cx="431.61" cy="320.82" r="1.05"/><circle cx="435.6" cy="321.25" r="1.05"/><circle cx="439.59" cy="321.69" r="1.05"/><circle cx="443.58" cy="321.86" r="1.05"/><circle cx="447.57" cy="322.12" r="1.05"/><circle cx="399.69" cy="316.47" r="1.05"/><circle cx="403.68" cy="317.34" r="1.05"/><circle cx="407.67" cy="318.21" r="1.05"/><circle cx="411.66" cy="319.08" r="1.05"/><circle cx="415.65" cy="319.95" r="1.05"/><circle cx="419.64" cy="320.38" r="1.05"/><circle cx="423.63" cy="320.82" r="1.05"/><circle cx="427.62" cy="321.25" r="1.05"/><circle cx="431.61" cy="321.69" r="1.05"/><circle cx="435.6" cy="321.86" r="1.05"/><circle cx="439.59" cy="322.12" r="1.05"/><circle cx="443.58" cy="322.39" r="1.05"/><circle cx="399.69" cy="318.21" r="1.05"/><circle cx="403.68" cy="319.08" r="1.05"/><circle cx="407.67" cy="319.95" r="1.05"/><circle cx="411.66" cy="320.38" r="1.05"/><circle cx="415.65" cy="320.82" r="1.05"/><circle cx="419.64" cy="321.25" r="1.05"/><circle cx="423.63" cy="321.69" r="1.05"/><circle cx="427.62" cy="321.86" r="1.05"/><circle cx="431.61" cy="322.12" r="1.05"/><circle cx="435.6" cy="322.39" r="1.05"/><circle cx="439.59" cy="322.56" r="1.05"/><circle cx="399.69" cy="320.82" r="1.05"/><circle cx="403.68" cy="321.25" r="1.05"/><circle cx="407.67" cy="321.69" r="1.05"/><circle cx="411.66" cy="321.86" r="1.05"/><circle cx="415.65" cy="322.12" r="1.05"/><circle cx="419.64" cy="322.39" r="1.05"/><circle cx="423.63" cy="322.56" r="1.05"/><circle cx="427.62" cy="322.73" r="1.05"/><circle cx="431.61" cy="323" r="1.05"/><circle cx="435.6" cy="323" r="1.05"/><circle cx="439.59" cy="323" r="1.05"/><circle cx="443.58" cy="322.73" r="1.05"/><circle cx="447.57" cy="322.56" r="1.05"/><circle cx="451.56" cy="322.39" r="1.05"/><circle cx="455.55" cy="322.12" r="1.05"/><circle cx="459.54" cy="321.86" r="1.05"/><circle cx="463.53" cy="321.69" r="1.05"/><circle cx="467.52" cy="321.25" r="1.05"/><circle cx="471.51" cy="320.82" r="1.05"/></g>
<text x="403.3" y="269.8" font-family="Liberation Serif, serif" font-size="5.3" font-weight="bold" fill="#222" text-anchor="start" >+9 pA</text>
<text x="461.3" y="332.4" font-family="Liberation Serif, serif" font-size="5.3" font-weight="bold" fill="#222" text-anchor="start" >+24 pA</text>
<text x="380.4" y="303.4" font-family="Liberation Serif, serif" font-size="5.35" font-weight="bold" fill="#333" text-anchor="middle" transform="rotate(-90 380.4 303.4)">Interspike interval (ms)</text>
<text x="436.5" y="356" font-family="Liberation Serif, serif" font-size="5.25" font-weight="bold" fill="#2a2a2a" text-anchor="middle" >Interval number</text>
<text x="43.8" y="393.8" font-family="Liberation Serif, serif" font-size="12.4" font-weight="normal" fill="#1e1e1e" text-anchor="start" textLength="30.8" lengthAdjust="spacingAndGlyphs" stroke="#1e1e1e" stroke-width="0.2">FS cell</text>
<path d="M18,464.3 L18.7,464.3 L19.4,464.3 L20.1,464.3 L20.8,464.3 L21.5,464.3 L22.2,464.3 L22.9,464.3 L23.6,464.3 L24.3,464.3 L25,464.3 L25.7,464.3 L26.4,464.3 L27.1,464.3 L27.8,464.3 L28.5,464.3 L29.2,462.56 L29.9,460.87 L30.6,460 L31.3,459.61 L32,459.1 L32.7,459 L33.4,458.66 L34.1,458.46 L34.8,458.56 L35.5,458.56 L36.2,458.38 L36.9,458.31 L37.6,458.37 L38.3,458.55 L39,458.49 L39.7,458.29 L40.4,458.33 L41.1,458.28 L41.8,458.27 L42.5,458.49 L43.2,458.3 L43.9,458.42 L44.6,458.38 L45.3,458.31 L46,458.47 L46.7,458.29 L47.4,458.44 L48.1,458.28 L48.8,458.38 L49.5,458.31 L50.2,458.33 L50.9,458.54 L51.6,458.49 L52.3,458.34 L53,458.52 L53.7,458.31 L54.4,458.37 L55.1,458.51 L55.8,458.44 L56.5,458.28 L57.2,458.55 L57.9,458.31 L58.6,458.33 L59.3,458.48 L60,458.35 L60.7,458.34 L61.4,458.27 L62.1,458.28 L62.8,458.42 L63.5,458.32 L64.2,458.43 L64.9,458.36 L65.6,458.39 L66.3,458.54 L67,458.4 L67.7,458.42 L68.4,458.51 L69.1,458.3 L69.8,458.3 L70.5,458.52 L71.2,458.5 L71.9,458.32 L72.6,458.31 L73.3,458.47 L74,458.53 L74.7,458.31 L75.4,458.54 L76.1,458.51 L76.8,458.43 L77.5,458.38 L78.2,458.28 L78.9,458.26 L79.6,458.54 L80.3,458.32 L81,458.46 L81.7,458.33 L82.4,458.5 L83.1,458.43 L83.8,458.34 L84.5,458.3 L85.2,458.47 L85.9,458.27 L86.6,458.32 L87.3,458.42 L88,458.51 L88.7,458.43 L89.4,458.33 L90.1,458.53 L90.8,458.31 L91.5,458.25 L92.2,458.33 L92.9,458.38 L93.6,458.27 L94.3,458.3 L95,458.36 L95.7,458.42 L96.4,458.29 L97.1,458.36 L97.8,458.52 L98.5,458.54 L99.2,458.45 L99.9,458.46 L100.6,458.43 L101.3,458.29 L102,458.26 L102.7,458.26 L103.4,458.52 L104.1,458.46 L104.8,458.54 L105.5,458.26 L106.2,458.44 L106.9,458.39 L107.6,458.47 L108.3,458.35 L109,458.55 L109.7,458.94 L110.4,460.42 L111.1,461.43 L111.8,462.13 L112.5,462.61 L113.2,462.94 L113.9,463.18 L114.6,463.34 L115.3,463.46 L116,463.54 L116.7,463.6 L117.4,463.65 L118.1,463.69 L118.8,463.72 L119.5,463.74 L120.2,463.76 L120.9,463.78 L121.6,463.8 L122.3,463.82 L123,463.83 L123.7,463.84 L124.4,463.86 L125.1,463.87 L125.8,463.88 L126.5,463.89 L127.2,463.91 L127.9,463.92 L128.6,463.93" fill="none" stroke="#2b2b2b" stroke-width="0.85" stroke-linejoin="round" />
<path d="M18,464.3 L18.7,464.3 L19.4,464.3 L20.1,464.3 L20.8,464.3 L21.5,464.3 L22.2,464.3 L22.9,464.3 L23.6,464.3 L24.3,464.3 L25,464.3 L25.7,464.3 L26.4,464.3 L27.1,464.3 L27.8,464.3 L28.5,464.3 L29.2,463.08 L29.9,462.37 L30.6,461.87 L31.3,461.57 L32,461.29 L32.7,461.13 L33.4,461.06 L34.1,461.04 L34.8,460.83 L35.5,460.9 L36.2,460.95 L36.9,460.93 L37.6,460.79 L38.3,460.9 L39,460.91 L39.7,460.83 L40.4,460.84 L41.1,460.77 L41.8,460.83 L42.5,460.83 L43.2,460.67 L43.9,460.84 L44.6,460.95 L45.3,460.91 L46,460.87 L46.7,460.77 L47.4,460.87 L48.1,460.82 L48.8,460.78 L49.5,460.9 L50.2,460.68 L50.9,460.88 L51.6,460.66 L52.3,460.83 L53,460.79 L53.7,460.72 L54.4,460.86 L55.1,460.8 L55.8,460.83 L56.5,460.93 L57.2,460.73 L57.9,460.65 L58.6,460.74 L59.3,460.85 L60,460.71 L60.7,460.7 L61.4,460.92 L62.1,460.85 L62.8,460.78 L63.5,460.92 L64.2,460.75 L64.9,460.85 L65.6,460.71 L66.3,460.78 L67,460.89 L67.7,460.92 L68.4,460.91 L69.1,460.77 L69.8,460.82 L70.5,460.74 L71.2,460.69 L71.9,460.8 L72.6,460.9 L73.3,460.9 L74,460.86 L74.7,460.94 L75.4,460.73 L76.1,460.7 L76.8,460.79 L77.5,460.73 L78.2,460.71 L78.9,460.77 L79.6,460.84 L80.3,460.8 L81,460.74 L81.7,460.9 L82.4,460.94 L83.1,460.79 L83.8,460.67 L84.5,460.66 L85.2,460.91 L85.9,460.66 L86.6,460.86 L87.3,460.82 L88,460.74 L88.7,460.89 L89.4,460.66 L90.1,460.69 L90.8,460.79 L91.5,460.66 L92.2,460.9 L92.9,460.72 L93.6,460.69 L94.3,460.66 L95,460.84 L95.7,460.78 L96.4,460.84 L97.1,460.85 L97.8,460.89 L98.5,460.94 L99.2,460.86 L99.9,460.71 L100.6,460.79 L101.3,460.7 L102,460.65 L102.7,460.79 L103.4,460.86 L104.1,460.7 L104.8,460.73 L105.5,460.75 L106.2,460.86 L106.9,460.81 L107.6,460.83 L108.3,460.88 L109,460.77 L109.7,461.1 L110.4,461.91 L111.1,462.47 L111.8,462.86 L112.5,463.14 L113.2,463.33 L113.9,463.46 L114.6,463.56 L115.3,463.63 L116,463.68 L116.7,463.72 L117.4,463.75 L118.1,463.78 L118.8,463.8 L119.5,463.82 L120.2,463.84 L120.9,463.85 L121.6,463.86 L122.3,463.88 L123,463.89 L123.7,463.9 L124.4,463.91 L125.1,463.92 L125.8,463.93 L126.5,463.95 L127.2,463.95 L127.9,463.96 L128.6,463.97" fill="none" stroke="#2b2b2b" stroke-width="0.85" stroke-linejoin="round" />
<path d="M18,464.3 L18.7,464.3 L19.4,464.3 L20.1,464.3 L20.8,464.3 L21.5,464.3 L22.2,464.3 L22.9,464.3 L23.6,464.3 L24.3,464.3 L25,464.3 L25.7,464.3 L26.4,464.3 L27.1,464.3 L27.8,464.3 L28.5,464.3 L29.2,463.86 L29.9,463.48 L30.6,462.96 L31.3,463.04 L32,462.87 L32.7,462.62 L33.4,462.67 L34.1,462.69 L34.8,462.76 L35.5,462.59 L36.2,462.64 L36.9,462.72 L37.6,462.7 L38.3,462.74 L39,462.59 L39.7,462.65 L40.4,462.51 L41.1,462.67 L41.8,462.7 L42.5,462.64 L43.2,462.67 L43.9,462.51 L44.6,462.72 L45.3,462.74 L46,462.74 L46.7,462.61 L47.4,462.69 L48.1,462.55 L48.8,462.72 L49.5,462.71 L50.2,462.55 L50.9,462.47 L51.6,462.58 L52.3,462.62 L53,462.68 L53.7,462.6 L54.4,462.46 L55.1,462.69 L55.8,462.47 L56.5,462.69 L57.2,462.5 L57.9,462.55 L58.6,462.69 L59.3,462.49 L60,462.49 L60.7,462.6 L61.4,462.67 L62.1,462.7 L62.8,462.66 L63.5,462.73 L64.2,462.6 L64.9,462.73 L65.6,462.48 L66.3,462.52 L67,462.61 L67.7,462.54 L68.4,462.67 L69.1,462.64 L69.8,462.61 L70.5,462.7 L71.2,462.62 L71.9,462.54 L72.6,462.56 L73.3,462.7 L74,462.72 L74.7,462.51 L75.4,462.71 L76.1,462.74 L76.8,462.61 L77.5,462.62 L78.2,462.51 L78.9,462.61 L79.6,462.6 L80.3,462.63 L81,462.46 L81.7,462.74 L82.4,462.6 L83.1,462.57 L83.8,462.69 L84.5,462.62 L85.2,462.6 L85.9,462.66 L86.6,462.47 L87.3,462.61 L88,462.57 L88.7,462.74 L89.4,462.73 L90.1,462.53 L90.8,462.59 L91.5,462.49 L92.2,462.58 L92.9,462.69 L93.6,462.72 L94.3,462.59 L95,462.55 L95.7,462.51 L96.4,462.64 L97.1,462.73 L97.8,462.49 L98.5,462.68 L99.2,462.46 L99.9,462.51 L100.6,462.52 L101.3,462.66 L102,462.55 L102.7,462.56 L103.4,462.64 L104.1,462.48 L104.8,462.67 L105.5,462.49 L106.2,462.6 L106.9,462.53 L107.6,462.51 L108.3,462.61 L109,462.58 L109.7,462.72 L110.4,463.04 L111.1,463.27 L111.8,463.43 L112.5,463.55 L113.2,463.63 L113.9,463.69 L114.6,463.74 L115.3,463.78 L116,463.8 L116.7,463.83 L117.4,463.85 L118.1,463.86 L118.8,463.88 L119.5,463.89 L120.2,463.91 L120.9,463.92 L121.6,463.93 L122.3,463.94 L123,463.95 L123.7,463.96 L124.4,463.97 L125.1,463.98 L125.8,463.99 L126.5,464 L127.2,464 L127.9,464.01 L128.6,464.02" fill="none" stroke="#2b2b2b" stroke-width="0.85" stroke-linejoin="round" />
<path d="M18,464.3 L18.7,464.3 L19.4,464.3 L20.1,464.3 L20.8,464.3 L21.5,464.3 L22.2,464.3 L22.9,464.3 L23.6,464.3 L24.3,464.3 L25,464.3 L25.7,464.3 L26.4,464.3 L27.1,464.3 L27.8,464.3 L28.5,464.3 L29.2,464.26 L29.9,464.27 L30.6,464.31 L31.3,464.2 L32,464.21 L32.7,464.34 L33.4,464.34 L34.1,464.31 L34.8,464.41 L35.5,464.33 L36.2,464.41 L36.9,464.22 L37.6,464.37 L38.3,464.39 L39,464.42 L39.7,464.24 L40.4,464.24 L41.1,464.43 L41.8,464.22 L42.5,464.45 L43.2,464.42 L43.9,464.19 L44.6,464.22 L45.3,464.37 L46,464.23 L46.7,464.18 L47.4,464.4 L48.1,464.28 L48.8,464.39 L49.5,464.19 L50.2,464.27 L50.9,464.36 L51.6,464.16 L52.3,464.21 L53,464.35 L53.7,464.42 L54.4,464.44 L55.1,464.18 L55.8,464.3 L56.5,464.38 L57.2,464.3 L57.9,464.36 L58.6,464.21 L59.3,464.17 L60,464.18 L60.7,464.16 L61.4,464.32 L62.1,464.3 L62.8,464.32 L63.5,464.19 L64.2,464.21 L64.9,464.21 L65.6,464.4 L66.3,464.45 L67,464.43 L67.7,464.18 L68.4,464.17 L69.1,464.44 L69.8,464.29 L70.5,464.38 L71.2,464.25 L71.9,464.29 L72.6,464.3 L73.3,464.28 L74,464.33 L74.7,464.15 L75.4,464.36 L76.1,464.4 L76.8,464.2 L77.5,464.29 L78.2,464.37 L78.9,464.27 L79.6,464.21 L80.3,464.2 L81,464.3 L81.7,464.15 L82.4,464.42 L83.1,464.39 L83.8,464.36 L84.5,464.41 L85.2,464.34 L85.9,464.27 L86.6,464.33 L87.3,464.3 L88,464.44 L88.7,464.39 L89.4,464.23 L90.1,464.42 L90.8,464.37 L91.5,464.38 L92.2,464.39 L92.9,464.27 L93.6,464.42 L94.3,464.41 L95,464.36 L95.7,464.38 L96.4,464.38 L97.1,464.27 L97.8,464.37 L98.5,464.17 L99.2,464.25 L99.9,464.29 L100.6,464.15 L101.3,464.26 L102,464.34 L102.7,464.34 L103.4,464.22 L104.1,464.43 L104.8,464.35 L105.5,464.25 L106.2,464.35 L106.9,464.32 L107.6,464.31 L108.3,464.27 L109,464.45 L109.7,464.25 L110.4,464.11 L111.1,464.02 L111.8,463.97 L112.5,463.94 L113.2,463.92 L113.9,463.92 L114.6,463.92 L115.3,463.92 L116,463.92 L116.7,463.93 L117.4,463.94 L118.1,463.95 L118.8,463.96 L119.5,463.97 L120.2,463.97 L120.9,463.98 L121.6,463.99 L122.3,464 L123,464.01 L123.7,464.02 L124.4,464.02 L125.1,464.03 L125.8,464.04 L126.5,464.05 L127.2,464.05 L127.9,464.06 L128.6,464.07" fill="none" stroke="#2b2b2b" stroke-width="0.85" stroke-linejoin="round" />
<path d="M18,464.3 L18.7,464.3 L19.4,464.3 L20.1,464.3 L20.8,464.3 L21.5,464.3 L22.2,464.3 L22.9,464.3 L23.6,464.3 L24.3,464.3 L25,464.3 L25.7,464.3 L26.4,464.3 L27.1,464.3 L27.8,464.3 L28.5,464.3 L29.2,464.97 L29.9,465.47 L30.6,465.8 L31.3,466.06 L32,465.9 L32.7,466.16 L33.4,466.25 L34.1,466.13 L34.8,466.2 L35.5,466.1 L36.2,466.15 L36.9,466.21 L37.6,466.13 L38.3,466.18 L39,466.37 L39.7,466.26 L40.4,466.25 L41.1,466.39 L41.8,466.27 L42.5,466.39 L43.2,466.28 L43.9,466.34 L44.6,466.11 L45.3,466.27 L46,466.32 L46.7,466.1 L47.4,466.37 L48.1,466.13 L48.8,466.23 L49.5,466.13 L50.2,466.23 L50.9,466.27 L51.6,466.1 L52.3,466.36 L53,466.21 L53.7,466.24 L54.4,466.26 L55.1,466.19 L55.8,466.16 L56.5,466.27 L57.2,466.25 L57.9,466.16 L58.6,466.29 L59.3,466.17 L60,466.08 L60.7,466.15 L61.4,466.09 L62.1,466.12 L62.8,466.3 L63.5,466.19 L64.2,466.34 L64.9,466.3 L65.6,466.09 L66.3,466.37 L67,466.36 L67.7,466.1 L68.4,466.34 L69.1,466.2 L69.8,466.22 L70.5,466.36 L71.2,466.15 L71.9,466.23 L72.6,466.35 L73.3,466.29 L74,466.21 L74.7,466.37 L75.4,466.32 L76.1,466.25 L76.8,466.11 L77.5,466.26 L78.2,466.21 L78.9,466.13 L79.6,466.09 L80.3,466.23 L81,466.11 L81.7,466.2 L82.4,466.27 L83.1,466.21 L83.8,466.15 L84.5,466.25 L85.2,466.2 L85.9,466.3 L86.6,466.23 L87.3,466.37 L88,466.36 L88.7,466.29 L89.4,466.14 L90.1,466.1 L90.8,466.34 L91.5,466.31 L92.2,466.26 L92.9,466.18 L93.6,466.15 L94.3,466.28 L95,466.24 L95.7,466.25 L96.4,466.26 L97.1,466.3 L97.8,466.13 L98.5,466.14 L99.2,466.36 L99.9,466.34 L100.6,466.33 L101.3,466.08 L102,466.09 L102.7,466.15 L103.4,466.2 L104.1,466.26 L104.8,466.1 L105.5,466.23 L106.2,466.09 L106.9,466.1 L107.6,466.27 L108.3,466.24 L109,466.26 L109.7,465.98 L110.4,465.31 L111.1,464.87 L111.8,464.57 L112.5,464.37 L113.2,464.25 L113.9,464.16 L114.6,464.11 L115.3,464.07 L116,464.05 L116.7,464.04 L117.4,464.04 L118.1,464.03 L118.8,464.04 L119.5,464.04 L120.2,464.04 L120.9,464.05 L121.6,464.06 L122.3,464.06 L123,464.07 L123.7,464.07 L124.4,464.08 L125.1,464.09 L125.8,464.09 L126.5,464.1 L127.2,464.1 L127.9,464.11 L128.6,464.11" fill="none" stroke="#2b2b2b" stroke-width="0.62" stroke-linejoin="round" />
<path d="M18,464.3 L18.7,464.3 L19.4,464.3 L20.1,464.3 L20.8,464.3 L21.5,464.3 L22.2,464.3 L22.9,464.3 L23.6,464.3 L24.3,464.3 L25,464.3 L25.7,464.3 L26.4,464.3 L27.1,464.3 L27.8,464.3 L28.5,464.3 L29.2,465.45 L29.9,466.4 L30.6,466.91 L31.3,467.33 L32,467.69 L32.7,467.87 L33.4,467.74 L34.1,467.81 L34.8,468.05 L35.5,468.02 L36.2,468.08 L36.9,467.92 L37.6,467.98 L38.3,467.93 L39,468.1 L39.7,467.97 L40.4,468.05 L41.1,468.15 L41.8,467.95 L42.5,468.01 L43.2,468.07 L43.9,468.12 L44.6,467.97 L45.3,467.95 L46,467.86 L46.7,468.09 L47.4,467.85 L48.1,467.85 L48.8,468 L49.5,467.97 L50.2,468.03 L50.9,467.91 L51.6,468.05 L52.3,467.84 L53,467.88 L53.7,468.02 L54.4,467.84 L55.1,467.91 L55.8,468.03 L56.5,468.02 L57.2,467.9 L57.9,467.85 L58.6,467.92 L59.3,468.03 L60,467.92 L60.7,467.84 L61.4,468.02 L62.1,467.98 L62.8,468.08 L63.5,468.09 L64.2,468.08 L64.9,467.94 L65.6,468.05 L66.3,467.9 L67,467.9 L67.7,467.92 L68.4,468.08 L69.1,468.07 L69.8,467.88 L70.5,467.91 L71.2,467.91 L71.9,467.91 L72.6,467.92 L73.3,467.92 L74,467.86 L74.7,467.97 L75.4,468.04 L76.1,467.96 L76.8,468.05 L77.5,467.97 L78.2,467.85 L78.9,468.03 L79.6,468.06 L80.3,467.88 L81,467.81 L81.7,467.95 L82.4,467.96 L83.1,467.97 L83.8,468.09 L84.5,467.99 L85.2,468.04 L85.9,467.82 L86.6,467.96 L87.3,468.04 L88,467.82 L88.7,467.82 L89.4,468.02 L90.1,468.07 L90.8,467.82 L91.5,467.99 L92.2,467.84 L92.9,468.02 L93.6,467.99 L94.3,467.87 L95,467.86 L95.7,468.03 L96.4,467.96 L97.1,468.03 L97.8,467.92 L98.5,467.9 L99.2,468.09 L99.9,468 L100.6,467.95 L101.3,467.96 L102,468.01 L102.7,468.01 L103.4,468.07 L104.1,467.92 L104.8,468.05 L105.5,468 L106.2,468.05 L106.9,468.04 L107.6,468.05 L108.3,468.06 L109,468.09 L109.7,467.53 L110.4,466.4 L111.1,465.63 L111.8,465.12 L112.5,464.77 L113.2,464.54 L113.9,464.39 L114.6,464.28 L115.3,464.22 L116,464.17 L116.7,464.15 L117.4,464.13 L118.1,464.12 L118.8,464.12 L119.5,464.11 L120.2,464.11 L120.9,464.12 L121.6,464.12 L122.3,464.12 L123,464.13 L123.7,464.13 L124.4,464.14 L125.1,464.14 L125.8,464.14 L126.5,464.15 L127.2,464.15 L127.9,464.16 L128.6,464.16" fill="none" stroke="#2b2b2b" stroke-width="0.62" stroke-linejoin="round" />
<path d="M18,464.3 L18.7,464.3 L19.4,464.3 L20.1,464.3 L20.8,464.3 L21.5,464.3 L22.2,464.3 L22.9,464.3 L23.6,464.3 L24.3,464.3 L25,464.3 L25.7,464.3 L26.4,464.3 L27.1,464.3 L27.8,464.3 L28.5,464.3 L29.2,466.15 L29.9,467.52 L30.6,468.48 L31.3,469.08 L32,469.33 L32.7,469.57 L33.4,469.63 L34.1,469.9 L34.8,470.04 L35.5,469.88 L36.2,469.84 L36.9,469.86 L37.6,469.93 L38.3,469.9 L39,470.1 L39.7,469.82 L40.4,469.89 L41.1,469.83 L41.8,469.99 L42.5,470.02 L43.2,469.84 L43.9,469.8 L44.6,469.92 L45.3,469.95 L46,470.05 L46.7,469.78 L47.4,469.8 L48.1,469.82 L48.8,469.83 L49.5,469.83 L50.2,469.97 L50.9,469.93 L51.6,469.82 L52.3,469.81 L53,469.83 L53.7,469.8 L54.4,469.97 L55.1,469.84 L55.8,469.91 L56.5,469.99 L57.2,469.88 L57.9,469.82 L58.6,470 L59.3,470.01 L60,469.84 L60.7,469.9 L61.4,470.02 L62.1,469.88 L62.8,469.8 L63.5,469.75 L64.2,470.01 L64.9,469.97 L65.6,469.84 L66.3,469.89 L67,469.88 L67.7,469.81 L68.4,470.02 L69.1,469.92 L69.8,469.8 L70.5,469.73 L71.2,469.87 L71.9,469.84 L72.6,469.96 L73.3,469.94 L74,469.91 L74.7,469.77 L75.4,469.77 L76.1,469.82 L76.8,469.8 L77.5,469.98 L78.2,469.88 L78.9,469.91 L79.6,470.02 L80.3,469.8 L81,469.88 L81.7,469.77 L82.4,469.95 L83.1,469.72 L83.8,469.97 L84.5,469.97 L85.2,469.97 L85.9,469.74 L86.6,469.8 L87.3,469.93 L88,469.75 L88.7,469.86 L89.4,469.86 L90.1,470.01 L90.8,469.9 L91.5,469.98 L92.2,469.81 L92.9,469.96 L93.6,469.84 L94.3,469.99 L95,469.75 L95.7,469.97 L96.4,469.78 L97.1,469.88 L97.8,469.88 L98.5,469.77 L99.2,469.97 L99.9,469.81 L100.6,469.81 L101.3,469.74 L102,469.81 L102.7,469.86 L103.4,469.93 L104.1,469.83 L104.8,469.92 L105.5,469.75 L106.2,469.84 L106.9,469.86 L107.6,470.01 L108.3,469.97 L109,469.91 L109.7,469.26 L110.4,467.6 L111.1,466.48 L111.8,465.72 L112.5,465.21 L113.2,464.86 L113.9,464.63 L114.6,464.47 L115.3,464.37 L116,464.3 L116.7,464.25 L117.4,464.23 L118.1,464.21 L118.8,464.19 L119.5,464.19 L120.2,464.18 L120.9,464.18 L121.6,464.18 L122.3,464.18 L123,464.19 L123.7,464.19 L124.4,464.19 L125.1,464.19 L125.8,464.2 L126.5,464.2 L127.2,464.2 L127.9,464.2 L128.6,464.21" fill="none" stroke="#2b2b2b" stroke-width="0.62" stroke-linejoin="round" />
<path d="M18,464.3 L18.7,464.3 L19.4,464.3 L20.1,464.3 L20.8,464.3 L21.5,464.3 L22.2,464.3 L22.9,464.3 L23.6,464.3 L24.3,464.3 L25,464.3 L25.7,464.3 L26.4,464.3 L27.1,464.3 L27.8,464.3 L28.5,464.3 L29.2,466.49 L29.9,468.42 L30.6,469.68 L31.3,470.28 L32,470.86 L32.7,471.13 L33.4,471.19 L34.1,471.6 L34.8,471.62 L35.5,471.48 L36.2,471.63 L36.9,471.55 L37.6,471.58 L38.3,471.63 L39,471.55 L39.7,471.56 L40.4,471.58 L41.1,471.65 L41.8,471.52 L42.5,471.5 L43.2,471.66 L43.9,471.53 L44.6,471.71 L45.3,471.59 L46,471.64 L46.7,471.52 L47.4,471.66 L48.1,471.44 L48.8,471.45 L49.5,471.43 L50.2,471.6 L50.9,471.61 L51.6,471.45 L52.3,471.51 L53,471.64 L53.7,471.56 L54.4,471.41 L55.1,471.45 L55.8,471.43 L56.5,471.42 L57.2,471.5 L57.9,471.4 L58.6,471.65 L59.3,471.5 L60,471.53 L60.7,471.56 L61.4,471.6 L62.1,471.61 L62.8,471.48 L63.5,471.47 L64.2,471.49 L64.9,471.37 L65.6,471.48 L66.3,471.57 L67,471.66 L67.7,471.6 L68.4,471.56 L69.1,471.54 L69.8,471.37 L70.5,471.46 L71.2,471.46 L71.9,471.55 L72.6,471.39 L73.3,471.47 L74,471.51 L74.7,471.59 L75.4,471.6 L76.1,471.54 L76.8,471.4 L77.5,471.59 L78.2,471.63 L78.9,471.52 L79.6,471.46 L80.3,471.5 L81,471.4 L81.7,471.57 L82.4,471.65 L83.1,471.51 L83.8,471.57 L84.5,471.6 L85.2,471.41 L85.9,471.64 L86.6,471.54 L87.3,471.41 L88,471.38 L88.7,471.43 L89.4,471.52 L90.1,471.56 L90.8,471.45 L91.5,471.63 L92.2,471.46 L92.9,471.49 L93.6,471.39 L94.3,471.64 L95,471.39 L95.7,471.62 L96.4,471.51 L97.1,471.52 L97.8,471.52 L98.5,471.43 L99.2,471.62 L99.9,471.65 L100.6,471.6 L101.3,471.53 L102,471.39 L102.7,471.6 L103.4,471.44 L104.1,471.62 L104.8,471.42 L105.5,471.52 L106.2,471.6 L106.9,471.41 L107.6,471.51 L108.3,471.37 L109,471.36 L109.7,470.73 L110.4,468.63 L111.1,467.2 L111.8,466.24 L112.5,465.59 L113.2,465.15 L113.9,464.85 L114.6,464.65 L115.3,464.51 L116,464.42 L116.7,464.36 L117.4,464.32 L118.1,464.29 L118.8,464.27 L119.5,464.26 L120.2,464.25 L120.9,464.25 L121.6,464.25 L122.3,464.25 L123,464.25 L123.7,464.25 L124.4,464.25 L125.1,464.25 L125.8,464.25 L126.5,464.25 L127.2,464.25 L127.9,464.25 L128.6,464.25" fill="none" stroke="#2b2b2b" stroke-width="0.62" stroke-linejoin="round" />
<path d="M18,464.3 L18.7,464.3 L19.4,464.3 L20.1,464.3 L20.8,464.3 L21.5,464.3 L22.2,464.3 L22.9,464.3 L23.6,464.3 L24.3,464.3 L25,464.3 L25.7,464.3 L26.4,464.3 L27.1,464.3 L27.8,464.3 L28.5,464.3 L29.2,467.17 L29.9,469.71 L30.6,471.17 L31.3,472.03 L32,472.53 L32.7,473.02 L33.4,473.28 L34.1,473.32 L34.8,473.48 L35.5,473.6 L36.2,473.4 L36.9,473.47 L37.6,473.56 L38.3,473.46 L39,473.53 L39.7,473.58 L40.4,473.46 L41.1,473.56 L41.8,473.47 L42.5,473.56 L43.2,473.48 L43.9,473.57 L44.6,473.38 L45.3,473.57 L46,473.4 L46.7,473.64 L47.4,473.53 L48.1,473.49 L48.8,473.46 L49.5,473.52 L50.2,473.54 L50.9,473.56 L51.6,473.55 L52.3,473.47 L53,473.62 L53.7,473.57 L54.4,473.57 L55.1,473.43 L55.8,473.44 L56.5,473.48 L57.2,473.58 L57.9,473.46 L58.6,473.46 L59.3,473.43 L60,473.57 L60.7,473.39 L61.4,473.31 L62.1,473.51 L62.8,473.56 L63.5,473.51 L64.2,473.47 L64.9,473.51 L65.6,473.38 L66.3,473.46 L67,473.31 L67.7,473.32 L68.4,473.42 L69.1,473.43 L69.8,473.4 L70.5,473.3 L71.2,473.49 L71.9,473.44 L72.6,473.35 L73.3,473.37 L74,473.4 L74.7,473.35 L75.4,473.3 L76.1,473.55 L76.8,473.57 L77.5,473.48 L78.2,473.54 L78.9,473.4 L79.6,473.52 L80.3,473.34 L81,473.5 L81.7,473.44 L82.4,473.55 L83.1,473.3 L83.8,473.51 L84.5,473.31 L85.2,473.43 L85.9,473.56 L86.6,473.27 L87.3,473.35 L88,473.36 L88.7,473.37 L89.4,473.29 L90.1,473.54 L90.8,473.52 L91.5,473.39 L92.2,473.38 L92.9,473.45 L93.6,473.29 L94.3,473.28 L95,473.54 L95.7,473.36 L96.4,473.42 L97.1,473.55 L97.8,473.56 L98.5,473.41 L99.2,473.33 L99.9,473.36 L100.6,473.55 L101.3,473.54 L102,473.33 L102.7,473.52 L103.4,473.38 L104.1,473.41 L104.8,473.32 L105.5,473.53 L106.2,473.57 L106.9,473.33 L107.6,473.46 L108.3,473.33 L109,473.53 L109.7,472.46 L110.4,469.83 L111.1,468.05 L111.8,466.84 L112.5,466.02 L113.2,465.47 L113.9,465.09 L114.6,464.84 L115.3,464.66 L116,464.55 L116.7,464.47 L117.4,464.41 L118.1,464.38 L118.8,464.35 L119.5,464.34 L120.2,464.32 L120.9,464.32 L121.6,464.31 L122.3,464.31 L123,464.31 L123.7,464.3 L124.4,464.3 L125.1,464.3 L125.8,464.3 L126.5,464.3 L127.2,464.3 L127.9,464.3 L128.6,464.3" fill="none" stroke="#2b2b2b" stroke-width="0.62" stroke-linejoin="round" />
<path d="M18,464.3 L18.7,464.3 L19.4,464.3 L20.1,464.3 L20.8,464.3 L21.5,464.3 L22.2,464.3 L22.9,464.3 L23.6,464.3 L24.3,464.3 L25,464.3 L25.7,464.3 L26.4,464.3 L27.1,464.3 L27.8,464.3 L28.5,464.3 L29.2,467.66 L29.9,470.39 L30.6,472.31 L31.3,473.3 L32,474.19 L32.7,474.63 L33.4,474.87 L34.1,474.87 L34.8,475.15 L35.5,475.29 L36.2,475.18 L36.9,475.09 L37.6,475.14 L38.3,475.17 L39,475.29 L39.7,475.13 L40.4,475.12 L41.1,475.13 L41.8,475.25 L42.5,475.28 L43.2,475.15 L43.9,475.23 L44.6,475.28 L45.3,475.19 L46,475.08 L46.7,475.09 L47.4,475.27 L48.1,475.19 L48.8,475.07 L49.5,475.17 L50.2,475 L50.9,475.27 L51.6,475.1 L52.3,475.12 L53,475.12 L53.7,474.97 L54.4,475.13 L55.1,475.04 L55.8,475.02 L56.5,475.19 L57.2,474.97 L57.9,475.03 L58.6,475.17 L59.3,475.01 L60,475.02 L60.7,475.1 L61.4,474.99 L62.1,475.2 L62.8,475.22 L63.5,474.94 L64.2,475.06 L64.9,475.15 L65.6,475.04 L66.3,475.2 L67,475.07 L67.7,474.97 L68.4,475.09 L69.1,475.11 L69.8,475.02 L70.5,475.11 L71.2,475.15 L71.9,475.07 L72.6,475.07 L73.3,475.17 L74,475.12 L74.7,475.07 L75.4,475.2 L76.1,474.96 L76.8,475.14 L77.5,474.96 L78.2,475.09 L78.9,474.98 L79.6,475.04 L80.3,475.14 L81,475.14 L81.7,475.14 L82.4,474.98 L83.1,475.05 L83.8,474.97 L84.5,475.08 L85.2,475.06 L85.9,474.92 L86.6,475.08 L87.3,475.12 L88,475.08 L88.7,475.17 L89.4,474.96 L90.1,474.95 L90.8,474.91 L91.5,475.05 L92.2,475.03 L92.9,475.04 L93.6,474.98 L94.3,475.14 L95,474.93 L95.7,475.18 L96.4,475.07 L97.1,475.07 L97.8,475.14 L98.5,474.97 L99.2,474.95 L99.9,475 L100.6,474.92 L101.3,475 L102,475.09 L102.7,475.06 L103.4,474.98 L104.1,475.08 L104.8,474.93 L105.5,475.15 L106.2,474.95 L106.9,474.98 L107.6,474.95 L108.3,475.11 L109,475.15 L109.7,473.93 L110.4,470.86 L111.1,468.78 L111.8,467.36 L112.5,466.4 L113.2,465.75 L113.9,465.31 L114.6,465.01 L115.3,464.8 L116,464.67 L116.7,464.57 L117.4,464.51 L118.1,464.46 L118.8,464.43 L119.5,464.41 L120.2,464.39 L120.9,464.38 L121.6,464.37 L122.3,464.37 L123,464.36 L123.7,464.36 L124.4,464.36 L125.1,464.36 L125.8,464.35 L126.5,464.35 L127.2,464.35 L127.9,464.35 L128.6,464.35" fill="none" stroke="#2b2b2b" stroke-width="0.62" stroke-linejoin="round" />
<path d="M18,464.3 L18.7,464.3 L19.4,464.3 L20.1,464.3 L20.8,464.3 L21.5,464.3 L22.2,464.3 L22.9,464.3 L23.6,464.3 L24.3,464.3 L25,464.3 L25.7,464.3 L26.4,464.3 L27.1,464.3 L27.8,464.3 L28.5,464.3 L29.2,468.54 L29.9,471.54 L30.6,473.7 L31.3,475.01 L32,475.81 L32.7,476.57 L33.4,476.63 L34.1,476.98 L34.8,477.19 L35.5,477.34 L36.2,477.13 L36.9,477.25 L37.6,477.35 L38.3,477.14 L39,477.19 L39.7,477.38 L40.4,477.15 L41.1,477.22 L41.8,477.18 L42.5,477.21 L43.2,477.1 L43.9,477.08 L44.6,477.36 L45.3,477.28 L46,477.26 L46.7,477.1 L47.4,477.1 L48.1,477.19 L48.8,477.09 L49.5,477.15 L50.2,477.29 L50.9,477.11 L51.6,477.1 L52.3,477.29 L53,477.17 L53.7,477 L54.4,477.1 L55.1,477.17 L55.8,476.99 L56.5,477.07 L57.2,477.18 L57.9,477.22 L58.6,477.14 L59.3,477.23 L60,477.1 L60.7,477.07 L61.4,477.21 L62.1,477.06 L62.8,477.18 L63.5,477.01 L64.2,477.05 L64.9,477 L65.6,477.11 L66.3,476.99 L67,477 L67.7,477 L68.4,477.08 L69.1,477.03 L69.8,477.07 L70.5,477.23 L71.2,477.14 L71.9,477.19 L72.6,476.99 L73.3,477.05 L74,476.95 L74.7,477.14 L75.4,477.04 L76.1,477.01 L76.8,476.93 L77.5,476.98 L78.2,477.01 L78.9,477.04 L79.6,477.2 L80.3,477.14 L81,477.01 L81.7,477.03 L82.4,476.97 L83.1,477.2 L83.8,477.03 L84.5,477.15 L85.2,477.14 L85.9,477.19 L86.6,476.93 L87.3,477.02 L88,477.04 L88.7,476.95 L89.4,477.19 L90.1,477.02 L90.8,477.15 L91.5,477.08 L92.2,476.94 L92.9,477.04 L93.6,476.99 L94.3,476.93 L95,476.97 L95.7,477.1 L96.4,476.93 L97.1,477.01 L97.8,477.05 L98.5,477.08 L99.2,476.96 L99.9,477.13 L100.6,477 L101.3,477.14 L102,477.12 L102.7,476.96 L103.4,476.98 L104.1,477 L104.8,477.13 L105.5,477.04 L106.2,477.03 L106.9,477.18 L107.6,476.99 L108.3,477.01 L109,477.02 L109.7,475.75 L110.4,472.12 L111.1,469.66 L111.8,467.99 L112.5,466.86 L113.2,466.09 L113.9,465.56 L114.6,465.2 L115.3,464.96 L116,464.8 L116.7,464.68 L117.4,464.6 L118.1,464.55 L118.8,464.51 L119.5,464.48 L120.2,464.46 L120.9,464.45 L121.6,464.44 L122.3,464.43 L123,464.42 L123.7,464.42 L124.4,464.41 L125.1,464.41 L125.8,464.41 L126.5,464.4 L127.2,464.4 L127.9,464.4 L128.6,464.39" fill="none" stroke="#2b2b2b" stroke-width="0.62" stroke-linejoin="round" />
<path d="M18,464.3 L18.6,464.3 L19.2,464.3 L19.8,464.3 L20.4,464.3 L21,464.3 L21.6,464.3 L22.2,464.3 L22.8,464.3 L23.4,464.3 L24,464.3 L24.6,464.3 L25.2,464.3 L25.8,464.3 L26.4,464.3 L27,464.3 L27.6,464.3 L28.2,464.3 L28.8,466.16 L29.4,470.55 L30,473.59 L30.6,475.69 L31.2,477.13 L31.8,478.12 L32.4,478.79 L33,479.25 L33.6,479.55 L34.2,479.74 L34.8,479.87 L35.4,479.94 L36,479.98 L36.6,480 L37.2,480 L37.8,480 L38.4,479.98 L39,479.97 L39.6,479.95 L40.2,479.93 L40.8,479.91 L41.4,479.88 L42,479.87 L42.6,479.85 L43.2,479.83 L43.8,479.81 L44.4,479.8 L45,479.78 L45.6,479.77 L46.2,479.76 L46.8,479.74 L47.4,479.73 L48,479.72 L48.6,479.71 L49.2,479.7 L49.8,479.69 L50.4,479.69 L51,479.68 L51.6,479.67 L52.2,479.67 L52.8,479.66 L53.4,479.66 L54,479.65 L54.6,479.65 L55.2,479.64 L55.8,479.64 L56.4,479.63 L57,479.63 L57.6,479.63 L58.2,479.63 L58.8,479.62 L59.4,479.62 L60,479.62 L60.6,479.62 L61.2,479.61 L61.8,479.61 L62.4,479.61 L63,479.61 L63.6,479.61 L64.2,479.61 L64.8,479.6 L65.4,479.6 L66,479.6 L66.6,479.6 L67.2,479.6 L67.8,479.6 L68.4,479.6 L69,479.6 L69.6,479.6 L70.2,479.6 L70.8,479.6 L71.4,479.6 L72,479.59 L72.6,479.59 L73.2,479.59 L73.8,479.59 L74.4,479.59 L75,479.59 L75.6,479.59 L76.2,479.59 L76.8,479.59 L77.4,479.59 L78,479.59 L78.6,479.59 L79.2,479.59 L79.8,479.59 L80.4,479.59 L81,479.59 L81.6,479.59 L82.2,479.59 L82.8,479.59 L83.4,479.59 L84,479.59 L84.6,479.59 L85.2,479.59 L85.8,479.59 L86.4,479.59 L87,479.59 L87.6,479.59 L88.2,479.59 L88.8,479.59 L89.4,479.59 L90,479.59 L90.6,479.59 L91.2,479.59 L91.8,479.59 L92.4,479.59 L93,479.59 L93.6,479.59 L94.2,479.59 L94.8,479.59 L95.4,479.59 L96,479.59 L96.6,479.59 L97.2,479.59 L97.8,479.59 L98.4,479.59 L99,479.59 L99.6,479.59 L100.2,479.59 L100.8,479.59 L101.4,479.59 L102,479.59 L102.6,479.59 L103.2,479.59 L103.8,479.59 L104.4,479.59 L105,479.59 L105.6,479.59 L106.2,479.59 L106.8,479.59 L107.4,479.59 L108,479.59 L108.6,479.59 L109.2,479.59 L109.8,477.09 L110.4,473.19 L111,470.41 L111.6,468.43 L112.2,467.01 L112.8,466.01 L113.4,465.29 L114,464.79 L114.6,464.43 L115.2,464.18 L115.8,464.01 L116.4,463.89 L117,463.81 L117.6,463.75 L118.2,463.72 L118.8,463.7 L119.4,463.69 L120,463.69 L120.6,463.69 L121.2,463.7 L121.8,463.71 L122.4,463.72 L123,463.73 L123.6,463.74 L124.2,463.75 L124.8,463.76 L125.4,463.77 L126,463.78 L126.6,463.8 L127.2,463.81 L127.8,463.82 L128.4,463.83 L129,463.84" fill="none" stroke="#2b2b2b" stroke-width="0.65" stroke-linejoin="round" />
<path d="M18,464.3 L28.6,464.3 L28.9,460.3 L29.8,447 L30.1,399 L30.55,456.8 L31.1,454.8 L32.1,451.8 L33.29,446 L33.49,399 L33.94,456.8 L34.49,454.8 L35.49,451.8 L36.68,446 L36.88,399 L37.33,456.8 L37.88,454.8 L38.88,451.8 L40.07,446 L40.27,399 L40.72,456.8 L41.27,454.8 L42.27,451.8 L43.46,446 L43.66,399 L44.11,456.8 L44.66,454.8 L45.66,451.8 L46.85,446 L47.05,399 L47.5,456.8 L48.05,454.8 L49.05,451.8 L50.24,446 L50.44,399 L50.89,456.8 L51.44,454.8 L52.44,451.8 L53.63,446 L53.83,399 L54.28,456.8 L54.83,454.8 L55.83,451.8 L57.02,446 L57.22,399 L57.67,456.8 L58.22,454.8 L59.22,451.8 L60.41,446 L60.61,399 L61.06,456.8 L61.61,454.8 L62.61,451.8 L63.8,446 L64,399 L64.45,456.8 L65,454.8 L66,451.8 L67.19,446 L67.39,399 L67.84,456.8 L68.39,454.8 L69.39,451.8 L70.58,446 L70.78,399 L71.23,456.8 L71.78,454.8 L72.78,451.8 L73.97,446 L74.17,399 L74.62,456.8 L75.17,454.8 L76.17,451.8 L77.36,446 L77.56,399 L78.01,456.8 L78.56,454.8 L79.56,451.8 L80.75,446 L80.95,399 L81.4,456.8 L81.95,454.8 L82.95,451.8 L84.14,446 L84.34,399 L84.79,456.8 L85.34,454.8 L86.34,451.8 L87.53,446 L87.73,399 L88.18,456.8 L88.73,454.8 L89.73,451.8 L90.92,446 L91.12,399 L91.57,456.8 L92.12,454.8 L93.12,451.8 L94.31,446 L94.51,399 L94.96,456.8 L95.51,454.8 L96.51,451.8 L97.7,446 L97.9,399 L98.35,456.8 L98.9,454.8 L99.9,451.8 L101.09,446 L101.29,399 L101.74,456.8 L102.29,454.8 L103.29,451.8 L104.48,446 L104.68,399 L105.13,456.8 L105.68,454.8 L106.68,451.8 L107.87,446 L108.07,399 L108.52,456.8 L109.27,455.3 L109.5,455.3 L110,465.3 L111.5,464.6 L129.2,464.3" fill="none" stroke="#b4b4b4" stroke-width="0.6" stroke-linejoin="round" />
<path d="M18,464.3 L28.6,464.3 L28.9,460.3 L29,445.5 L29.3,398.4 L29.75,456.2 L30.3,454.2 L31.3,451.2 L32.49,444.5 L32.69,398.4 L33.14,456.2 L33.69,454.2 L34.69,451.2 L35.88,444.5 L36.08,398.4 L36.53,456.2 L37.08,454.2 L38.08,451.2 L39.27,444.5 L39.47,398.4 L39.92,456.2 L40.47,454.2 L41.47,451.2 L42.66,444.5 L42.86,398.4 L43.31,456.2 L43.86,454.2 L44.86,451.2 L46.05,444.5 L46.25,398.4 L46.7,456.2 L47.25,454.2 L48.25,451.2 L49.44,444.5 L49.64,398.4 L50.09,456.2 L50.64,454.2 L51.64,451.2 L52.83,444.5 L53.03,398.4 L53.48,456.2 L54.03,454.2 L55.03,451.2 L56.22,444.5 L56.42,398.4 L56.87,456.2 L57.42,454.2 L58.42,451.2 L59.61,444.5 L59.81,398.4 L60.26,456.2 L60.81,454.2 L61.81,451.2 L63,444.5 L63.2,398.4 L63.65,456.2 L64.2,454.2 L65.2,451.2 L66.39,444.5 L66.59,398.4 L67.04,456.2 L67.59,454.2 L68.59,451.2 L69.78,444.5 L69.98,398.4 L70.43,456.2 L70.98,454.2 L71.98,451.2 L73.17,444.5 L73.37,398.4 L73.82,456.2 L74.37,454.2 L75.37,451.2 L76.56,444.5 L76.76,398.4 L77.21,456.2 L77.76,454.2 L78.76,451.2 L79.95,444.5 L80.15,398.4 L80.6,456.2 L81.15,454.2 L82.15,451.2 L83.34,444.5 L83.54,398.4 L83.99,456.2 L84.54,454.2 L85.54,451.2 L86.73,444.5 L86.93,398.4 L87.38,456.2 L87.93,454.2 L88.93,451.2 L90.12,444.5 L90.32,398.4 L90.77,456.2 L91.32,454.2 L92.32,451.2 L93.51,444.5 L93.71,398.4 L94.16,456.2 L94.71,454.2 L95.71,451.2 L96.9,444.5 L97.1,398.4 L97.55,456.2 L98.1,454.2 L99.1,451.2 L100.29,444.5 L100.49,398.4 L100.94,456.2 L101.49,454.2 L102.49,451.2 L103.68,444.5 L103.88,398.4 L104.33,456.2 L104.88,454.2 L105.88,451.2 L107.07,444.5 L107.27,398.4 L107.72,456.2 L108.47,454.7 L109.5,454.7 L110,465.3 L111.5,464.6 L129.2,464.3" fill="none" stroke="#666" stroke-width="0.8" stroke-linejoin="round" />
<path d="M109.5,463.6 L129.2,463.4" fill="none" stroke="#222" stroke-width="1.0" stroke-linejoin="round" />
<path d="M18,464.3 L29,464.3" fill="none" stroke="#2b2b2b" stroke-width="1.1" stroke-linejoin="round" />
<path d="M127.1,439.2 V450.4 H137.5" fill="none" stroke="#444" stroke-width="0.7"/>
<text x="125.8" y="446.5" font-family="Liberation Serif, serif" font-size="5.5" font-weight="bold" fill="#262626" text-anchor="end" textLength="13.3" lengthAdjust="spacingAndGlyphs">20 mV</text>
<text x="132.9" y="456.5" font-family="Liberation Serif, serif" font-size="5.5" font-weight="bold" fill="#262626" text-anchor="middle" >0.1 s</text>
<path d="M141.9,422 H235.9 M204.5,386.4 V486" stroke="#858585" stroke-width="1.25" fill="none"/>
<text x="141.9" y="428.2" font-family="Liberation Serif, serif" font-size="5.4" font-weight="bold" fill="#333" text-anchor="middle" >-200</text>
<text x="157.5" y="428.2" font-family="Liberation Serif, serif" font-size="5.4" font-weight="bold" fill="#333" text-anchor="middle" >-150</text>
<text x="172.8" y="428.2" font-family="Liberation Serif, serif" font-size="5.4" font-weight="bold" fill="#333" text-anchor="middle" >-100</text>
<text x="188.9" y="428.2" font-family="Liberation Serif, serif" font-size="5.4" font-weight="bold" fill="#333" text-anchor="middle" >-50</text>
<text x="219.9" y="428.2" font-family="Liberation Serif, serif" font-size="5.4" font-weight="bold" fill="#333" text-anchor="middle" >50</text>
<text x="235.5" y="428.2" font-family="Liberation Serif, serif" font-size="5.4" font-weight="bold" fill="#333" text-anchor="middle" >100</text>
<text x="203" y="394.4" font-family="Liberation Serif, serif" font-size="5.4" font-weight="bold" fill="#333" text-anchor="end" >20</text>
<text x="203" y="408.9" font-family="Liberation Serif, serif" font-size="5.4" font-weight="bold" fill="#333" text-anchor="end" >10</text>
<text x="203" y="437.3" font-family="Liberation Serif, serif" font-size="5.4" font-weight="bold" fill="#333" text-anchor="end" >-10</text>
<text x="203" y="451.8" font-family="Liberation Serif, serif" font-size="5.4" font-weight="bold" fill="#333" text-anchor="end" >-20</text>
<text x="203" y="466.2" font-family="Liberation Serif, serif" font-size="5.4" font-weight="bold" fill="#333" text-anchor="end" >-30</text>
<text x="203" y="480" font-family="Liberation Serif, serif" font-size="5.4" font-weight="bold" fill="#333" text-anchor="end" >-40</text>
<path d="M141.9,421 V423 M157.5,421 V423 M172.8,421 V423 M188.9,421 V423 M219.9,421 V423 M235.5,421 V423 M203.5,392.6 H205.5 M203.5,407.1 H205.5 M203.5,435.5 H205.5 M203.5,450 H205.5 M203.5,464.4 H205.5 M203.5,478.2 H205.5" stroke="#444" stroke-width="0.9" fill="none"/>
<text x="154.5" y="408" font-family="Liberation Serif, serif" font-size="5.9" font-weight="bold" fill="#2a2a2a">R<tspan font-size="3.66" font-style="italic" dy="1.3">M</tspan><tspan dy="-1.3"> = 240 M&#937;</tspan></text>
<text x="166" y="419.3" font-family="Liberation Serif, serif" font-size="5.9" font-weight="bold" fill="#2a2a2a" text-anchor="start" >I (pA)</text>
<text x="207.9" y="447.4" font-family="Liberation Serif, serif" font-size="5.9" font-weight="bold" fill="#2a2a2a" text-anchor="start" >V (mV)</text>
<path d="M188.9,439.2 L196,431.5 L204.5,421.8" fill="none" stroke="#1e1e1e" stroke-width="1.9" stroke-linejoin="round" stroke-linecap="round"/>
<g fill="#b0b0b0" stroke="#505050" stroke-width="0.6"><circle cx="143" cy="476.8" r="1.3"/><circle cx="146.28" cy="474.66" r="1.3"/><circle cx="149.56" cy="472.44" r="1.3"/><circle cx="152.84" cy="470.14" r="1.3"/><circle cx="156.11" cy="467.75" r="1.3"/><circle cx="159.39" cy="465.27" r="1.3"/><circle cx="162.67" cy="462.71" r="1.3"/><circle cx="165.95" cy="460.07" r="1.3"/><circle cx="169.23" cy="457.34" r="1.3"/><circle cx="172.51" cy="454.53" r="1.3"/><circle cx="175.79" cy="451.63" r="1.3"/><circle cx="179.06" cy="448.65" r="1.3"/><circle cx="182.34" cy="445.58" r="1.3"/><circle cx="185.62" cy="442.43" r="1.3"/><circle cx="188.9" cy="439.2" r="1.3"/><circle cx="220" cy="404.6" r="1.3"/><circle cx="222.65" cy="401.72" r="1.3"/><circle cx="225.3" cy="398.83" r="1.3"/><circle cx="227.95" cy="395.95" r="1.3"/><circle cx="230.6" cy="393.07" r="1.3"/><circle cx="233.25" cy="390.18" r="1.3"/><circle cx="235.9" cy="387.3" r="1.3"/></g>
<path d="M204.5,421.8 L211,414.5 L218.3,406.3" fill="none" stroke="#2a2a2a" stroke-width="1.5" stroke-linejoin="round" stroke-linecap="round"/>
<text x="304.3" y="394.1" font-family="Liberation Serif, serif" font-size="12.4" font-weight="normal" fill="#1e1e1e" text-anchor="start" textLength="32.3" lengthAdjust="spacingAndGlyphs" stroke="#1e1e1e" stroke-width="0.2">SS cell</text>
<path d="M265.5,460 L266.5,460 L267.5,460 L268.5,460 L269.5,460 L270.5,460 L271.5,460 L272.5,460 L273.5,460 L274.5,460 L275.5,460 L276.5,457.37 L277.5,449.49 L278.5,446.1 L279.5,444.89 L280.5,444.22 L281.5,444.05 L282.5,444 L283.5,443.65 L284.5,443.79 L285.5,443.89 L286.5,443.58 L287.5,443.78 L288.5,443.77 L289.5,443.9 L290.5,443.86 L291.5,443.58 L292.5,443.76 L293.5,443.52 L294.5,443.67 L295.5,443.65 L296.5,443.51 L297.5,443.65 L298.5,443.62 L299.5,443.7 L300.5,443.6 L301.5,443.55 L302.5,443.66 L303.5,443.69 L304.5,443.55 L305.5,443.77 L306.5,443.59 L307.5,443.52 L308.5,443.63 L309.5,443.67 L310.5,443.55 L311.5,443.74 L312.5,443.79 L313.5,443.72 L314.5,443.79 L315.5,443.49 L316.5,443.65 L317.5,443.64 L318.5,443.51 L319.5,443.66 L320.5,443.5 L321.5,443.7 L322.5,443.74 L323.5,443.69 L324.5,443.62 L325.5,443.59 L326.5,443.49 L327.5,443.63 L328.5,443.87 L329.5,443.73 L330.5,443.6 L331.5,443.77 L332.5,443.56 L333.5,443.69 L334.5,443.75 L335.5,443.9 L336.5,443.64 L337.5,443.73 L338.5,443.89 L339.5,443.82 L340.5,443.76 L341.5,443.75 L342.5,443.66 L343.5,443.66 L344.5,443.6 L345.5,443.85 L346.5,443.87 L347.5,443.65 L348.5,443.88 L349.5,443.5 L350.5,443.54 L351.5,443.7 L352.5,443.62 L353.5,443.64 L354.5,443.91 L355.5,443.55 L356.5,443.56 L357.5,443.58 L358.5,443.78 L359.5,443.58 L360.5,443.48 L361.5,443.72 L362.5,443.65 L363.5,443.59 L364.5,443.7 L365.5,443.77 L366.5,443.72 L367.5,443.7 L368.5,456.09 L369.5,459.06 L370.5,459.78 L371.5,459.95 L372.5,459.99 L373.5,460 L374.5,460 L375.5,460" fill="none" stroke="#222" stroke-width="0.68" stroke-linejoin="round" />
<path d="M265.5,460 L266.5,460 L267.5,460 L268.5,460 L269.5,460 L270.5,460 L271.5,460 L272.5,460 L273.5,460 L274.5,460 L275.5,460 L276.5,457.94 L277.5,451.3 L278.5,448.55 L279.5,447.37 L280.5,446.54 L281.5,446.31 L282.5,446.45 L283.5,446.15 L284.5,446.31 L285.5,446.29 L286.5,446.28 L287.5,446.41 L288.5,446.34 L289.5,446.05 L290.5,446.25 L291.5,446.2 L292.5,446.23 L293.5,446.14 L294.5,446.11 L295.5,446.31 L296.5,446.21 L297.5,446.08 L298.5,446.09 L299.5,446.12 L300.5,446.06 L301.5,446.21 L302.5,446.04 L303.5,446.01 L304.5,446.01 L305.5,446.02 L306.5,446.29 L307.5,446.03 L308.5,446.18 L309.5,446.32 L310.5,446.19 L311.5,446.05 L312.5,446.36 L313.5,446.36 L314.5,446 L315.5,446.09 L316.5,446.2 L317.5,446.33 L318.5,446.15 L319.5,446.3 L320.5,446.09 L321.5,446.29 L322.5,446.12 L323.5,446.13 L324.5,446.31 L325.5,446.35 L326.5,446.34 L327.5,446.23 L328.5,446.17 L329.5,446.29 L330.5,446.25 L331.5,446.35 L332.5,446.33 L333.5,446.04 L334.5,446.15 L335.5,446.27 L336.5,446.08 L337.5,446.06 L338.5,445.99 L339.5,446.24 L340.5,446.39 L341.5,446.41 L342.5,446.04 L343.5,446.28 L344.5,446.16 L345.5,446.26 L346.5,446.15 L347.5,446.39 L348.5,446.42 L349.5,446 L350.5,446.29 L351.5,446.03 L352.5,446 L353.5,446.11 L354.5,446.3 L355.5,446.42 L356.5,446.03 L357.5,446.13 L358.5,445.99 L359.5,446.22 L360.5,446.19 L361.5,446.14 L362.5,446.12 L363.5,446.33 L364.5,446.35 L365.5,446.1 L366.5,446.15 L367.5,446.2 L368.5,456.69 L369.5,459.21 L370.5,459.81 L371.5,459.95 L372.5,459.99 L373.5,460 L374.5,460 L375.5,460" fill="none" stroke="#222" stroke-width="0.68" stroke-linejoin="round" />
<path d="M265.5,460 L266.5,460 L267.5,460 L268.5,460 L269.5,460 L270.5,460 L271.5,460 L272.5,460 L273.5,460 L274.5,460 L275.5,460 L276.5,458.3 L277.5,452.91 L278.5,450.63 L279.5,449.34 L280.5,449.03 L281.5,448.77 L282.5,448.8 L283.5,448.47 L284.5,448.47 L285.5,448.43 L286.5,448.79 L287.5,448.49 L288.5,448.6 L289.5,448.43 L290.5,448.52 L291.5,448.39 L292.5,448.63 L293.5,448.44 L294.5,448.66 L295.5,448.5 L296.5,448.48 L297.5,448.59 L298.5,448.54 L299.5,448.49 L300.5,448.4 L301.5,448.41 L302.5,448.77 L303.5,448.52 L304.5,448.41 L305.5,448.46 L306.5,448.59 L307.5,448.82 L308.5,448.47 L309.5,448.76 L310.5,448.59 L311.5,448.56 L312.5,448.74 L313.5,448.55 L314.5,448.41 L315.5,448.62 L316.5,448.67 L317.5,448.65 L318.5,448.5 L319.5,448.79 L320.5,448.76 L321.5,448.82 L322.5,448.58 L323.5,448.75 L324.5,448.7 L325.5,448.46 L326.5,448.39 L327.5,448.45 L328.5,448.43 L329.5,448.41 L330.5,448.54 L331.5,448.71 L332.5,448.52 L333.5,448.61 L334.5,448.38 L335.5,448.47 L336.5,448.8 L337.5,448.38 L338.5,448.61 L339.5,448.74 L340.5,448.73 L341.5,448.7 L342.5,448.56 L343.5,448.73 L344.5,448.74 L345.5,448.72 L346.5,448.81 L347.5,448.42 L348.5,448.8 L349.5,448.56 L350.5,448.69 L351.5,448.49 L352.5,448.78 L353.5,448.39 L354.5,448.63 L355.5,448.48 L356.5,448.55 L357.5,448.54 L358.5,448.67 L359.5,448.74 L360.5,448.54 L361.5,448.66 L362.5,448.54 L363.5,448.5 L364.5,448.78 L365.5,448.52 L366.5,448.42 L367.5,448.6 L368.5,457.27 L369.5,459.35 L370.5,459.84 L371.5,459.96 L372.5,459.99 L373.5,460 L374.5,460 L375.5,460" fill="none" stroke="#222" stroke-width="0.68" stroke-linejoin="round" />
<path d="M265.5,460 L266.5,460 L267.5,460 L268.5,460 L269.5,460 L270.5,460 L271.5,460 L272.5,460 L273.5,460 L274.5,460 L275.5,460 L276.5,458.55 L277.5,454.42 L278.5,452.31 L279.5,451.73 L280.5,451.29 L281.5,451.2 L282.5,450.91 L283.5,450.85 L284.5,450.85 L285.5,450.94 L286.5,450.97 L287.5,450.78 L288.5,451 L289.5,450.96 L290.5,450.92 L291.5,451.02 L292.5,451.2 L293.5,450.87 L294.5,451.17 L295.5,450.92 L296.5,451.11 L297.5,450.83 L298.5,451.21 L299.5,450.97 L300.5,451.2 L301.5,450.88 L302.5,450.96 L303.5,451.09 L304.5,450.86 L305.5,450.9 L306.5,451.08 L307.5,451.2 L308.5,450.92 L309.5,450.86 L310.5,450.94 L311.5,451.22 L312.5,450.85 L313.5,451.06 L314.5,450.95 L315.5,451.06 L316.5,450.87 L317.5,451.05 L318.5,451.17 L319.5,451.16 L320.5,451.06 L321.5,451 L322.5,451.03 L323.5,450.83 L324.5,451.15 L325.5,451.08 L326.5,450.98 L327.5,451.07 L328.5,450.96 L329.5,450.95 L330.5,450.88 L331.5,451.04 L332.5,451.03 L333.5,451.01 L334.5,450.79 L335.5,451.06 L336.5,450.98 L337.5,451.04 L338.5,451.04 L339.5,451.19 L340.5,450.85 L341.5,450.99 L342.5,451.22 L343.5,451.1 L344.5,450.92 L345.5,451.1 L346.5,451.22 L347.5,450.96 L348.5,451.16 L349.5,450.84 L350.5,451.22 L351.5,451 L352.5,450.88 L353.5,451.15 L354.5,451.07 L355.5,451.19 L356.5,451.14 L357.5,451.13 L358.5,451.01 L359.5,451.22 L360.5,450.81 L361.5,451.16 L362.5,451.09 L363.5,450.89 L364.5,451.14 L365.5,450.98 L366.5,451.02 L367.5,451 L368.5,457.84 L369.5,459.48 L370.5,459.88 L371.5,459.97 L372.5,459.99 L373.5,460 L374.5,460 L375.5,460" fill="none" stroke="#222" stroke-width="0.68" stroke-linejoin="round" />
<path d="M265.5,460 L266.5,460 L267.5,460 L268.5,460 L269.5,460 L270.5,460 L271.5,460 L272.5,460 L273.5,460 L274.5,460 L275.5,460 L276.5,459.15 L277.5,455.69 L278.5,454.36 L279.5,453.92 L280.5,453.41 L281.5,453.51 L282.5,453.56 L283.5,453.41 L284.5,453.29 L285.5,453.54 L286.5,453.56 L287.5,453.52 L288.5,453.42 L289.5,453.58 L290.5,453.53 L291.5,453.25 L292.5,453.34 L293.5,453.22 L294.5,453.2 L295.5,453.33 L296.5,453.56 L297.5,453.55 L298.5,453.23 L299.5,453.26 L300.5,453.35 L301.5,453.55 L302.5,453.45 L303.5,453.58 L304.5,453.21 L305.5,453.61 L306.5,453.27 L307.5,453.46 L308.5,453.57 L309.5,453.5 L310.5,453.27 L311.5,453.47 L312.5,453.37 L313.5,453.19 L314.5,453.33 L315.5,453.32 L316.5,453.46 L317.5,453.3 L318.5,453.45 L319.5,453.49 L320.5,453.26 L321.5,453.24 L322.5,453.49 L323.5,453.39 L324.5,453.24 L325.5,453.23 L326.5,453.59 L327.5,453.45 L328.5,453.34 L329.5,453.27 L330.5,453.62 L331.5,453.48 L332.5,453.5 L333.5,453.34 L334.5,453.32 L335.5,453.36 L336.5,453.24 L337.5,453.46 L338.5,453.37 L339.5,453.54 L340.5,453.36 L341.5,453.38 L342.5,453.4 L343.5,453.59 L344.5,453.33 L345.5,453.49 L346.5,453.28 L347.5,453.43 L348.5,453.31 L349.5,453.56 L350.5,453.31 L351.5,453.56 L352.5,453.48 L353.5,453.38 L354.5,453.59 L355.5,453.35 L356.5,453.51 L357.5,453.44 L358.5,453.38 L359.5,453.21 L360.5,453.36 L361.5,453.3 L362.5,453.37 L363.5,453.6 L364.5,453.31 L365.5,453.49 L366.5,453.48 L367.5,453.4 L368.5,458.42 L369.5,459.62 L370.5,459.91 L371.5,459.98 L372.5,459.99 L373.5,460 L374.5,460 L375.5,460" fill="none" stroke="#222" stroke-width="0.68" stroke-linejoin="round" />
<path d="M265.5,460 L266.5,460 L267.5,460 L268.5,460 L269.5,460 L270.5,460 L271.5,460 L272.5,460 L273.5,460 L274.5,460 L275.5,460 L276.5,459.23 L277.5,457.24 L278.5,456.23 L279.5,456.17 L280.5,455.72 L281.5,455.72 L282.5,455.65 L283.5,455.85 L284.5,455.86 L285.5,455.74 L286.5,455.72 L287.5,455.52 L288.5,455.87 L289.5,455.52 L290.5,455.64 L291.5,455.64 L292.5,455.8 L293.5,455.77 L294.5,455.63 L295.5,455.88 L296.5,455.9 L297.5,455.49 L298.5,455.76 L299.5,455.69 L300.5,455.64 L301.5,455.68 L302.5,455.62 L303.5,455.78 L304.5,455.75 L305.5,455.91 L306.5,455.91 L307.5,455.92 L308.5,455.65 L309.5,455.84 L310.5,455.77 L311.5,455.79 L312.5,455.92 L313.5,455.51 L314.5,455.68 L315.5,455.66 L316.5,455.77 L317.5,455.58 L318.5,455.92 L319.5,455.57 L320.5,455.64 L321.5,455.54 L322.5,455.65 L323.5,455.81 L324.5,455.52 L325.5,455.55 L326.5,455.77 L327.5,455.75 L328.5,455.81 L329.5,455.59 L330.5,455.84 L331.5,455.8 L332.5,455.82 L333.5,455.53 L334.5,455.69 L335.5,455.49 L336.5,455.86 L337.5,455.9 L338.5,455.87 L339.5,455.49 L340.5,455.63 L341.5,455.72 L342.5,455.71 L343.5,455.53 L344.5,455.83 L345.5,455.61 L346.5,455.7 L347.5,455.53 L348.5,455.73 L349.5,455.54 L350.5,455.52 L351.5,455.71 L352.5,455.61 L353.5,455.82 L354.5,455.59 L355.5,455.66 L356.5,455.5 L357.5,455.58 L358.5,455.68 L359.5,455.73 L360.5,455.68 L361.5,455.85 L362.5,455.53 L363.5,455.85 L364.5,455.55 L365.5,455.91 L366.5,455.71 L367.5,455.7 L368.5,458.97 L369.5,459.75 L370.5,459.94 L371.5,459.99 L372.5,460 L373.5,460 L374.5,460 L375.5,460" fill="none" stroke="#222" stroke-width="0.68" stroke-linejoin="round" />
<path d="M265.5,460 L266.5,460 L267.5,460 L268.5,460 L269.5,460 L270.5,460 L271.5,460 L272.5,460 L273.5,460 L274.5,460 L275.5,460 L276.5,459.65 L277.5,458.79 L278.5,458.48 L279.5,458.34 L280.5,458.02 L281.5,457.81 L282.5,457.86 L283.5,458.15 L284.5,458.11 L285.5,458.09 L286.5,457.85 L287.5,458.01 L288.5,457.79 L289.5,457.83 L290.5,457.91 L291.5,458.21 L292.5,458.06 L293.5,458.15 L294.5,457.8 L295.5,457.96 L296.5,457.81 L297.5,457.89 L298.5,457.83 L299.5,458.18 L300.5,457.92 L301.5,458 L302.5,458.07 L303.5,458.17 L304.5,458.2 L305.5,458.03 L306.5,458 L307.5,458.18 L308.5,457.95 L309.5,457.91 L310.5,458.11 L311.5,457.89 L312.5,457.94 L313.5,457.97 L314.5,457.99 L315.5,457.94 L316.5,457.97 L317.5,457.98 L318.5,457.8 L319.5,458.15 L320.5,457.81 L321.5,458.01 L322.5,458.02 L323.5,457.96 L324.5,457.88 L325.5,457.82 L326.5,457.94 L327.5,457.92 L328.5,457.99 L329.5,457.88 L330.5,458.11 L331.5,457.99 L332.5,457.78 L333.5,457.96 L334.5,458.21 L335.5,457.78 L336.5,458.04 L337.5,458.2 L338.5,457.94 L339.5,458.04 L340.5,457.94 L341.5,457.91 L342.5,458.05 L343.5,458.04 L344.5,457.92 L345.5,458 L346.5,458.01 L347.5,458.11 L348.5,457.8 L349.5,457.82 L350.5,457.89 L351.5,457.9 L352.5,458.13 L353.5,457.97 L354.5,458.16 L355.5,457.96 L356.5,457.91 L357.5,458.08 L358.5,457.82 L359.5,458.21 L360.5,458.15 L361.5,457.92 L362.5,457.92 L363.5,458.14 L364.5,458.13 L365.5,458.06 L366.5,457.8 L367.5,458 L368.5,459.52 L369.5,459.89 L370.5,459.97 L371.5,459.99 L372.5,460 L373.5,460 L374.5,460 L375.5,460" fill="none" stroke="#222" stroke-width="0.68" stroke-linejoin="round" />
<path d="M265.5,460 L266.5,460 L267.5,460 L268.5,460 L269.5,460 L270.5,460 L271.5,460 L272.5,460 L273.5,460 L274.5,460 L275.5,460 L276.5,460.16 L277.5,459.99 L278.5,460.31 L279.5,460.3 L280.5,460.48 L281.5,460.35 L282.5,460.08 L283.5,460.49 L284.5,460.41 L285.5,460.33 L286.5,460.08 L287.5,460.4 L288.5,460.26 L289.5,460.37 L290.5,460.51 L291.5,460.48 L292.5,460.11 L293.5,460.42 L294.5,460.27 L295.5,460.4 L296.5,460.24 L297.5,460.27 L298.5,460.26 L299.5,460.12 L300.5,460.21 L301.5,460.4 L302.5,460.1 L303.5,460.12 L304.5,460.44 L305.5,460.36 L306.5,460.31 L307.5,460.12 L308.5,460.12 L309.5,460.21 L310.5,460.49 L311.5,460.32 L312.5,460.48 L313.5,460.16 L314.5,460.25 L315.5,460.31 L316.5,460.44 L317.5,460.13 L318.5,460.46 L319.5,460.28 L320.5,460.09 L321.5,460.26 L322.5,460.24 L323.5,460.37 L324.5,460.48 L325.5,460.29 L326.5,460.37 L327.5,460.24 L328.5,460.41 L329.5,460.12 L330.5,460.4 L331.5,460.14 L332.5,460.33 L333.5,460.16 L334.5,460.22 L335.5,460.14 L336.5,460.22 L337.5,460.33 L338.5,460.3 L339.5,460.24 L340.5,460.32 L341.5,460.44 L342.5,460.23 L343.5,460.33 L344.5,460.28 L345.5,460.5 L346.5,460.22 L347.5,460.38 L348.5,460.17 L349.5,460.19 L350.5,460.39 L351.5,460.32 L352.5,460.18 L353.5,460.1 L354.5,460.43 L355.5,460.24 L356.5,460.39 L357.5,460.26 L358.5,460.34 L359.5,460.32 L360.5,460.5 L361.5,460.47 L362.5,460.27 L363.5,460.29 L364.5,460.17 L365.5,460.4 L366.5,460.12 L367.5,460.29 L368.5,460.07 L369.5,460.02 L370.5,460 L371.5,460 L372.5,460 L373.5,460 L374.5,460 L375.5,460" fill="none" stroke="#222" stroke-width="0.68" stroke-linejoin="round" />
<path d="M265.5,460 L266.5,460 L267.5,460 L268.5,460 L269.5,460 L270.5,460 L271.5,460 L272.5,460 L273.5,460 L274.5,460 L275.5,460 L276.5,460.31 L277.5,461.79 L278.5,461.97 L279.5,462.49 L280.5,462.53 L281.5,462.56 L282.5,462.48 L283.5,462.41 L284.5,462.76 L285.5,462.67 L286.5,462.69 L287.5,462.38 L288.5,462.68 L289.5,462.42 L290.5,462.41 L291.5,462.56 L292.5,462.59 L293.5,462.37 L294.5,462.66 L295.5,462.57 L296.5,462.71 L297.5,462.72 L298.5,462.62 L299.5,462.47 L300.5,462.73 L301.5,462.63 L302.5,462.44 L303.5,462.69 L304.5,462.63 L305.5,462.43 L306.5,462.42 L307.5,462.32 L308.5,462.54 L309.5,462.42 L310.5,462.44 L311.5,462.42 L312.5,462.36 L313.5,462.52 L314.5,462.43 L315.5,462.43 L316.5,462.43 L317.5,462.53 L318.5,462.69 L319.5,462.37 L320.5,462.68 L321.5,462.68 L322.5,462.57 L323.5,462.54 L324.5,462.63 L325.5,462.54 L326.5,462.59 L327.5,462.71 L328.5,462.64 L329.5,462.42 L330.5,462.33 L331.5,462.71 L332.5,462.46 L333.5,462.65 L334.5,462.41 L335.5,462.5 L336.5,462.47 L337.5,462.62 L338.5,462.72 L339.5,462.52 L340.5,462.55 L341.5,462.46 L342.5,462.4 L343.5,462.72 L344.5,462.35 L345.5,462.72 L346.5,462.59 L347.5,462.33 L348.5,462.7 L349.5,462.35 L350.5,462.55 L351.5,462.35 L352.5,462.74 L353.5,462.44 L354.5,462.69 L355.5,462.33 L356.5,462.6 L357.5,462.33 L358.5,462.32 L359.5,462.55 L360.5,462.73 L361.5,462.6 L362.5,462.68 L363.5,462.65 L364.5,462.53 L365.5,462.34 L366.5,462.53 L367.5,462.52 L368.5,460.6 L369.5,460.14 L370.5,460.03 L371.5,460.01 L372.5,460 L373.5,460 L374.5,460 L375.5,460" fill="none" stroke="#222" stroke-width="0.68" stroke-linejoin="round" />
<path d="M265.5,460 L266.5,460 L267.5,460 L268.5,460 L269.5,460 L270.5,460 L271.5,460 L272.5,460 L273.5,460 L274.5,460 L275.5,460 L276.5,460.63 L277.5,463.16 L278.5,464.12 L279.5,464.62 L280.5,464.67 L281.5,464.97 L282.5,464.87 L283.5,464.91 L284.5,464.74 L285.5,464.91 L286.5,464.94 L287.5,465.12 L288.5,464.93 L289.5,464.74 L290.5,464.81 L291.5,464.82 L292.5,464.98 L293.5,465.08 L294.5,465.09 L295.5,465.08 L296.5,465.07 L297.5,465.03 L298.5,465.06 L299.5,464.66 L300.5,464.87 L301.5,464.91 L302.5,464.95 L303.5,464.92 L304.5,464.91 L305.5,465.05 L306.5,464.68 L307.5,464.87 L308.5,465.06 L309.5,464.65 L310.5,464.69 L311.5,465.02 L312.5,465.06 L313.5,464.65 L314.5,464.65 L315.5,465 L316.5,464.94 L317.5,464.86 L318.5,464.89 L319.5,464.97 L320.5,464.99 L321.5,464.63 L322.5,464.66 L323.5,464.98 L324.5,465.06 L325.5,465 L326.5,464.81 L327.5,464.78 L328.5,464.78 L329.5,464.64 L330.5,464.97 L331.5,464.75 L332.5,464.89 L333.5,464.86 L334.5,464.78 L335.5,464.93 L336.5,464.83 L337.5,464.73 L338.5,465.02 L339.5,464.71 L340.5,464.7 L341.5,464.74 L342.5,464.84 L343.5,464.98 L344.5,464.78 L345.5,464.74 L346.5,464.92 L347.5,464.74 L348.5,464.86 L349.5,464.74 L350.5,465.02 L351.5,464.71 L352.5,464.73 L353.5,464.76 L354.5,464.78 L355.5,464.95 L356.5,464.93 L357.5,464.98 L358.5,464.87 L359.5,464.66 L360.5,464.97 L361.5,464.74 L362.5,464.73 L363.5,464.81 L364.5,465.07 L365.5,464.79 L366.5,464.79 L367.5,464.85 L368.5,461.16 L369.5,460.28 L370.5,460.07 L371.5,460.02 L372.5,460 L373.5,460 L374.5,460 L375.5,460" fill="none" stroke="#222" stroke-width="0.68" stroke-linejoin="round" />
<path d="M265.5,460 L266.5,460 L267.5,460 L268.5,460 L269.5,460 L270.5,460 L271.5,460 L272.5,460 L273.5,460 L274.5,460 L275.5,460 L276.5,461.32 L277.5,464.88 L278.5,466.14 L279.5,466.68 L280.5,467.24 L281.5,467.35 L282.5,467.2 L283.5,467.41 L284.5,467.23 L285.5,467.18 L286.5,467.31 L287.5,467.37 L288.5,467.25 L289.5,467.39 L290.5,467.03 L291.5,467.24 L292.5,467.18 L293.5,467.04 L294.5,467.41 L295.5,467.07 L296.5,467.09 L297.5,467.38 L298.5,467.42 L299.5,467.4 L300.5,467.14 L301.5,467.39 L302.5,467.05 L303.5,467.3 L304.5,467.4 L305.5,467.06 L306.5,467.04 L307.5,467.27 L308.5,467.36 L309.5,467.29 L310.5,467.39 L311.5,467.17 L312.5,467.13 L313.5,467.02 L314.5,467.09 L315.5,467.38 L316.5,467 L317.5,467.05 L318.5,467.12 L319.5,466.99 L320.5,467.1 L321.5,467.04 L322.5,467.02 L323.5,467.19 L324.5,467.2 L325.5,467.21 L326.5,467.3 L327.5,467.19 L328.5,467.38 L329.5,467 L330.5,467.06 L331.5,466.99 L332.5,467.1 L333.5,467.29 L334.5,467.37 L335.5,467.18 L336.5,467.03 L337.5,467.1 L338.5,467.21 L339.5,467.09 L340.5,467.31 L341.5,467.39 L342.5,467.16 L343.5,467.22 L344.5,467.33 L345.5,467.16 L346.5,467.04 L347.5,467.37 L348.5,467.39 L349.5,466.97 L350.5,467.29 L351.5,467.13 L352.5,466.98 L353.5,467.03 L354.5,467.03 L355.5,467.28 L356.5,467.05 L357.5,466.97 L358.5,467.05 L359.5,467.31 L360.5,467.18 L361.5,467.25 L362.5,467.16 L363.5,467.04 L364.5,466.96 L365.5,467.09 L366.5,466.98 L367.5,467.18 L368.5,461.72 L369.5,460.41 L370.5,460.1 L371.5,460.02 L372.5,460.01 L373.5,460 L374.5,460 L375.5,460" fill="none" stroke="#222" stroke-width="0.68" stroke-linejoin="round" />
<path d="M265.5,460 L266.5,460 L267.5,460 L268.5,460 L269.5,460 L270.5,460 L271.5,460 L272.5,460 L273.5,460 L274.5,460 L275.5,460 L276.5,461.4 L277.5,466.23 L278.5,468.13 L279.5,469.04 L280.5,469.47 L281.5,469.49 L282.5,469.56 L283.5,469.81 L284.5,469.68 L285.5,469.6 L286.5,469.65 L287.5,469.6 L288.5,469.54 L289.5,469.79 L290.5,469.48 L291.5,469.78 L292.5,469.74 L293.5,469.74 L294.5,469.42 L295.5,469.57 L296.5,469.77 L297.5,469.46 L298.5,469.41 L299.5,469.65 L300.5,469.43 L301.5,469.58 L302.5,469.39 L303.5,469.73 L304.5,469.44 L305.5,469.35 L306.5,469.61 L307.5,469.46 L308.5,469.55 L309.5,469.52 L310.5,469.71 L311.5,469.53 L312.5,469.47 L313.5,469.3 L314.5,469.52 L315.5,469.42 L316.5,469.55 L317.5,469.57 L318.5,469.5 L319.5,469.33 L320.5,469.51 L321.5,469.5 L322.5,469.57 L323.5,469.72 L324.5,469.41 L325.5,469.49 L326.5,469.33 L327.5,469.64 L328.5,469.39 L329.5,469.65 L330.5,469.64 L331.5,469.4 L332.5,469.69 L333.5,469.51 L334.5,469.48 L335.5,469.53 L336.5,469.7 L337.5,469.5 L338.5,469.5 L339.5,469.42 L340.5,469.66 L341.5,469.51 L342.5,469.44 L343.5,469.37 L344.5,469.38 L345.5,469.65 L346.5,469.64 L347.5,469.72 L348.5,469.69 L349.5,469.59 L350.5,469.64 L351.5,469.6 L352.5,469.64 L353.5,469.64 L354.5,469.36 L355.5,469.64 L356.5,469.42 L357.5,469.39 L358.5,469.69 L359.5,469.3 L360.5,469.51 L361.5,469.44 L362.5,469.63 L363.5,469.55 L364.5,469.69 L365.5,469.7 L366.5,469.57 L367.5,469.51 L368.5,462.28 L369.5,460.55 L370.5,460.13 L371.5,460.03 L372.5,460.01 L373.5,460 L374.5,460 L375.5,460" fill="none" stroke="#222" stroke-width="0.68" stroke-linejoin="round" />
<path d="M265.5,460 L266.5,460 L267.5,460 L268.5,460 L269.5,460 L270.5,460 L271.5,460 L272.5,460 L273.5,460 L274.5,460 L275.5,460 L276.5,461.7 L277.5,467.83 L278.5,470.11 L279.5,471.58 L280.5,471.99 L281.5,471.93 L282.5,471.94 L283.5,472.19 L284.5,472.22 L285.5,472.31 L286.5,472.14 L287.5,471.91 L288.5,472.16 L289.5,471.86 L290.5,472.21 L291.5,472.15 L292.5,472.15 L293.5,472.18 L294.5,472.04 L295.5,472.2 L296.5,472.06 L297.5,471.99 L298.5,471.94 L299.5,471.92 L300.5,471.77 L301.5,471.83 L302.5,472.1 L303.5,471.85 L304.5,472.03 L305.5,472.08 L306.5,472.05 L307.5,471.97 L308.5,471.88 L309.5,471.85 L310.5,471.81 L311.5,472.02 L312.5,472.03 L313.5,472.14 L314.5,471.87 L315.5,472.13 L316.5,472.13 L317.5,471.85 L318.5,472.14 L319.5,471.99 L320.5,472.14 L321.5,472.06 L322.5,471.87 L323.5,471.84 L324.5,471.95 L325.5,471.93 L326.5,471.73 L327.5,472.1 L328.5,471.95 L329.5,471.92 L330.5,472.04 L331.5,471.82 L332.5,471.8 L333.5,471.97 L334.5,471.82 L335.5,471.86 L336.5,471.74 L337.5,471.74 L338.5,471.87 L339.5,471.94 L340.5,472.13 L341.5,471.99 L342.5,471.89 L343.5,471.89 L344.5,471.82 L345.5,471.92 L346.5,472.13 L347.5,471.77 L348.5,471.9 L349.5,472.01 L350.5,472.05 L351.5,471.96 L352.5,471.99 L353.5,472.12 L354.5,472.11 L355.5,471.82 L356.5,471.95 L357.5,472.15 L358.5,471.94 L359.5,471.79 L360.5,472.05 L361.5,471.74 L362.5,471.78 L363.5,471.95 L364.5,471.83 L365.5,472.03 L366.5,472.03 L367.5,471.93 L368.5,462.86 L369.5,460.69 L370.5,460.16 L371.5,460.04 L372.5,460.01 L373.5,460 L374.5,460 L375.5,460" fill="none" stroke="#222" stroke-width="0.68" stroke-linejoin="round" />
<path d="M265.5,460 L266.5,460 L267.5,460 L268.5,460 L269.5,460 L270.5,460 L271.5,460 L272.5,460 L273.5,460 L274.5,460 L275.5,460 L276.5,462.19 L277.5,469.45 L278.5,472.44 L279.5,473.77 L280.5,474.21 L281.5,474.42 L282.5,474.36 L283.5,474.55 L284.5,474.76 L285.5,474.73 L286.5,474.35 L287.5,474.34 L288.5,474.41 L289.5,474.59 L290.5,474.46 L291.5,474.32 L292.5,474.44 L293.5,474.49 L294.5,474.56 L295.5,474.4 L296.5,474.5 L297.5,474.51 L298.5,474.48 L299.5,474.22 L300.5,474.51 L301.5,474.25 L302.5,474.21 L303.5,474.39 L304.5,474.19 L305.5,474.21 L306.5,474.34 L307.5,474.38 L308.5,474.21 L309.5,474.58 L310.5,474.54 L311.5,474.37 L312.5,474.42 L313.5,474.29 L314.5,474.59 L315.5,474.21 L316.5,474.29 L317.5,474.25 L318.5,474.53 L319.5,474.37 L320.5,474.33 L321.5,474.32 L322.5,474.54 L323.5,474.26 L324.5,474.49 L325.5,474.45 L326.5,474.34 L327.5,474.3 L328.5,474.33 L329.5,474.34 L330.5,474.28 L331.5,474.41 L332.5,474.32 L333.5,474.27 L334.5,474.48 L335.5,474.34 L336.5,474.35 L337.5,474.53 L338.5,474.34 L339.5,474.3 L340.5,474.53 L341.5,474.57 L342.5,474.48 L343.5,474.31 L344.5,474.43 L345.5,474.46 L346.5,474.27 L347.5,474.46 L348.5,474.55 L349.5,474.43 L350.5,474.43 L351.5,474.33 L352.5,474.42 L353.5,474.24 L354.5,474.48 L355.5,474.37 L356.5,474.57 L357.5,474.29 L358.5,474.45 L359.5,474.14 L360.5,474.32 L361.5,474.47 L362.5,474.25 L363.5,474.41 L364.5,474.23 L365.5,474.31 L366.5,474.57 L367.5,474.36 L368.5,463.44 L369.5,460.82 L370.5,460.2 L371.5,460.05 L372.5,460.01 L373.5,460 L374.5,460 L375.5,460" fill="none" stroke="#222" stroke-width="0.68" stroke-linejoin="round" />
<path d="M265.5,460 L266.5,460 L267.5,460 L268.5,460 L269.5,460 L270.5,460 L271.5,460 L272.5,460 L273.5,460 L274.5,460 L275.5,460 L276.5,462.54 L277.5,471.15 L278.5,474.35 L279.5,476.11 L280.5,476.87 L281.5,477.14 L282.5,477.04 L283.5,477.16 L284.5,477.22 L285.5,477.23 L286.5,477.21 L287.5,477.12 L288.5,476.96 L289.5,477.14 L290.5,477.06 L291.5,477.04 L292.5,477.23 L293.5,476.84 L294.5,477.12 L295.5,476.91 L296.5,477.07 L297.5,477.17 L298.5,476.86 L299.5,476.98 L300.5,476.96 L301.5,476.94 L302.5,476.79 L303.5,476.99 L304.5,477.1 L305.5,477 L306.5,476.83 L307.5,477.05 L308.5,476.88 L309.5,476.75 L310.5,476.95 L311.5,476.89 L312.5,476.92 L313.5,477.12 L314.5,476.93 L315.5,477.1 L316.5,476.83 L317.5,477.01 L318.5,476.71 L319.5,476.8 L320.5,476.98 L321.5,476.97 L322.5,477.03 L323.5,476.84 L324.5,476.79 L325.5,476.82 L326.5,476.9 L327.5,476.68 L328.5,476.83 L329.5,476.95 L330.5,476.73 L331.5,476.8 L332.5,477.05 L333.5,477.07 L334.5,476.77 L335.5,476.74 L336.5,476.71 L337.5,476.7 L338.5,477.01 L339.5,476.99 L340.5,476.78 L341.5,476.88 L342.5,476.97 L343.5,476.67 L344.5,477.02 L345.5,477.04 L346.5,476.75 L347.5,476.97 L348.5,476.97 L349.5,476.81 L350.5,477.05 L351.5,476.76 L352.5,476.87 L353.5,476.8 L354.5,476.85 L355.5,477.02 L356.5,476.91 L357.5,476.93 L358.5,477.09 L359.5,476.76 L360.5,476.76 L361.5,476.93 L362.5,476.72 L363.5,477.08 L364.5,476.81 L365.5,476.85 L366.5,476.85 L367.5,476.88 L368.5,464.04 L369.5,460.97 L370.5,460.23 L371.5,460.06 L372.5,460.01 L373.5,460 L374.5,460 L375.5,460" fill="none" stroke="#222" stroke-width="0.68" stroke-linejoin="round" />
<path d="M265.5,460 L266.5,460 L267.5,460 L268.5,460 L269.5,460 L270.5,460 L271.5,460 L272.5,460 L273.5,460 L274.5,460 L275.5,460 L276.5,463.24 L277.5,472.92 L278.5,476.96 L279.5,478.52 L280.5,479.35 L281.5,479.82 L282.5,479.72 L283.5,480.05 L284.5,480.04 L285.5,479.75 L286.5,479.79 L287.5,479.71 L288.5,479.91 L289.5,479.6 L290.5,479.87 L291.5,479.57 L292.5,479.9 L293.5,479.76 L294.5,479.76 L295.5,479.54 L296.5,479.51 L297.5,479.63 L298.5,479.9 L299.5,479.73 L300.5,479.83 L301.5,479.48 L302.5,479.49 L303.5,479.45 L304.5,479.74 L305.5,479.5 L306.5,479.54 L307.5,479.71 L308.5,479.72 L309.5,479.55 L310.5,479.61 L311.5,479.53 L312.5,479.65 L313.5,479.56 L314.5,479.56 L315.5,479.51 L316.5,479.52 L317.5,479.51 L318.5,479.4 L319.5,479.53 L320.5,479.65 L321.5,479.51 L322.5,479.44 L323.5,479.76 L324.5,479.59 L325.5,479.61 L326.5,479.52 L327.5,479.77 L328.5,479.71 L329.5,479.66 L330.5,479.67 L331.5,479.68 L332.5,479.6 L333.5,479.56 L334.5,479.55 L335.5,479.6 L336.5,479.58 L337.5,479.61 L338.5,479.61 L339.5,479.72 L340.5,479.77 L341.5,479.48 L342.5,479.39 L343.5,479.51 L344.5,479.39 L345.5,479.73 L346.5,479.65 L347.5,479.5 L348.5,479.46 L349.5,479.76 L350.5,479.74 L351.5,479.68 L352.5,479.68 L353.5,479.7 L354.5,479.57 L355.5,479.55 L356.5,479.62 L357.5,479.76 L358.5,479.81 L359.5,479.78 L360.5,479.74 L361.5,479.41 L362.5,479.48 L363.5,479.8 L364.5,479.61 L365.5,479.6 L366.5,479.51 L367.5,479.59 L368.5,464.7 L369.5,461.13 L370.5,460.27 L371.5,460.06 L372.5,460.02 L373.5,460 L374.5,460 L375.5,460" fill="none" stroke="#222" stroke-width="0.68" stroke-linejoin="round" />
<path d="M265.5,460 L266.3,460 L267.1,460 L267.9,460 L268.7,460 L269.5,460 L270.3,460 L271.1,460 L271.9,460 L272.7,460 L273.5,460 L274.3,460 L275.1,460 L275.9,460 L276.7,465.93 L277.5,473.42 L278.3,478.3 L279.1,480.31 L279.9,482.47 L280.7,482.62 L281.5,483.16 L282.3,483.53 L283.1,483.77 L283.9,483.38 L284.7,483.64 L285.5,483.82 L286.3,483.38 L287.1,483.51 L287.9,483.29 L288.7,483.19 L289.5,482.81 L290.3,482.93 L291.1,483.15 L291.9,482.92 L292.7,482.53 L293.5,482.62 L294.3,482.62 L295.1,482.42 L295.9,482.53 L296.7,482.52 L297.5,482.04 L298.3,482.14 L299.1,482.4 L299.9,482.05 L300.7,481.91 L301.5,482.36 L302.3,482.03 L303.1,482.43 L303.9,482.13 L304.7,481.78 L305.5,482.13 L306.3,481.84 L307.1,482.21 L307.9,482.13 L308.7,482.13 L309.5,481.62 L310.3,481.59 L311.1,482.11 L311.9,481.63 L312.7,481.66 L313.5,481.53 L314.3,481.61 L315.1,481.82 L315.9,482.14 L316.7,481.69 L317.5,481.64 L318.3,482.03 L319.1,481.57 L319.9,481.88 L320.7,481.85 L321.5,482.07 L322.3,481.44 L323.1,481.8 L323.9,481.67 L324.7,481.97 L325.5,481.57 L326.3,481.89 L327.1,481.51 L327.9,481.72 L328.7,482.05 L329.5,481.54 L330.3,481.56 L331.1,482.01 L331.9,481.83 L332.7,481.41 L333.5,481.49 L334.3,481.52 L335.1,481.56 L335.9,481.94 L336.7,481.84 L337.5,482.03 L338.3,481.81 L339.1,481.78 L339.9,481.61 L340.7,481.84 L341.5,481.69 L342.3,481.38 L343.1,481.68 L343.9,481.61 L344.7,481.71 L345.5,481.37 L346.3,481.35 L347.1,482.02 L347.9,481.59 L348.7,481.56 L349.5,481.44 L350.3,481.75 L351.1,481.97 L351.9,481.46 L352.7,481.68 L353.5,481.68 L354.3,481.86 L355.1,481.72 L355.9,481.49 L356.7,481.46 L357.5,481.83 L358.3,481.38 L359.1,481.93 L359.9,481.35 L360.7,481.46 L361.5,481.65 L362.3,481.92 L363.1,481.76 L363.9,481.85 L364.7,481.86 L365.5,481.83 L366.3,481.36 L367.1,481.9 L367.9,472.24 L368.7,463.9 L369.5,461.24 L370.3,460.4 L371.1,460.13 L371.9,460.04 L372.7,460.01 L373.5,460 L374.3,460 L375.1,460 L375.9,460" fill="none" stroke="#2b2b2b" stroke-width="0.6" stroke-linejoin="round" />
<path d="M276.1,444 L276.3,398.3 L276.6,445" fill="none" stroke="#333" stroke-width="0.6" stroke-linejoin="round" />
<path d="M265.5,458.87 L266.4,458.89 L267.3,458.67 L268.2,458.65 L269.1,460.18 L270,459.29 L270.9,458.76 L271.8,458.68 L272.7,460.12 L273.6,459.68 L274.5,460.25 L275.4,458.67 L276.3,458.8 L277.2,459.12 L278.1,458.94 L279,458.8 L279.9,458.96 L280.8,459.75 L281.7,458.9 L282.6,458.9 L283.5,459.56 L284.4,459.28 L285.3,458.87 L286.2,459.62 L287.1,459.51 L288,459.3 L288.9,459.45 L289.8,458.67 L290.7,459.71 L291.6,458.95 L292.5,459.2 L293.4,458.62 L294.3,460.2 L295.2,459.66 L296.1,459.31 L297,459.58 L297.9,460.29 L298.8,458.84 L299.7,459.29 L300.6,459.87 L301.5,459.27 L302.4,459.87 L303.3,460.23 L304.2,458.67 L305.1,459.11 L306,459.13 L306.9,459.95 L307.8,460.01 L308.7,459.86 L309.6,460.26 L310.5,458.93 L311.4,459.31 L312.3,460.14 L313.2,459.98 L314.1,458.8 L315,460.36 L315.9,459.93 L316.8,460.16 L317.7,459.25 L318.6,459.69 L319.5,460.33 L320.4,460.22 L321.3,459.64 L322.2,460.2 L323.1,460.4 L324,460.11 L324.9,459.78 L325.8,460.33 L326.7,458.86 L327.6,459.33 L328.5,459.62 L329.4,458.84 L330.3,460.01 L331.2,458.71 L332.1,459.73 L333,459.1 L333.9,459.18 L334.8,459.69 L335.7,458.94 L336.6,459.41 L337.5,460.14 L338.4,460.38 L339.3,459.07 L340.2,459.26 L341.1,459.85 L342,458.94 L342.9,460.13 L343.8,458.96 L344.7,459.6 L345.6,459.21 L346.5,458.6 L347.4,458.6 L348.3,458.6 L349.2,459.19 L350.1,459.1 L351,460.38 L351.9,459.75 L352.8,458.72 L353.7,459.89 L354.6,459.02 L355.5,459.47 L356.4,459.9 L357.3,460.14 L358.2,460.28 L359.1,459.36 L360,459.17 L360.9,459.32 L361.8,459.16 L362.7,459.93 L363.6,459.43 L364.5,459.83 L365.4,458.87 L366.3,460.01 L367.2,460.34 L368.1,458.97 L369,459.71 L369.9,458.89 L370.8,458.66 L371.7,459.35 L372.6,458.93 L373.5,459.92 L374.4,459.63 L375.3,459.81" fill="none" stroke="#1a1a1a" stroke-width="0.9" stroke-linejoin="round" />
<path d="M276.3,462.04 L277.2,460.4 L278.1,460.48 L279,460.36 L279.9,461.13 L280.8,461.78 L281.7,461.53 L282.6,461.29 L283.5,461.84 L284.4,460.97 L285.3,460.5 L286.2,461.45 L287.1,460.35 L288,460.71 L288.9,460.35 L289.8,460.59 L290.7,460.42 L291.6,461.26 L292.5,460.53 L293.4,461.39 L294.3,461.78 L295.2,460.92 L296.1,460.52 L297,461.51 L297.9,461.61 L298.8,461.89 L299.7,461.3 L300.6,461.35 L301.5,461.85 L302.4,461.52 L303.3,462.05 L304.2,460.82 L305.1,461.69 L306,461.44 L306.9,461.14 L307.8,460.32 L308.7,461.16 L309.6,460.77 L310.5,461.38 L311.4,461.22 L312.3,461.22 L313.2,460.41 L314.1,460.54 L315,461.39 L315.9,461.53 L316.8,462.08 L317.7,461.73 L318.6,460.82 L319.5,461.12 L320.4,461.21 L321.3,461.75 L322.2,461.01 L323.1,461.96 L324,461.17 L324.9,461.02 L325.8,461.16 L326.7,460.94 L327.6,462.1 L328.5,460.38 L329.4,461.02 L330.3,460.44 L331.2,461.52 L332.1,460.57 L333,460.57 L333.9,461.06 L334.8,461.38 L335.7,461.67 L336.6,461.1 L337.5,460.83 L338.4,460.96 L339.3,461.9 L340.2,460.68 L341.1,460.32 L342,461.89 L342.9,461.17 L343.8,460.54 L344.7,460.54 L345.6,461.9 L346.5,461.65 L347.4,460.42 L348.3,461.52 L349.2,460.68 L350.1,461.1 L351,461.39 L351.9,460.39 L352.8,461.98 L353.7,460.9 L354.6,460.56 L355.5,461.7 L356.4,460.5 L357.3,460.37 L358.2,461.47 L359.1,461.15 L360,461.92 L360.9,461.72 L361.8,460.67 L362.7,460.38 L363.6,461.39 L364.5,461.15 L365.4,460.84 L366.3,461.95" fill="none" stroke="#222" stroke-width="0.8" stroke-linejoin="round" />
<path d="M366.5,459.8 L376.2,459.8" fill="none" stroke="#111" stroke-width="2.8" stroke-linejoin="round" />
<path d="M265.5,460 L276.5,460" fill="none" stroke="#111" stroke-width="1.1" stroke-linejoin="round" />
<path d="M347.1,419.2 V432.1 H365.4" fill="none" stroke="#444" stroke-width="0.7"/>
<text x="345.3" y="427.9" font-family="Liberation Serif, serif" font-size="5.5" font-weight="bold" fill="#262626" text-anchor="end" textLength="13.3" lengthAdjust="spacingAndGlyphs">20 mV</text>
<text x="357.3" y="438.6" font-family="Liberation Serif, serif" font-size="5.5" font-weight="bold" fill="#262626" text-anchor="middle" >1 s</text>
<path d="M379.9,420.9 H473.5 M454.2,385.5 V482.9" stroke="#858585" stroke-width="1.25" fill="none"/>
<text x="379.9" y="427.1" font-family="Liberation Serif, serif" font-size="5.4" font-weight="bold" fill="#333" text-anchor="middle" >-120</text>
<text x="403.8" y="427.1" font-family="Liberation Serif, serif" font-size="5.4" font-weight="bold" fill="#333" text-anchor="middle" >-80</text>
<text x="429.2" y="427.1" font-family="Liberation Serif, serif" font-size="5.4" font-weight="bold" fill="#333" text-anchor="middle" >-40</text>
<text x="452.7" y="402.8" font-family="Liberation Serif, serif" font-size="5.4" font-weight="bold" fill="#333" text-anchor="end" >10</text>
<text x="452.7" y="442" font-family="Liberation Serif, serif" font-size="5.4" font-weight="bold" fill="#333" text-anchor="end" >-10</text>
<text x="452.7" y="463.2" font-family="Liberation Serif, serif" font-size="5.4" font-weight="bold" fill="#333" text-anchor="end" >-20</text>
<text x="452.7" y="483.1" font-family="Liberation Serif, serif" font-size="5.4" font-weight="bold" fill="#333" text-anchor="end" >-30</text>
<path d="M379.9,419.9 V421.9 M403.8,419.9 V421.9 M429.2,419.9 V421.9 M453.2,401 H455.2 M453.2,440.2 H455.2 M453.2,461.4 H455.2 M453.2,481.3 H455.2 M448,420 V421.8 M441.8,420 V421.8 M435.6,420 V421.8 M429.4,420 V421.8 M423.2,420 V421.8 M417,420 V421.8 M410.8,420 V421.8 M404.6,420 V421.8 M398.4,420 V421.8 M392.2,420 V421.8 M386,420 V421.8 M379.8,420 V421.8 M460.4,420 V421.8 M466.6,420 V421.8" stroke="#444" stroke-width="0.9" fill="none"/>
<text x="395.4" y="407.4" font-family="Liberation Serif, serif" font-size="5.9" font-weight="bold" fill="#2a2a2a">R<tspan font-size="3.66" font-style="italic" dy="1.3">M</tspan><tspan dy="-1.3"> = 345 M&#937;</tspan></text>
<text x="406" y="418" font-family="Liberation Serif, serif" font-size="5.9" font-weight="bold" fill="#2a2a2a" text-anchor="start" >I (pA)</text>
<text x="458" y="447.9" font-family="Liberation Serif, serif" font-size="5.9" font-weight="bold" fill="#2a2a2a" text-anchor="start" >V (mV)</text>
<path d="M446,431.5 L454.2,420.9 L460,414.5 L466.5,407.2" fill="none" stroke="#1e1e1e" stroke-width="1.9" stroke-linejoin="round" stroke-linecap="round"/>
<g fill="#b0b0b0" stroke="#505050" stroke-width="0.6"><circle cx="381.2" cy="481.8" r="1.3"/><circle cx="388.3" cy="479.6" r="1.3"/><circle cx="392.3" cy="475.6" r="1.3"/><circle cx="394.5" cy="474.3" r="1.3"/><circle cx="397.1" cy="472.9" r="1.3"/><circle cx="399.8" cy="471.9" r="1.3"/><circle cx="403.3" cy="470.7" r="1.3"/><circle cx="406" cy="469" r="1.3"/><circle cx="408.2" cy="467.4" r="1.3"/><circle cx="411.5" cy="465.4" r="1.3"/><circle cx="414.8" cy="463" r="1.3"/><circle cx="418" cy="460.8" r="1.3"/><circle cx="421.5" cy="458.5" r="1.3"/><circle cx="427.7" cy="450.8" r="1.3"/><circle cx="430.3" cy="448" r="1.3"/><circle cx="433" cy="445.3" r="1.3"/><circle cx="436" cy="442" r="1.3"/><circle cx="439.2" cy="438.6" r="1.3"/><circle cx="441.5" cy="436.4" r="1.3"/><circle cx="443.6" cy="434.2" r="1.3"/><circle cx="446.3" cy="431" r="1.3"/><circle cx="449.1" cy="427.6" r="1.3"/><circle cx="464.6" cy="409.9" r="1.3"/><circle cx="466.8" cy="406" r="1.3"/><circle cx="469" cy="402.1" r="1.3"/><circle cx="472.3" cy="397.3" r="1.3"/></g>
</svg>
</body></html>
